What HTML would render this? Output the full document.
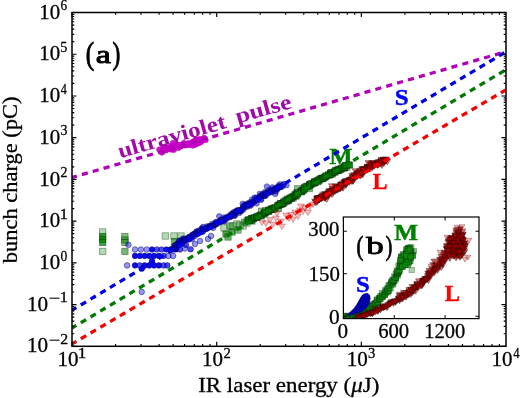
<!DOCTYPE html><html><head><meta charset="utf-8"><style>html,body{margin:0;padding:0;background:#fff;overflow:hidden}svg{display:block}</style></head><body><svg width="520" height="398" viewBox="0 0 520 398">
<defs><clipPath id="cm"><rect x="72.0" y="12.5" width="434.0" height="333.8"/></clipPath></defs>
<rect width="520" height="398" fill="#fff"/>
<text transform="translate(394.85,105.40) scale(1.0965,1)" font-family="'Liberation Serif','DejaVu Serif',serif" font-size="22.8" font-weight="bold" fill="#0000ff" stroke="#0000ff" stroke-width="0.45">S</text>
<text transform="translate(329.41,163.50) scale(1.0673,1)" font-family="'Liberation Serif','DejaVu Serif',serif" font-size="22.8" font-weight="bold" fill="#008000" stroke="#008000" stroke-width="0.45">M</text>
<text transform="translate(372.86,188.60) scale(0.9483,1)" font-family="'Liberation Serif','DejaVu Serif',serif" font-size="23.2" font-weight="bold" fill="#ff0000" stroke="#ff0000" stroke-width="0.45">L</text>
<circle cx="159.4" cy="149.6" r="2.8" fill="#c400c4" fill-opacity="0.9" stroke="#c400c4" stroke-opacity="0.9" stroke-width="0.7"/>
<circle cx="161.9" cy="152.5" r="2.8" fill="#c400c4" fill-opacity="0.9" stroke="#c400c4" stroke-opacity="0.9" stroke-width="0.7"/>
<circle cx="162.3" cy="151.5" r="2.8" fill="#c400c4" fill-opacity="0.9" stroke="#c400c4" stroke-opacity="0.9" stroke-width="0.7"/>
<circle cx="163.3" cy="149.4" r="2.8" fill="#c400c4" fill-opacity="0.9" stroke="#c400c4" stroke-opacity="0.9" stroke-width="0.7"/>
<circle cx="163.3" cy="147.8" r="2.8" fill="#c400c4" fill-opacity="0.9" stroke="#c400c4" stroke-opacity="0.9" stroke-width="0.7"/>
<circle cx="165.5" cy="149.4" r="2.8" fill="#c400c4" fill-opacity="0.9" stroke="#c400c4" stroke-opacity="0.9" stroke-width="0.7"/>
<circle cx="165.6" cy="150.2" r="2.8" fill="#c400c4" fill-opacity="0.9" stroke="#c400c4" stroke-opacity="0.9" stroke-width="0.7"/>
<circle cx="167.5" cy="148.3" r="2.8" fill="#c400c4" fill-opacity="0.9" stroke="#c400c4" stroke-opacity="0.9" stroke-width="0.7"/>
<circle cx="164.5" cy="146.8" r="2.8" fill="#c400c4" fill-opacity="0.9" stroke="#c400c4" stroke-opacity="0.9" stroke-width="0.7"/>
<circle cx="166.5" cy="149.7" r="2.8" fill="#c400c4" fill-opacity="0.9" stroke="#c400c4" stroke-opacity="0.9" stroke-width="0.7"/>
<circle cx="168.0" cy="148.0" r="2.8" fill="#c400c4" fill-opacity="0.9" stroke="#c400c4" stroke-opacity="0.9" stroke-width="0.7"/>
<circle cx="166.7" cy="148.1" r="2.8" fill="#c400c4" fill-opacity="0.9" stroke="#c400c4" stroke-opacity="0.9" stroke-width="0.7"/>
<circle cx="170.4" cy="147.0" r="2.8" fill="#c400c4" fill-opacity="0.9" stroke="#c400c4" stroke-opacity="0.9" stroke-width="0.7"/>
<circle cx="169.9" cy="148.0" r="2.8" fill="#c400c4" fill-opacity="0.9" stroke="#c400c4" stroke-opacity="0.9" stroke-width="0.7"/>
<circle cx="171.1" cy="149.4" r="2.8" fill="#c400c4" fill-opacity="0.9" stroke="#c400c4" stroke-opacity="0.9" stroke-width="0.7"/>
<circle cx="171.9" cy="148.6" r="2.8" fill="#c400c4" fill-opacity="0.9" stroke="#c400c4" stroke-opacity="0.9" stroke-width="0.7"/>
<circle cx="173.8" cy="149.7" r="2.8" fill="#c400c4" fill-opacity="0.9" stroke="#c400c4" stroke-opacity="0.9" stroke-width="0.7"/>
<circle cx="171.1" cy="147.4" r="2.8" fill="#c400c4" fill-opacity="0.9" stroke="#c400c4" stroke-opacity="0.9" stroke-width="0.7"/>
<circle cx="172.6" cy="148.0" r="2.8" fill="#c400c4" fill-opacity="0.9" stroke="#c400c4" stroke-opacity="0.9" stroke-width="0.7"/>
<circle cx="174.0" cy="147.2" r="2.8" fill="#c400c4" fill-opacity="0.9" stroke="#c400c4" stroke-opacity="0.9" stroke-width="0.7"/>
<circle cx="173.1" cy="143.1" r="2.8" fill="#c400c4" fill-opacity="0.9" stroke="#c400c4" stroke-opacity="0.9" stroke-width="0.7"/>
<circle cx="174.3" cy="147.0" r="2.8" fill="#c400c4" fill-opacity="0.9" stroke="#c400c4" stroke-opacity="0.9" stroke-width="0.7"/>
<circle cx="175.1" cy="146.6" r="2.8" fill="#c400c4" fill-opacity="0.9" stroke="#c400c4" stroke-opacity="0.9" stroke-width="0.7"/>
<circle cx="172.8" cy="146.4" r="2.8" fill="#c400c4" fill-opacity="0.9" stroke="#c400c4" stroke-opacity="0.9" stroke-width="0.7"/>
<circle cx="175.9" cy="145.5" r="2.8" fill="#c400c4" fill-opacity="0.9" stroke="#c400c4" stroke-opacity="0.9" stroke-width="0.7"/>
<circle cx="177.2" cy="145.0" r="2.8" fill="#c400c4" fill-opacity="0.9" stroke="#c400c4" stroke-opacity="0.9" stroke-width="0.7"/>
<circle cx="176.8" cy="144.9" r="2.8" fill="#c400c4" fill-opacity="0.9" stroke="#c400c4" stroke-opacity="0.9" stroke-width="0.7"/>
<circle cx="178.5" cy="147.8" r="2.8" fill="#c400c4" fill-opacity="0.9" stroke="#c400c4" stroke-opacity="0.9" stroke-width="0.7"/>
<circle cx="177.9" cy="145.0" r="2.8" fill="#c400c4" fill-opacity="0.9" stroke="#c400c4" stroke-opacity="0.9" stroke-width="0.7"/>
<circle cx="179.4" cy="145.8" r="2.8" fill="#c400c4" fill-opacity="0.9" stroke="#c400c4" stroke-opacity="0.9" stroke-width="0.7"/>
<circle cx="181.0" cy="145.2" r="2.8" fill="#c400c4" fill-opacity="0.9" stroke="#c400c4" stroke-opacity="0.9" stroke-width="0.7"/>
<circle cx="181.0" cy="146.2" r="2.8" fill="#c400c4" fill-opacity="0.9" stroke="#c400c4" stroke-opacity="0.9" stroke-width="0.7"/>
<circle cx="180.5" cy="145.8" r="2.8" fill="#c400c4" fill-opacity="0.9" stroke="#c400c4" stroke-opacity="0.9" stroke-width="0.7"/>
<circle cx="181.4" cy="145.0" r="2.8" fill="#c400c4" fill-opacity="0.9" stroke="#c400c4" stroke-opacity="0.9" stroke-width="0.7"/>
<circle cx="181.7" cy="145.2" r="2.8" fill="#c400c4" fill-opacity="0.9" stroke="#c400c4" stroke-opacity="0.9" stroke-width="0.7"/>
<circle cx="183.8" cy="143.2" r="2.8" fill="#c400c4" fill-opacity="0.9" stroke="#c400c4" stroke-opacity="0.9" stroke-width="0.7"/>
<circle cx="184.6" cy="145.1" r="2.8" fill="#c400c4" fill-opacity="0.9" stroke="#c400c4" stroke-opacity="0.9" stroke-width="0.7"/>
<circle cx="184.8" cy="144.6" r="2.8" fill="#c400c4" fill-opacity="0.9" stroke="#c400c4" stroke-opacity="0.9" stroke-width="0.7"/>
<circle cx="186.2" cy="145.1" r="2.8" fill="#c400c4" fill-opacity="0.9" stroke="#c400c4" stroke-opacity="0.9" stroke-width="0.7"/>
<circle cx="184.7" cy="143.9" r="2.8" fill="#c400c4" fill-opacity="0.9" stroke="#c400c4" stroke-opacity="0.9" stroke-width="0.7"/>
<circle cx="186.4" cy="144.5" r="2.8" fill="#c400c4" fill-opacity="0.9" stroke="#c400c4" stroke-opacity="0.9" stroke-width="0.7"/>
<circle cx="189.2" cy="144.5" r="2.8" fill="#c400c4" fill-opacity="0.9" stroke="#c400c4" stroke-opacity="0.9" stroke-width="0.7"/>
<circle cx="189.1" cy="144.3" r="2.8" fill="#c400c4" fill-opacity="0.9" stroke="#c400c4" stroke-opacity="0.9" stroke-width="0.7"/>
<circle cx="188.3" cy="144.6" r="2.8" fill="#c400c4" fill-opacity="0.9" stroke="#c400c4" stroke-opacity="0.9" stroke-width="0.7"/>
<circle cx="188.3" cy="143.2" r="2.8" fill="#c400c4" fill-opacity="0.9" stroke="#c400c4" stroke-opacity="0.9" stroke-width="0.7"/>
<circle cx="190.2" cy="144.1" r="2.8" fill="#c400c4" fill-opacity="0.9" stroke="#c400c4" stroke-opacity="0.9" stroke-width="0.7"/>
<circle cx="192.7" cy="145.4" r="2.8" fill="#c400c4" fill-opacity="0.9" stroke="#c400c4" stroke-opacity="0.9" stroke-width="0.7"/>
<circle cx="191.5" cy="143.9" r="2.8" fill="#c400c4" fill-opacity="0.9" stroke="#c400c4" stroke-opacity="0.9" stroke-width="0.7"/>
<circle cx="192.7" cy="142.0" r="2.8" fill="#c400c4" fill-opacity="0.9" stroke="#c400c4" stroke-opacity="0.9" stroke-width="0.7"/>
<circle cx="191.9" cy="143.0" r="2.8" fill="#c400c4" fill-opacity="0.9" stroke="#c400c4" stroke-opacity="0.9" stroke-width="0.7"/>
<circle cx="193.4" cy="142.7" r="2.8" fill="#c400c4" fill-opacity="0.9" stroke="#c400c4" stroke-opacity="0.9" stroke-width="0.7"/>
<circle cx="195.4" cy="144.4" r="2.8" fill="#c400c4" fill-opacity="0.9" stroke="#c400c4" stroke-opacity="0.9" stroke-width="0.7"/>
<circle cx="194.9" cy="144.2" r="2.8" fill="#c400c4" fill-opacity="0.9" stroke="#c400c4" stroke-opacity="0.9" stroke-width="0.7"/>
<circle cx="195.5" cy="141.3" r="2.8" fill="#c400c4" fill-opacity="0.9" stroke="#c400c4" stroke-opacity="0.9" stroke-width="0.7"/>
<circle cx="195.9" cy="141.1" r="2.8" fill="#c400c4" fill-opacity="0.9" stroke="#c400c4" stroke-opacity="0.9" stroke-width="0.7"/>
<circle cx="195.3" cy="140.0" r="2.8" fill="#c400c4" fill-opacity="0.9" stroke="#c400c4" stroke-opacity="0.9" stroke-width="0.7"/>
<circle cx="196.6" cy="139.5" r="2.8" fill="#c400c4" fill-opacity="0.9" stroke="#c400c4" stroke-opacity="0.9" stroke-width="0.7"/>
<circle cx="198.6" cy="143.2" r="2.8" fill="#c400c4" fill-opacity="0.9" stroke="#c400c4" stroke-opacity="0.9" stroke-width="0.7"/>
<circle cx="199.3" cy="139.4" r="2.8" fill="#c400c4" fill-opacity="0.9" stroke="#c400c4" stroke-opacity="0.9" stroke-width="0.7"/>
<circle cx="197.3" cy="141.4" r="2.8" fill="#c400c4" fill-opacity="0.9" stroke="#c400c4" stroke-opacity="0.9" stroke-width="0.7"/>
<circle cx="199.4" cy="141.1" r="2.8" fill="#c400c4" fill-opacity="0.9" stroke="#c400c4" stroke-opacity="0.9" stroke-width="0.7"/>
<circle cx="199.6" cy="141.3" r="2.8" fill="#c400c4" fill-opacity="0.9" stroke="#c400c4" stroke-opacity="0.9" stroke-width="0.7"/>
<circle cx="200.7" cy="142.0" r="2.8" fill="#c400c4" fill-opacity="0.9" stroke="#c400c4" stroke-opacity="0.9" stroke-width="0.7"/>
<circle cx="199.8" cy="139.9" r="2.8" fill="#c400c4" fill-opacity="0.9" stroke="#c400c4" stroke-opacity="0.9" stroke-width="0.7"/>
<circle cx="201.3" cy="141.0" r="2.8" fill="#c400c4" fill-opacity="0.9" stroke="#c400c4" stroke-opacity="0.9" stroke-width="0.7"/>
<circle cx="203.2" cy="139.8" r="2.8" fill="#c400c4" fill-opacity="0.9" stroke="#c400c4" stroke-opacity="0.9" stroke-width="0.7"/>
<circle cx="201.8" cy="139.3" r="2.8" fill="#c400c4" fill-opacity="0.9" stroke="#c400c4" stroke-opacity="0.9" stroke-width="0.7"/>
<circle cx="205.5" cy="140.0" r="2.8" fill="#c400c4" fill-opacity="0.9" stroke="#c400c4" stroke-opacity="0.9" stroke-width="0.7"/>
<circle cx="204.0" cy="138.0" r="2.8" fill="#c400c4" fill-opacity="0.9" stroke="#c400c4" stroke-opacity="0.9" stroke-width="0.7"/>
<circle cx="204.7" cy="138.8" r="2.8" fill="#c400c4" fill-opacity="0.9" stroke="#c400c4" stroke-opacity="0.9" stroke-width="0.7"/>
<rect x="99.5" y="228.8" width="6.4" height="6.4" fill="#008000" fill-opacity="0.3" stroke="#003000" stroke-opacity="0.5" stroke-width="0.7"/>
<rect x="99.5" y="233.3" width="6.4" height="6.4" fill="#008000" fill-opacity="0.75" stroke="#003000" stroke-opacity="0.5" stroke-width="0.7"/>
<rect x="99.5" y="236.3" width="6.4" height="6.4" fill="#008000" fill-opacity="0.75" stroke="#003000" stroke-opacity="0.5" stroke-width="0.7"/>
<rect x="99.5" y="239.3" width="6.4" height="6.4" fill="#008000" fill-opacity="0.75" stroke="#003000" stroke-opacity="0.5" stroke-width="0.7"/>
<rect x="99.5" y="248.2" width="6.4" height="6.4" fill="#008000" fill-opacity="0.3" stroke="#003000" stroke-opacity="0.5" stroke-width="0.7"/>
<rect x="121.7" y="233.3" width="6.4" height="6.4" fill="#008000" fill-opacity="0.5" stroke="#003000" stroke-opacity="0.5" stroke-width="0.7"/>
<rect x="121.7" y="236.8" width="6.4" height="6.4" fill="#008000" fill-opacity="0.5" stroke="#003000" stroke-opacity="0.5" stroke-width="0.7"/>
<rect x="121.7" y="239.3" width="6.4" height="6.4" fill="#008000" fill-opacity="0.5" stroke="#003000" stroke-opacity="0.5" stroke-width="0.7"/>
<rect x="121.7" y="248.2" width="6.4" height="6.4" fill="#008000" fill-opacity="0.55" stroke="#003000" stroke-opacity="0.5" stroke-width="0.7"/>
<rect x="162.1" y="232.8" width="6.4" height="6.4" fill="#008000" fill-opacity="0.3" stroke="#003000" stroke-opacity="0.5" stroke-width="0.7"/>
<rect x="170.8" y="232.8" width="6.4" height="6.4" fill="#008000" fill-opacity="0.3" stroke="#003000" stroke-opacity="0.5" stroke-width="0.7"/>
<rect x="177.8" y="232.8" width="6.4" height="6.4" fill="#008000" fill-opacity="0.3" stroke="#003000" stroke-opacity="0.5" stroke-width="0.7"/>
<rect x="171.3" y="238.3" width="6.4" height="6.4" fill="#008000" fill-opacity="0.6" stroke="#003000" stroke-opacity="0.5" stroke-width="0.7"/>
<circle cx="135.0" cy="249.5" r="2.8" fill="#0000f0" fill-opacity="0.42" stroke="#000050" stroke-opacity="0.65" stroke-width="0.7"/>
<circle cx="140.9" cy="249.5" r="2.8" fill="#0000f0" fill-opacity="0.42" stroke="#000050" stroke-opacity="0.65" stroke-width="0.7"/>
<circle cx="146.7" cy="249.5" r="2.8" fill="#0000f0" fill-opacity="0.42" stroke="#000050" stroke-opacity="0.65" stroke-width="0.7"/>
<circle cx="152.0" cy="249.5" r="2.8" fill="#0000f0" fill-opacity="0.95" stroke="#000050" stroke-opacity="0.65" stroke-width="0.7"/>
<circle cx="156.7" cy="249.5" r="2.8" fill="#0000f0" fill-opacity="0.7" stroke="#000050" stroke-opacity="0.65" stroke-width="0.7"/>
<circle cx="161.5" cy="249.5" r="2.8" fill="#0000f0" fill-opacity="0.7" stroke="#000050" stroke-opacity="0.65" stroke-width="0.7"/>
<circle cx="166.3" cy="249.5" r="2.8" fill="#0000f0" fill-opacity="0.95" stroke="#000050" stroke-opacity="0.65" stroke-width="0.7"/>
<circle cx="170.5" cy="249.5" r="2.8" fill="#0000f0" fill-opacity="0.95" stroke="#000050" stroke-opacity="0.65" stroke-width="0.7"/>
<circle cx="175.8" cy="249.5" r="2.8" fill="#0000f0" fill-opacity="0.95" stroke="#000050" stroke-opacity="0.65" stroke-width="0.7"/>
<circle cx="135.0" cy="255.9" r="2.8" fill="#0000f0" fill-opacity="0.95" stroke="#000050" stroke-opacity="0.65" stroke-width="0.7"/>
<circle cx="139.8" cy="255.9" r="2.8" fill="#0000f0" fill-opacity="0.95" stroke="#000050" stroke-opacity="0.65" stroke-width="0.7"/>
<circle cx="144.6" cy="255.9" r="2.8" fill="#0000f0" fill-opacity="0.95" stroke="#000050" stroke-opacity="0.65" stroke-width="0.7"/>
<circle cx="149.3" cy="255.9" r="2.8" fill="#0000f0" fill-opacity="0.95" stroke="#000050" stroke-opacity="0.65" stroke-width="0.7"/>
<circle cx="154.1" cy="255.9" r="2.8" fill="#0000f0" fill-opacity="0.95" stroke="#000050" stroke-opacity="0.65" stroke-width="0.7"/>
<circle cx="158.9" cy="255.9" r="2.8" fill="#0000f0" fill-opacity="0.95" stroke="#000050" stroke-opacity="0.65" stroke-width="0.7"/>
<circle cx="163.6" cy="255.9" r="2.8" fill="#0000f0" fill-opacity="0.7" stroke="#000050" stroke-opacity="0.65" stroke-width="0.7"/>
<circle cx="168.4" cy="255.9" r="2.8" fill="#0000f0" fill-opacity="0.42" stroke="#000050" stroke-opacity="0.65" stroke-width="0.7"/>
<circle cx="173.1" cy="255.9" r="2.8" fill="#0000f0" fill-opacity="0.42" stroke="#000050" stroke-opacity="0.65" stroke-width="0.7"/>
<circle cx="127.1" cy="265.4" r="2.8" fill="#0000f0" fill-opacity="0.42" stroke="#000050" stroke-opacity="0.65" stroke-width="0.7"/>
<circle cx="135.0" cy="265.4" r="2.8" fill="#0000f0" fill-opacity="0.95" stroke="#000050" stroke-opacity="0.65" stroke-width="0.7"/>
<circle cx="139.8" cy="265.4" r="2.8" fill="#0000f0" fill-opacity="0.7" stroke="#000050" stroke-opacity="0.65" stroke-width="0.7"/>
<circle cx="144.6" cy="265.4" r="2.8" fill="#0000f0" fill-opacity="0.95" stroke="#000050" stroke-opacity="0.65" stroke-width="0.7"/>
<circle cx="149.3" cy="265.4" r="2.8" fill="#0000f0" fill-opacity="0.95" stroke="#000050" stroke-opacity="0.65" stroke-width="0.7"/>
<circle cx="154.1" cy="265.4" r="2.8" fill="#0000f0" fill-opacity="0.95" stroke="#000050" stroke-opacity="0.65" stroke-width="0.7"/>
<circle cx="158.9" cy="265.4" r="2.8" fill="#0000f0" fill-opacity="0.95" stroke="#000050" stroke-opacity="0.65" stroke-width="0.7"/>
<circle cx="163.6" cy="265.4" r="2.8" fill="#0000f0" fill-opacity="0.7" stroke="#000050" stroke-opacity="0.65" stroke-width="0.7"/>
<circle cx="167.3" cy="265.4" r="2.8" fill="#0000f0" fill-opacity="0.7" stroke="#000050" stroke-opacity="0.65" stroke-width="0.7"/>
<circle cx="152.0" cy="261.0" r="2.8" fill="#0000f0" fill-opacity="0.95" stroke="#000050" stroke-opacity="0.65" stroke-width="0.7"/>
<circle cx="142.0" cy="268.6" r="2.8" fill="#0000f0" fill-opacity="0.95" stroke="#000050" stroke-opacity="0.65" stroke-width="0.7"/>
<circle cx="128.4" cy="244.8" r="2.8" fill="#0000f0" fill-opacity="0.42" stroke="#000050" stroke-opacity="0.65" stroke-width="0.7"/>
<circle cx="141.7" cy="291.9" r="2.8" fill="#0000f0" fill-opacity="0.42" stroke="#000050" stroke-opacity="0.65" stroke-width="0.7"/>
<circle cx="180.0" cy="249.5" r="2.8" fill="#0000f0" fill-opacity="0.7" stroke="#000050" stroke-opacity="0.65" stroke-width="0.7"/>
<circle cx="185.0" cy="248.5" r="2.8" fill="#0000f0" fill-opacity="0.42" stroke="#000050" stroke-opacity="0.65" stroke-width="0.7"/>
<circle cx="190.6" cy="249.3" r="2.8" fill="#0000f0" fill-opacity="0.7" stroke="#000050" stroke-opacity="0.65" stroke-width="0.7"/>
<circle cx="186.0" cy="245.0" r="2.8" fill="#0000f0" fill-opacity="0.7" stroke="#000050" stroke-opacity="0.65" stroke-width="0.7"/>
<circle cx="195.0" cy="244.0" r="2.8" fill="#0000f0" fill-opacity="0.42" stroke="#000050" stroke-opacity="0.65" stroke-width="0.7"/>
<circle cx="200.0" cy="241.0" r="2.8" fill="#0000f0" fill-opacity="0.42" stroke="#000050" stroke-opacity="0.65" stroke-width="0.7"/>
<circle cx="211.0" cy="236.0" r="2.8" fill="#0000f0" fill-opacity="0.42" stroke="#000050" stroke-opacity="0.65" stroke-width="0.7"/>
<circle cx="208.0" cy="239.0" r="2.8" fill="#0000f0" fill-opacity="0.42" stroke="#000050" stroke-opacity="0.65" stroke-width="0.7"/>
<rect x="220.8" y="224.8" width="6.4" height="6.4" fill="#008000" fill-opacity="0.3" stroke="#003000" stroke-opacity="0.5" stroke-width="0.7"/>
<rect x="222.8" y="230.8" width="6.4" height="6.4" fill="#008000" fill-opacity="0.7" stroke="#003000" stroke-opacity="0.5" stroke-width="0.7"/>
<rect x="226.8" y="222.8" width="6.4" height="6.4" fill="#008000" fill-opacity="0.5" stroke="#003000" stroke-opacity="0.5" stroke-width="0.7"/>
<rect x="228.8" y="228.8" width="6.4" height="6.4" fill="#008000" fill-opacity="0.7" stroke="#003000" stroke-opacity="0.5" stroke-width="0.7"/>
<rect x="233.8" y="220.8" width="6.4" height="6.4" fill="#008000" fill-opacity="0.3" stroke="#003000" stroke-opacity="0.5" stroke-width="0.7"/>
<rect x="234.8" y="226.8" width="6.4" height="6.4" fill="#008000" fill-opacity="0.5" stroke="#003000" stroke-opacity="0.5" stroke-width="0.7"/>
<rect x="239.8" y="222.8" width="6.4" height="6.4" fill="#008000" fill-opacity="0.3" stroke="#003000" stroke-opacity="0.5" stroke-width="0.7"/>
<rect x="229.8" y="222.8" width="6.4" height="6.4" fill="#008000" fill-opacity="0.3" stroke="#003000" stroke-opacity="0.5" stroke-width="0.7"/>
<rect x="236.8" y="221.8" width="6.4" height="6.4" fill="#008000" fill-opacity="0.3" stroke="#003000" stroke-opacity="0.5" stroke-width="0.7"/>
<rect x="243.8" y="219.8" width="6.4" height="6.4" fill="#008000" fill-opacity="0.3" stroke="#003000" stroke-opacity="0.5" stroke-width="0.7"/>
<rect x="248.8" y="217.8" width="6.4" height="6.4" fill="#008000" fill-opacity="0.35" stroke="#003000" stroke-opacity="0.5" stroke-width="0.7"/>
<rect x="224.8" y="233.8" width="6.4" height="6.4" fill="#008000" fill-opacity="0.6" stroke="#003000" stroke-opacity="0.5" stroke-width="0.7"/>
<circle cx="172.5" cy="249.8" r="2.8" fill="#0000f0" fill-opacity="0.5" stroke="#000030" stroke-opacity="0.5" stroke-width="0.7"/>
<circle cx="173.5" cy="248.9" r="2.8" fill="#0000f0" fill-opacity="0.5" stroke="#000030" stroke-opacity="0.5" stroke-width="0.7"/>
<circle cx="172.4" cy="248.6" r="2.8" fill="#0000f0" fill-opacity="0.5" stroke="#000030" stroke-opacity="0.5" stroke-width="0.7"/>
<circle cx="174.1" cy="245.9" r="2.8" fill="#0000f0" fill-opacity="0.5" stroke="#000030" stroke-opacity="0.5" stroke-width="0.7"/>
<circle cx="175.0" cy="246.4" r="2.8" fill="#0000f0" fill-opacity="0.5" stroke="#000030" stroke-opacity="0.5" stroke-width="0.7"/>
<circle cx="174.6" cy="247.6" r="2.8" fill="#0000f0" fill-opacity="0.5" stroke="#000030" stroke-opacity="0.5" stroke-width="0.7"/>
<circle cx="175.5" cy="247.6" r="2.8" fill="#0000f0" fill-opacity="0.5" stroke="#000030" stroke-opacity="0.5" stroke-width="0.7"/>
<circle cx="176.4" cy="247.8" r="2.8" fill="#0000f0" fill-opacity="0.5" stroke="#000030" stroke-opacity="0.5" stroke-width="0.7"/>
<circle cx="176.3" cy="244.4" r="2.8" fill="#0000f0" fill-opacity="0.5" stroke="#000030" stroke-opacity="0.5" stroke-width="0.7"/>
<circle cx="176.6" cy="245.4" r="2.8" fill="#0000f0" fill-opacity="0.5" stroke="#000030" stroke-opacity="0.5" stroke-width="0.7"/>
<circle cx="177.0" cy="244.8" r="2.8" fill="#0000f0" fill-opacity="0.5" stroke="#000030" stroke-opacity="0.5" stroke-width="0.7"/>
<circle cx="177.4" cy="245.7" r="2.8" fill="#0000f0" fill-opacity="0.5" stroke="#000030" stroke-opacity="0.5" stroke-width="0.7"/>
<circle cx="177.0" cy="244.9" r="2.8" fill="#0000f0" fill-opacity="0.5" stroke="#000030" stroke-opacity="0.5" stroke-width="0.7"/>
<circle cx="178.6" cy="243.7" r="2.8" fill="#0000f0" fill-opacity="0.5" stroke="#000030" stroke-opacity="0.5" stroke-width="0.7"/>
<circle cx="177.3" cy="243.9" r="2.8" fill="#0000f0" fill-opacity="0.5" stroke="#000030" stroke-opacity="0.5" stroke-width="0.7"/>
<circle cx="179.4" cy="244.3" r="2.8" fill="#0000f0" fill-opacity="0.5" stroke="#000030" stroke-opacity="0.5" stroke-width="0.7"/>
<circle cx="180.2" cy="241.6" r="2.8" fill="#0000f0" fill-opacity="0.5" stroke="#000030" stroke-opacity="0.5" stroke-width="0.7"/>
<circle cx="178.7" cy="241.7" r="2.8" fill="#0000f0" fill-opacity="0.5" stroke="#000030" stroke-opacity="0.5" stroke-width="0.7"/>
<circle cx="180.1" cy="244.0" r="2.8" fill="#0000f0" fill-opacity="0.5" stroke="#000030" stroke-opacity="0.5" stroke-width="0.7"/>
<circle cx="179.6" cy="241.0" r="2.8" fill="#0000f0" fill-opacity="0.5" stroke="#000030" stroke-opacity="0.5" stroke-width="0.7"/>
<circle cx="180.1" cy="242.9" r="2.8" fill="#0000f0" fill-opacity="0.5" stroke="#000030" stroke-opacity="0.5" stroke-width="0.7"/>
<circle cx="183.1" cy="239.8" r="2.8" fill="#0000f0" fill-opacity="0.5" stroke="#000030" stroke-opacity="0.5" stroke-width="0.7"/>
<circle cx="180.3" cy="240.4" r="2.8" fill="#0000f0" fill-opacity="0.5" stroke="#000030" stroke-opacity="0.5" stroke-width="0.7"/>
<circle cx="182.5" cy="241.2" r="2.8" fill="#0000f0" fill-opacity="0.5" stroke="#000030" stroke-opacity="0.5" stroke-width="0.7"/>
<circle cx="182.6" cy="241.6" r="2.8" fill="#0000f0" fill-opacity="0.5" stroke="#000030" stroke-opacity="0.5" stroke-width="0.7"/>
<circle cx="182.3" cy="243.4" r="2.8" fill="#0000f0" fill-opacity="0.5" stroke="#000030" stroke-opacity="0.5" stroke-width="0.7"/>
<circle cx="182.9" cy="238.8" r="2.8" fill="#0000f0" fill-opacity="0.5" stroke="#000030" stroke-opacity="0.5" stroke-width="0.7"/>
<circle cx="183.8" cy="238.6" r="2.8" fill="#0000f0" fill-opacity="0.5" stroke="#000030" stroke-opacity="0.5" stroke-width="0.7"/>
<circle cx="187.4" cy="238.2" r="2.8" fill="#0000f0" fill-opacity="0.5" stroke="#000030" stroke-opacity="0.5" stroke-width="0.7"/>
<circle cx="184.3" cy="240.4" r="2.8" fill="#0000f0" fill-opacity="0.5" stroke="#000030" stroke-opacity="0.5" stroke-width="0.7"/>
<circle cx="186.9" cy="239.3" r="2.8" fill="#0000f0" fill-opacity="0.5" stroke="#000030" stroke-opacity="0.5" stroke-width="0.7"/>
<circle cx="185.4" cy="240.2" r="2.8" fill="#0000f0" fill-opacity="0.5" stroke="#000030" stroke-opacity="0.5" stroke-width="0.7"/>
<circle cx="185.5" cy="239.5" r="2.8" fill="#0000f0" fill-opacity="0.5" stroke="#000030" stroke-opacity="0.5" stroke-width="0.7"/>
<circle cx="187.8" cy="238.2" r="2.8" fill="#0000f0" fill-opacity="0.5" stroke="#000030" stroke-opacity="0.5" stroke-width="0.7"/>
<circle cx="187.0" cy="238.5" r="2.8" fill="#0000f0" fill-opacity="0.5" stroke="#000030" stroke-opacity="0.5" stroke-width="0.7"/>
<circle cx="189.0" cy="238.6" r="2.8" fill="#0000f0" fill-opacity="0.5" stroke="#000030" stroke-opacity="0.5" stroke-width="0.7"/>
<circle cx="188.1" cy="238.5" r="2.8" fill="#0000f0" fill-opacity="0.5" stroke="#000030" stroke-opacity="0.5" stroke-width="0.7"/>
<circle cx="189.7" cy="236.7" r="2.8" fill="#0000f0" fill-opacity="0.5" stroke="#000030" stroke-opacity="0.5" stroke-width="0.7"/>
<circle cx="189.5" cy="239.2" r="2.8" fill="#0000f0" fill-opacity="0.5" stroke="#000030" stroke-opacity="0.5" stroke-width="0.7"/>
<circle cx="192.3" cy="238.7" r="2.8" fill="#0000f0" fill-opacity="0.5" stroke="#000030" stroke-opacity="0.5" stroke-width="0.7"/>
<circle cx="189.7" cy="236.8" r="2.8" fill="#0000f0" fill-opacity="0.5" stroke="#000030" stroke-opacity="0.5" stroke-width="0.7"/>
<circle cx="190.1" cy="236.9" r="2.8" fill="#0000f0" fill-opacity="0.5" stroke="#000030" stroke-opacity="0.5" stroke-width="0.7"/>
<circle cx="192.1" cy="235.4" r="2.8" fill="#0000f0" fill-opacity="0.5" stroke="#000030" stroke-opacity="0.5" stroke-width="0.7"/>
<circle cx="193.7" cy="234.7" r="2.8" fill="#0000f0" fill-opacity="0.5" stroke="#000030" stroke-opacity="0.5" stroke-width="0.7"/>
<circle cx="193.6" cy="234.1" r="2.8" fill="#0000f0" fill-opacity="0.5" stroke="#000030" stroke-opacity="0.5" stroke-width="0.7"/>
<circle cx="193.6" cy="234.8" r="2.8" fill="#0000f0" fill-opacity="0.5" stroke="#000030" stroke-opacity="0.5" stroke-width="0.7"/>
<circle cx="192.6" cy="234.7" r="2.8" fill="#0000f0" fill-opacity="0.5" stroke="#000030" stroke-opacity="0.5" stroke-width="0.7"/>
<circle cx="195.0" cy="233.5" r="2.8" fill="#0000f0" fill-opacity="0.5" stroke="#000030" stroke-opacity="0.5" stroke-width="0.7"/>
<circle cx="195.0" cy="235.9" r="2.8" fill="#0000f0" fill-opacity="0.5" stroke="#000030" stroke-opacity="0.5" stroke-width="0.7"/>
<circle cx="196.4" cy="233.4" r="2.8" fill="#0000f0" fill-opacity="0.5" stroke="#000030" stroke-opacity="0.5" stroke-width="0.7"/>
<circle cx="196.1" cy="233.9" r="2.8" fill="#0000f0" fill-opacity="0.5" stroke="#000030" stroke-opacity="0.5" stroke-width="0.7"/>
<circle cx="197.3" cy="233.1" r="2.8" fill="#0000f0" fill-opacity="0.5" stroke="#000030" stroke-opacity="0.5" stroke-width="0.7"/>
<circle cx="196.4" cy="231.5" r="2.8" fill="#0000f0" fill-opacity="0.5" stroke="#000030" stroke-opacity="0.5" stroke-width="0.7"/>
<circle cx="197.2" cy="233.7" r="2.8" fill="#0000f0" fill-opacity="0.5" stroke="#000030" stroke-opacity="0.5" stroke-width="0.7"/>
<circle cx="199.2" cy="232.2" r="2.8" fill="#0000f0" fill-opacity="0.5" stroke="#000030" stroke-opacity="0.5" stroke-width="0.7"/>
<circle cx="196.8" cy="231.6" r="2.8" fill="#0000f0" fill-opacity="0.5" stroke="#000030" stroke-opacity="0.5" stroke-width="0.7"/>
<circle cx="199.1" cy="231.4" r="2.8" fill="#0000f0" fill-opacity="0.5" stroke="#000030" stroke-opacity="0.5" stroke-width="0.7"/>
<circle cx="198.9" cy="230.5" r="2.8" fill="#0000f0" fill-opacity="0.5" stroke="#000030" stroke-opacity="0.5" stroke-width="0.7"/>
<circle cx="200.0" cy="231.5" r="2.8" fill="#0000f0" fill-opacity="0.5" stroke="#000030" stroke-opacity="0.5" stroke-width="0.7"/>
<circle cx="201.2" cy="231.7" r="2.8" fill="#0000f0" fill-opacity="0.5" stroke="#000030" stroke-opacity="0.5" stroke-width="0.7"/>
<circle cx="201.7" cy="228.3" r="2.8" fill="#0000f0" fill-opacity="0.5" stroke="#000030" stroke-opacity="0.5" stroke-width="0.7"/>
<circle cx="202.6" cy="230.7" r="2.8" fill="#0000f0" fill-opacity="0.5" stroke="#000030" stroke-opacity="0.5" stroke-width="0.7"/>
<circle cx="202.7" cy="231.8" r="2.8" fill="#0000f0" fill-opacity="0.5" stroke="#000030" stroke-opacity="0.5" stroke-width="0.7"/>
<circle cx="202.0" cy="229.0" r="2.8" fill="#0000f0" fill-opacity="0.5" stroke="#000030" stroke-opacity="0.5" stroke-width="0.7"/>
<circle cx="203.0" cy="231.0" r="2.8" fill="#0000f0" fill-opacity="0.5" stroke="#000030" stroke-opacity="0.5" stroke-width="0.7"/>
<circle cx="203.1" cy="226.9" r="2.8" fill="#0000f0" fill-opacity="0.5" stroke="#000030" stroke-opacity="0.5" stroke-width="0.7"/>
<circle cx="205.3" cy="228.7" r="2.8" fill="#0000f0" fill-opacity="0.5" stroke="#000030" stroke-opacity="0.5" stroke-width="0.7"/>
<circle cx="203.7" cy="229.3" r="2.8" fill="#0000f0" fill-opacity="0.5" stroke="#000030" stroke-opacity="0.5" stroke-width="0.7"/>
<circle cx="202.8" cy="228.8" r="2.8" fill="#0000f0" fill-opacity="0.5" stroke="#000030" stroke-opacity="0.5" stroke-width="0.7"/>
<circle cx="206.7" cy="228.7" r="2.8" fill="#0000f0" fill-opacity="0.5" stroke="#000030" stroke-opacity="0.5" stroke-width="0.7"/>
<circle cx="206.9" cy="227.7" r="2.8" fill="#0000f0" fill-opacity="0.5" stroke="#000030" stroke-opacity="0.5" stroke-width="0.7"/>
<circle cx="207.5" cy="228.2" r="2.8" fill="#0000f0" fill-opacity="0.5" stroke="#000030" stroke-opacity="0.5" stroke-width="0.7"/>
<circle cx="206.9" cy="228.0" r="2.8" fill="#0000f0" fill-opacity="0.5" stroke="#000030" stroke-opacity="0.5" stroke-width="0.7"/>
<circle cx="206.5" cy="228.6" r="2.8" fill="#0000f0" fill-opacity="0.5" stroke="#000030" stroke-opacity="0.5" stroke-width="0.7"/>
<circle cx="206.9" cy="226.4" r="2.8" fill="#0000f0" fill-opacity="0.5" stroke="#000030" stroke-opacity="0.5" stroke-width="0.7"/>
<circle cx="209.3" cy="226.8" r="2.8" fill="#0000f0" fill-opacity="0.5" stroke="#000030" stroke-opacity="0.5" stroke-width="0.7"/>
<circle cx="209.6" cy="226.5" r="2.8" fill="#0000f0" fill-opacity="0.5" stroke="#000030" stroke-opacity="0.5" stroke-width="0.7"/>
<circle cx="209.6" cy="226.0" r="2.8" fill="#0000f0" fill-opacity="0.5" stroke="#000030" stroke-opacity="0.5" stroke-width="0.7"/>
<circle cx="210.3" cy="226.5" r="2.8" fill="#0000f0" fill-opacity="0.5" stroke="#000030" stroke-opacity="0.5" stroke-width="0.7"/>
<circle cx="210.0" cy="226.7" r="2.8" fill="#0000f0" fill-opacity="0.5" stroke="#000030" stroke-opacity="0.5" stroke-width="0.7"/>
<circle cx="211.1" cy="226.6" r="2.8" fill="#0000f0" fill-opacity="0.5" stroke="#000030" stroke-opacity="0.5" stroke-width="0.7"/>
<circle cx="211.4" cy="226.2" r="2.8" fill="#0000f0" fill-opacity="0.5" stroke="#000030" stroke-opacity="0.5" stroke-width="0.7"/>
<circle cx="212.3" cy="225.5" r="2.8" fill="#0000f0" fill-opacity="0.5" stroke="#000030" stroke-opacity="0.5" stroke-width="0.7"/>
<circle cx="213.1" cy="228.0" r="2.8" fill="#0000f0" fill-opacity="0.5" stroke="#000030" stroke-opacity="0.5" stroke-width="0.7"/>
<circle cx="212.3" cy="223.8" r="2.8" fill="#0000f0" fill-opacity="0.5" stroke="#000030" stroke-opacity="0.5" stroke-width="0.7"/>
<circle cx="213.6" cy="225.3" r="2.8" fill="#0000f0" fill-opacity="0.5" stroke="#000030" stroke-opacity="0.5" stroke-width="0.7"/>
<circle cx="215.4" cy="224.6" r="2.8" fill="#0000f0" fill-opacity="0.5" stroke="#000030" stroke-opacity="0.5" stroke-width="0.7"/>
<circle cx="214.2" cy="224.8" r="2.8" fill="#0000f0" fill-opacity="0.5" stroke="#000030" stroke-opacity="0.5" stroke-width="0.7"/>
<circle cx="214.9" cy="224.3" r="2.8" fill="#0000f0" fill-opacity="0.5" stroke="#000030" stroke-opacity="0.5" stroke-width="0.7"/>
<circle cx="215.8" cy="223.9" r="2.8" fill="#0000f0" fill-opacity="0.5" stroke="#000030" stroke-opacity="0.5" stroke-width="0.7"/>
<circle cx="215.9" cy="224.3" r="2.8" fill="#0000f0" fill-opacity="0.5" stroke="#000030" stroke-opacity="0.5" stroke-width="0.7"/>
<circle cx="217.0" cy="223.8" r="2.8" fill="#0000f0" fill-opacity="0.5" stroke="#000030" stroke-opacity="0.5" stroke-width="0.7"/>
<circle cx="219.5" cy="222.4" r="2.8" fill="#0000f0" fill-opacity="0.5" stroke="#000030" stroke-opacity="0.5" stroke-width="0.7"/>
<circle cx="216.0" cy="222.3" r="2.8" fill="#0000f0" fill-opacity="0.5" stroke="#000030" stroke-opacity="0.5" stroke-width="0.7"/>
<circle cx="215.9" cy="222.2" r="2.8" fill="#0000f0" fill-opacity="0.5" stroke="#000030" stroke-opacity="0.5" stroke-width="0.7"/>
<circle cx="216.8" cy="222.4" r="2.8" fill="#0000f0" fill-opacity="0.5" stroke="#000030" stroke-opacity="0.5" stroke-width="0.7"/>
<circle cx="220.5" cy="220.7" r="2.8" fill="#0000f0" fill-opacity="0.5" stroke="#000030" stroke-opacity="0.5" stroke-width="0.7"/>
<circle cx="220.4" cy="221.9" r="2.8" fill="#0000f0" fill-opacity="0.5" stroke="#000030" stroke-opacity="0.5" stroke-width="0.7"/>
<circle cx="220.9" cy="220.8" r="2.8" fill="#0000f0" fill-opacity="0.5" stroke="#000030" stroke-opacity="0.5" stroke-width="0.7"/>
<circle cx="221.3" cy="220.0" r="2.8" fill="#0000f0" fill-opacity="0.5" stroke="#000030" stroke-opacity="0.5" stroke-width="0.7"/>
<circle cx="220.6" cy="220.1" r="2.8" fill="#0000f0" fill-opacity="0.5" stroke="#000030" stroke-opacity="0.5" stroke-width="0.7"/>
<circle cx="219.2" cy="216.3" r="2.8" fill="#0000f0" fill-opacity="0.5" stroke="#000030" stroke-opacity="0.5" stroke-width="0.7"/>
<circle cx="220.4" cy="221.3" r="2.8" fill="#0000f0" fill-opacity="0.5" stroke="#000030" stroke-opacity="0.5" stroke-width="0.7"/>
<circle cx="223.5" cy="220.2" r="2.8" fill="#0000f0" fill-opacity="0.5" stroke="#000030" stroke-opacity="0.5" stroke-width="0.7"/>
<circle cx="222.1" cy="219.4" r="2.8" fill="#0000f0" fill-opacity="0.5" stroke="#000030" stroke-opacity="0.5" stroke-width="0.7"/>
<circle cx="223.5" cy="219.8" r="2.8" fill="#0000f0" fill-opacity="0.5" stroke="#000030" stroke-opacity="0.5" stroke-width="0.7"/>
<circle cx="223.8" cy="220.6" r="2.8" fill="#0000f0" fill-opacity="0.5" stroke="#000030" stroke-opacity="0.5" stroke-width="0.7"/>
<circle cx="224.2" cy="221.5" r="2.8" fill="#0000f0" fill-opacity="0.5" stroke="#000030" stroke-opacity="0.5" stroke-width="0.7"/>
<circle cx="223.0" cy="220.6" r="2.8" fill="#0000f0" fill-opacity="0.5" stroke="#000030" stroke-opacity="0.5" stroke-width="0.7"/>
<circle cx="223.9" cy="217.5" r="2.8" fill="#0000f0" fill-opacity="0.5" stroke="#000030" stroke-opacity="0.5" stroke-width="0.7"/>
<circle cx="225.9" cy="217.5" r="2.8" fill="#0000f0" fill-opacity="0.5" stroke="#000030" stroke-opacity="0.5" stroke-width="0.7"/>
<circle cx="227.0" cy="218.4" r="2.8" fill="#0000f0" fill-opacity="0.5" stroke="#000030" stroke-opacity="0.5" stroke-width="0.7"/>
<circle cx="225.2" cy="219.3" r="2.8" fill="#0000f0" fill-opacity="0.5" stroke="#000030" stroke-opacity="0.5" stroke-width="0.7"/>
<circle cx="225.7" cy="218.6" r="2.8" fill="#0000f0" fill-opacity="0.5" stroke="#000030" stroke-opacity="0.5" stroke-width="0.7"/>
<circle cx="229.9" cy="216.2" r="2.8" fill="#0000f0" fill-opacity="0.5" stroke="#000030" stroke-opacity="0.5" stroke-width="0.7"/>
<circle cx="228.0" cy="216.6" r="2.8" fill="#0000f0" fill-opacity="0.5" stroke="#000030" stroke-opacity="0.5" stroke-width="0.7"/>
<circle cx="229.8" cy="216.4" r="2.8" fill="#0000f0" fill-opacity="0.5" stroke="#000030" stroke-opacity="0.5" stroke-width="0.7"/>
<circle cx="229.8" cy="216.0" r="2.8" fill="#0000f0" fill-opacity="0.5" stroke="#000030" stroke-opacity="0.5" stroke-width="0.7"/>
<circle cx="230.0" cy="217.3" r="2.8" fill="#0000f0" fill-opacity="0.5" stroke="#000030" stroke-opacity="0.5" stroke-width="0.7"/>
<circle cx="231.0" cy="214.4" r="2.8" fill="#0000f0" fill-opacity="0.5" stroke="#000030" stroke-opacity="0.5" stroke-width="0.7"/>
<circle cx="231.2" cy="216.3" r="2.8" fill="#0000f0" fill-opacity="0.5" stroke="#000030" stroke-opacity="0.5" stroke-width="0.7"/>
<circle cx="231.0" cy="215.7" r="2.8" fill="#0000f0" fill-opacity="0.5" stroke="#000030" stroke-opacity="0.5" stroke-width="0.7"/>
<circle cx="234.9" cy="215.4" r="2.8" fill="#0000f0" fill-opacity="0.5" stroke="#000030" stroke-opacity="0.5" stroke-width="0.7"/>
<circle cx="232.1" cy="213.5" r="2.8" fill="#0000f0" fill-opacity="0.5" stroke="#000030" stroke-opacity="0.5" stroke-width="0.7"/>
<circle cx="233.9" cy="214.9" r="2.8" fill="#0000f0" fill-opacity="0.5" stroke="#000030" stroke-opacity="0.5" stroke-width="0.7"/>
<circle cx="234.6" cy="215.8" r="2.8" fill="#0000f0" fill-opacity="0.5" stroke="#000030" stroke-opacity="0.5" stroke-width="0.7"/>
<circle cx="233.4" cy="214.1" r="2.8" fill="#0000f0" fill-opacity="0.5" stroke="#000030" stroke-opacity="0.5" stroke-width="0.7"/>
<circle cx="233.8" cy="212.0" r="2.8" fill="#0000f0" fill-opacity="0.5" stroke="#000030" stroke-opacity="0.5" stroke-width="0.7"/>
<circle cx="233.5" cy="213.6" r="2.8" fill="#0000f0" fill-opacity="0.5" stroke="#000030" stroke-opacity="0.5" stroke-width="0.7"/>
<circle cx="235.8" cy="212.4" r="2.8" fill="#0000f0" fill-opacity="0.5" stroke="#000030" stroke-opacity="0.5" stroke-width="0.7"/>
<circle cx="235.2" cy="212.4" r="2.8" fill="#0000f0" fill-opacity="0.5" stroke="#000030" stroke-opacity="0.5" stroke-width="0.7"/>
<circle cx="237.8" cy="210.2" r="2.8" fill="#0000f0" fill-opacity="0.5" stroke="#000030" stroke-opacity="0.5" stroke-width="0.7"/>
<circle cx="236.3" cy="211.6" r="2.8" fill="#0000f0" fill-opacity="0.5" stroke="#000030" stroke-opacity="0.5" stroke-width="0.7"/>
<circle cx="236.6" cy="210.5" r="2.8" fill="#0000f0" fill-opacity="0.5" stroke="#000030" stroke-opacity="0.5" stroke-width="0.7"/>
<circle cx="236.5" cy="211.7" r="2.8" fill="#0000f0" fill-opacity="0.5" stroke="#000030" stroke-opacity="0.5" stroke-width="0.7"/>
<circle cx="237.6" cy="211.1" r="2.8" fill="#0000f0" fill-opacity="0.5" stroke="#000030" stroke-opacity="0.5" stroke-width="0.7"/>
<circle cx="239.2" cy="213.1" r="2.8" fill="#0000f0" fill-opacity="0.5" stroke="#000030" stroke-opacity="0.5" stroke-width="0.7"/>
<circle cx="239.3" cy="211.1" r="2.8" fill="#0000f0" fill-opacity="0.5" stroke="#000030" stroke-opacity="0.5" stroke-width="0.7"/>
<circle cx="240.8" cy="211.4" r="2.8" fill="#0000f0" fill-opacity="0.5" stroke="#000030" stroke-opacity="0.5" stroke-width="0.7"/>
<circle cx="240.2" cy="209.9" r="2.8" fill="#0000f0" fill-opacity="0.5" stroke="#000030" stroke-opacity="0.5" stroke-width="0.7"/>
<circle cx="240.8" cy="210.8" r="2.8" fill="#0000f0" fill-opacity="0.5" stroke="#000030" stroke-opacity="0.5" stroke-width="0.7"/>
<circle cx="239.3" cy="210.3" r="2.8" fill="#0000f0" fill-opacity="0.5" stroke="#000030" stroke-opacity="0.5" stroke-width="0.7"/>
<circle cx="241.7" cy="210.0" r="2.8" fill="#0000f0" fill-opacity="0.5" stroke="#000030" stroke-opacity="0.5" stroke-width="0.7"/>
<circle cx="243.6" cy="209.4" r="2.8" fill="#0000f0" fill-opacity="0.5" stroke="#000030" stroke-opacity="0.5" stroke-width="0.7"/>
<circle cx="243.9" cy="207.6" r="2.8" fill="#0000f0" fill-opacity="0.5" stroke="#000030" stroke-opacity="0.5" stroke-width="0.7"/>
<circle cx="242.8" cy="207.3" r="2.8" fill="#0000f0" fill-opacity="0.5" stroke="#000030" stroke-opacity="0.5" stroke-width="0.7"/>
<circle cx="242.7" cy="203.8" r="2.8" fill="#0000f0" fill-opacity="0.5" stroke="#000030" stroke-opacity="0.5" stroke-width="0.7"/>
<circle cx="245.1" cy="205.3" r="2.8" fill="#0000f0" fill-opacity="0.5" stroke="#000030" stroke-opacity="0.5" stroke-width="0.7"/>
<circle cx="243.4" cy="206.5" r="2.8" fill="#0000f0" fill-opacity="0.5" stroke="#000030" stroke-opacity="0.5" stroke-width="0.7"/>
<circle cx="246.4" cy="204.4" r="2.8" fill="#0000f0" fill-opacity="0.5" stroke="#000030" stroke-opacity="0.5" stroke-width="0.7"/>
<circle cx="244.2" cy="206.4" r="2.8" fill="#0000f0" fill-opacity="0.5" stroke="#000030" stroke-opacity="0.5" stroke-width="0.7"/>
<circle cx="246.4" cy="206.6" r="2.8" fill="#0000f0" fill-opacity="0.5" stroke="#000030" stroke-opacity="0.5" stroke-width="0.7"/>
<circle cx="244.4" cy="205.1" r="2.8" fill="#0000f0" fill-opacity="0.5" stroke="#000030" stroke-opacity="0.5" stroke-width="0.7"/>
<circle cx="247.0" cy="205.3" r="2.8" fill="#0000f0" fill-opacity="0.5" stroke="#000030" stroke-opacity="0.5" stroke-width="0.7"/>
<circle cx="246.8" cy="204.7" r="2.8" fill="#0000f0" fill-opacity="0.5" stroke="#000030" stroke-opacity="0.5" stroke-width="0.7"/>
<circle cx="247.7" cy="206.5" r="2.8" fill="#0000f0" fill-opacity="0.5" stroke="#000030" stroke-opacity="0.5" stroke-width="0.7"/>
<circle cx="250.5" cy="205.7" r="2.8" fill="#0000f0" fill-opacity="0.5" stroke="#000030" stroke-opacity="0.5" stroke-width="0.7"/>
<circle cx="249.3" cy="204.7" r="2.8" fill="#0000f0" fill-opacity="0.5" stroke="#000030" stroke-opacity="0.5" stroke-width="0.7"/>
<circle cx="248.3" cy="204.3" r="2.8" fill="#0000f0" fill-opacity="0.5" stroke="#000030" stroke-opacity="0.5" stroke-width="0.7"/>
<circle cx="248.9" cy="203.9" r="2.8" fill="#0000f0" fill-opacity="0.5" stroke="#000030" stroke-opacity="0.5" stroke-width="0.7"/>
<circle cx="247.6" cy="205.1" r="2.8" fill="#0000f0" fill-opacity="0.5" stroke="#000030" stroke-opacity="0.5" stroke-width="0.7"/>
<circle cx="250.1" cy="203.7" r="2.8" fill="#0000f0" fill-opacity="0.5" stroke="#000030" stroke-opacity="0.5" stroke-width="0.7"/>
<circle cx="252.5" cy="202.9" r="2.8" fill="#0000f0" fill-opacity="0.5" stroke="#000030" stroke-opacity="0.5" stroke-width="0.7"/>
<circle cx="248.8" cy="202.7" r="2.8" fill="#0000f0" fill-opacity="0.5" stroke="#000030" stroke-opacity="0.5" stroke-width="0.7"/>
<circle cx="251.3" cy="201.9" r="2.8" fill="#0000f0" fill-opacity="0.5" stroke="#000030" stroke-opacity="0.5" stroke-width="0.7"/>
<circle cx="250.7" cy="203.9" r="2.8" fill="#0000f0" fill-opacity="0.5" stroke="#000030" stroke-opacity="0.5" stroke-width="0.7"/>
<circle cx="251.2" cy="204.5" r="2.8" fill="#0000f0" fill-opacity="0.5" stroke="#000030" stroke-opacity="0.5" stroke-width="0.7"/>
<circle cx="253.4" cy="201.7" r="2.8" fill="#0000f0" fill-opacity="0.5" stroke="#000030" stroke-opacity="0.5" stroke-width="0.7"/>
<circle cx="253.0" cy="202.6" r="2.8" fill="#0000f0" fill-opacity="0.5" stroke="#000030" stroke-opacity="0.5" stroke-width="0.7"/>
<circle cx="256.6" cy="203.4" r="2.8" fill="#0000f0" fill-opacity="0.5" stroke="#000030" stroke-opacity="0.5" stroke-width="0.7"/>
<circle cx="252.0" cy="199.6" r="2.8" fill="#0000f0" fill-opacity="0.5" stroke="#000030" stroke-opacity="0.5" stroke-width="0.7"/>
<circle cx="255.1" cy="200.8" r="2.8" fill="#0000f0" fill-opacity="0.5" stroke="#000030" stroke-opacity="0.5" stroke-width="0.7"/>
<circle cx="255.8" cy="200.6" r="2.8" fill="#0000f0" fill-opacity="0.5" stroke="#000030" stroke-opacity="0.5" stroke-width="0.7"/>
<circle cx="257.0" cy="200.0" r="2.8" fill="#0000f0" fill-opacity="0.5" stroke="#000030" stroke-opacity="0.5" stroke-width="0.7"/>
<circle cx="255.7" cy="198.1" r="2.8" fill="#0000f0" fill-opacity="0.5" stroke="#000030" stroke-opacity="0.5" stroke-width="0.7"/>
<circle cx="254.6" cy="197.6" r="2.8" fill="#0000f0" fill-opacity="0.5" stroke="#000030" stroke-opacity="0.5" stroke-width="0.7"/>
<circle cx="257.0" cy="197.7" r="2.8" fill="#0000f0" fill-opacity="0.5" stroke="#000030" stroke-opacity="0.5" stroke-width="0.7"/>
<circle cx="258.8" cy="198.4" r="2.8" fill="#0000f0" fill-opacity="0.5" stroke="#000030" stroke-opacity="0.5" stroke-width="0.7"/>
<circle cx="259.3" cy="198.1" r="2.8" fill="#0000f0" fill-opacity="0.5" stroke="#000030" stroke-opacity="0.5" stroke-width="0.7"/>
<circle cx="259.0" cy="198.3" r="2.8" fill="#0000f0" fill-opacity="0.5" stroke="#000030" stroke-opacity="0.5" stroke-width="0.7"/>
<circle cx="261.1" cy="199.9" r="2.8" fill="#0000f0" fill-opacity="0.5" stroke="#000030" stroke-opacity="0.5" stroke-width="0.7"/>
<circle cx="261.2" cy="198.8" r="2.8" fill="#0000f0" fill-opacity="0.5" stroke="#000030" stroke-opacity="0.5" stroke-width="0.7"/>
<circle cx="261.4" cy="195.7" r="2.8" fill="#0000f0" fill-opacity="0.5" stroke="#000030" stroke-opacity="0.5" stroke-width="0.7"/>
<circle cx="259.8" cy="193.9" r="2.8" fill="#0000f0" fill-opacity="0.5" stroke="#000030" stroke-opacity="0.5" stroke-width="0.7"/>
<circle cx="260.2" cy="196.5" r="2.8" fill="#0000f0" fill-opacity="0.5" stroke="#000030" stroke-opacity="0.5" stroke-width="0.7"/>
<circle cx="260.6" cy="195.8" r="2.8" fill="#0000f0" fill-opacity="0.5" stroke="#000030" stroke-opacity="0.5" stroke-width="0.7"/>
<circle cx="264.6" cy="195.7" r="2.8" fill="#0000f0" fill-opacity="0.5" stroke="#000030" stroke-opacity="0.5" stroke-width="0.7"/>
<circle cx="262.4" cy="195.6" r="2.8" fill="#0000f0" fill-opacity="0.5" stroke="#000030" stroke-opacity="0.5" stroke-width="0.7"/>
<circle cx="262.0" cy="195.0" r="2.8" fill="#0000f0" fill-opacity="0.5" stroke="#000030" stroke-opacity="0.5" stroke-width="0.7"/>
<circle cx="262.9" cy="194.0" r="2.8" fill="#0000f0" fill-opacity="0.5" stroke="#000030" stroke-opacity="0.5" stroke-width="0.7"/>
<circle cx="265.1" cy="195.4" r="2.8" fill="#0000f0" fill-opacity="0.5" stroke="#000030" stroke-opacity="0.5" stroke-width="0.7"/>
<circle cx="265.0" cy="195.2" r="2.8" fill="#0000f0" fill-opacity="0.5" stroke="#000030" stroke-opacity="0.5" stroke-width="0.7"/>
<circle cx="265.6" cy="195.7" r="2.8" fill="#0000f0" fill-opacity="0.5" stroke="#000030" stroke-opacity="0.5" stroke-width="0.7"/>
<circle cx="265.2" cy="193.4" r="2.8" fill="#0000f0" fill-opacity="0.5" stroke="#000030" stroke-opacity="0.5" stroke-width="0.7"/>
<circle cx="264.9" cy="192.0" r="2.8" fill="#0000f0" fill-opacity="0.5" stroke="#000030" stroke-opacity="0.5" stroke-width="0.7"/>
<circle cx="265.8" cy="193.2" r="2.8" fill="#0000f0" fill-opacity="0.5" stroke="#000030" stroke-opacity="0.5" stroke-width="0.7"/>
<circle cx="268.4" cy="191.2" r="2.8" fill="#0000f0" fill-opacity="0.5" stroke="#000030" stroke-opacity="0.5" stroke-width="0.7"/>
<circle cx="267.2" cy="193.2" r="2.8" fill="#0000f0" fill-opacity="0.5" stroke="#000030" stroke-opacity="0.5" stroke-width="0.7"/>
<circle cx="268.4" cy="193.3" r="2.8" fill="#0000f0" fill-opacity="0.5" stroke="#000030" stroke-opacity="0.5" stroke-width="0.7"/>
<circle cx="266.9" cy="186.5" r="2.8" fill="#0000f0" fill-opacity="0.5" stroke="#000030" stroke-opacity="0.5" stroke-width="0.7"/>
<circle cx="271.4" cy="192.1" r="2.8" fill="#0000f0" fill-opacity="0.5" stroke="#000030" stroke-opacity="0.5" stroke-width="0.7"/>
<circle cx="270.6" cy="191.3" r="2.8" fill="#0000f0" fill-opacity="0.5" stroke="#000030" stroke-opacity="0.5" stroke-width="0.7"/>
<circle cx="269.6" cy="189.7" r="2.8" fill="#0000f0" fill-opacity="0.5" stroke="#000030" stroke-opacity="0.5" stroke-width="0.7"/>
<circle cx="272.3" cy="191.4" r="2.8" fill="#0000f0" fill-opacity="0.5" stroke="#000030" stroke-opacity="0.5" stroke-width="0.7"/>
<circle cx="271.2" cy="191.0" r="2.8" fill="#0000f0" fill-opacity="0.5" stroke="#000030" stroke-opacity="0.5" stroke-width="0.7"/>
<circle cx="271.3" cy="191.1" r="2.8" fill="#0000f0" fill-opacity="0.5" stroke="#000030" stroke-opacity="0.5" stroke-width="0.7"/>
<circle cx="273.0" cy="189.2" r="2.8" fill="#0000f0" fill-opacity="0.5" stroke="#000030" stroke-opacity="0.5" stroke-width="0.7"/>
<circle cx="275.2" cy="194.0" r="2.8" fill="#0000f0" fill-opacity="0.5" stroke="#000030" stroke-opacity="0.5" stroke-width="0.7"/>
<circle cx="276.1" cy="188.8" r="2.8" fill="#0000f0" fill-opacity="0.5" stroke="#000030" stroke-opacity="0.5" stroke-width="0.7"/>
<circle cx="272.4" cy="187.4" r="2.8" fill="#0000f0" fill-opacity="0.5" stroke="#000030" stroke-opacity="0.5" stroke-width="0.7"/>
<circle cx="273.7" cy="189.4" r="2.8" fill="#0000f0" fill-opacity="0.5" stroke="#000030" stroke-opacity="0.5" stroke-width="0.7"/>
<circle cx="274.4" cy="190.0" r="2.8" fill="#0000f0" fill-opacity="0.5" stroke="#000030" stroke-opacity="0.5" stroke-width="0.7"/>
<circle cx="276.1" cy="191.4" r="2.8" fill="#0000f0" fill-opacity="0.5" stroke="#000030" stroke-opacity="0.5" stroke-width="0.7"/>
<circle cx="276.0" cy="189.5" r="2.8" fill="#0000f0" fill-opacity="0.5" stroke="#000030" stroke-opacity="0.5" stroke-width="0.7"/>
<circle cx="276.4" cy="187.7" r="2.8" fill="#0000f0" fill-opacity="0.5" stroke="#000030" stroke-opacity="0.5" stroke-width="0.7"/>
<circle cx="277.1" cy="187.5" r="2.8" fill="#0000f0" fill-opacity="0.5" stroke="#000030" stroke-opacity="0.5" stroke-width="0.7"/>
<circle cx="277.0" cy="189.2" r="2.8" fill="#0000f0" fill-opacity="0.5" stroke="#000030" stroke-opacity="0.5" stroke-width="0.7"/>
<circle cx="280.2" cy="186.9" r="2.8" fill="#0000f0" fill-opacity="0.5" stroke="#000030" stroke-opacity="0.5" stroke-width="0.7"/>
<circle cx="278.5" cy="187.6" r="2.8" fill="#0000f0" fill-opacity="0.5" stroke="#000030" stroke-opacity="0.5" stroke-width="0.7"/>
<circle cx="277.7" cy="188.7" r="2.8" fill="#0000f0" fill-opacity="0.5" stroke="#000030" stroke-opacity="0.5" stroke-width="0.7"/>
<circle cx="279.8" cy="187.3" r="2.8" fill="#0000f0" fill-opacity="0.5" stroke="#000030" stroke-opacity="0.5" stroke-width="0.7"/>
<circle cx="279.8" cy="187.0" r="2.8" fill="#0000f0" fill-opacity="0.5" stroke="#000030" stroke-opacity="0.5" stroke-width="0.7"/>
<circle cx="278.6" cy="185.7" r="2.8" fill="#0000f0" fill-opacity="0.5" stroke="#000030" stroke-opacity="0.5" stroke-width="0.7"/>
<circle cx="279.9" cy="184.3" r="2.8" fill="#0000f0" fill-opacity="0.5" stroke="#000030" stroke-opacity="0.5" stroke-width="0.7"/>
<circle cx="280.0" cy="186.6" r="2.8" fill="#0000f0" fill-opacity="0.5" stroke="#000030" stroke-opacity="0.5" stroke-width="0.7"/>
<circle cx="281.2" cy="186.4" r="2.8" fill="#0000f0" fill-opacity="0.5" stroke="#000030" stroke-opacity="0.5" stroke-width="0.7"/>
<circle cx="283.2" cy="185.1" r="2.8" fill="#0000f0" fill-opacity="0.5" stroke="#000030" stroke-opacity="0.5" stroke-width="0.7"/>
<circle cx="282.2" cy="186.6" r="2.8" fill="#0000f0" fill-opacity="0.5" stroke="#000030" stroke-opacity="0.5" stroke-width="0.7"/>
<circle cx="284.0" cy="183.8" r="2.8" fill="#0000f0" fill-opacity="0.5" stroke="#000030" stroke-opacity="0.5" stroke-width="0.7"/>
<circle cx="286.5" cy="185.3" r="2.8" fill="#0000f0" fill-opacity="0.5" stroke="#000030" stroke-opacity="0.5" stroke-width="0.7"/>
<rect x="241.3" y="219.1" width="6.0" height="6.0" fill="#008000" fill-opacity="0.5" stroke="#002000" stroke-opacity="0.45" stroke-width="0.7"/>
<rect x="246.6" y="217.7" width="6.0" height="6.0" fill="#008000" fill-opacity="0.5" stroke="#002000" stroke-opacity="0.45" stroke-width="0.7"/>
<rect x="244.1" y="217.6" width="6.0" height="6.0" fill="#008000" fill-opacity="0.5" stroke="#002000" stroke-opacity="0.45" stroke-width="0.7"/>
<rect x="246.2" y="217.0" width="6.0" height="6.0" fill="#008000" fill-opacity="0.5" stroke="#002000" stroke-opacity="0.45" stroke-width="0.7"/>
<rect x="246.2" y="217.5" width="6.0" height="6.0" fill="#008000" fill-opacity="0.5" stroke="#002000" stroke-opacity="0.45" stroke-width="0.7"/>
<rect x="245.4" y="216.7" width="6.0" height="6.0" fill="#008000" fill-opacity="0.5" stroke="#002000" stroke-opacity="0.45" stroke-width="0.7"/>
<rect x="246.2" y="217.2" width="6.0" height="6.0" fill="#008000" fill-opacity="0.5" stroke="#002000" stroke-opacity="0.45" stroke-width="0.7"/>
<rect x="245.2" y="217.1" width="6.0" height="6.0" fill="#008000" fill-opacity="0.5" stroke="#002000" stroke-opacity="0.45" stroke-width="0.7"/>
<rect x="248.4" y="217.4" width="6.0" height="6.0" fill="#008000" fill-opacity="0.5" stroke="#002000" stroke-opacity="0.45" stroke-width="0.7"/>
<rect x="248.6" y="217.1" width="6.0" height="6.0" fill="#008000" fill-opacity="0.5" stroke="#002000" stroke-opacity="0.45" stroke-width="0.7"/>
<rect x="248.4" y="215.3" width="6.0" height="6.0" fill="#008000" fill-opacity="0.5" stroke="#002000" stroke-opacity="0.45" stroke-width="0.7"/>
<rect x="249.2" y="215.2" width="6.0" height="6.0" fill="#008000" fill-opacity="0.5" stroke="#002000" stroke-opacity="0.45" stroke-width="0.7"/>
<rect x="248.1" y="215.8" width="6.0" height="6.0" fill="#008000" fill-opacity="0.5" stroke="#002000" stroke-opacity="0.45" stroke-width="0.7"/>
<rect x="249.3" y="215.9" width="6.0" height="6.0" fill="#008000" fill-opacity="0.5" stroke="#002000" stroke-opacity="0.45" stroke-width="0.7"/>
<rect x="250.8" y="215.8" width="6.0" height="6.0" fill="#008000" fill-opacity="0.5" stroke="#002000" stroke-opacity="0.45" stroke-width="0.7"/>
<rect x="250.9" y="215.2" width="6.0" height="6.0" fill="#008000" fill-opacity="0.5" stroke="#002000" stroke-opacity="0.45" stroke-width="0.7"/>
<rect x="253.0" y="214.7" width="6.0" height="6.0" fill="#008000" fill-opacity="0.5" stroke="#002000" stroke-opacity="0.45" stroke-width="0.7"/>
<rect x="251.5" y="214.4" width="6.0" height="6.0" fill="#008000" fill-opacity="0.5" stroke="#002000" stroke-opacity="0.45" stroke-width="0.7"/>
<rect x="253.9" y="214.5" width="6.0" height="6.0" fill="#008000" fill-opacity="0.5" stroke="#002000" stroke-opacity="0.45" stroke-width="0.7"/>
<rect x="253.9" y="214.3" width="6.0" height="6.0" fill="#008000" fill-opacity="0.5" stroke="#002000" stroke-opacity="0.45" stroke-width="0.7"/>
<rect x="253.6" y="214.1" width="6.0" height="6.0" fill="#008000" fill-opacity="0.5" stroke="#002000" stroke-opacity="0.45" stroke-width="0.7"/>
<rect x="256.9" y="212.5" width="6.0" height="6.0" fill="#008000" fill-opacity="0.5" stroke="#002000" stroke-opacity="0.45" stroke-width="0.7"/>
<rect x="255.7" y="213.1" width="6.0" height="6.0" fill="#008000" fill-opacity="0.5" stroke="#002000" stroke-opacity="0.45" stroke-width="0.7"/>
<rect x="254.2" y="213.2" width="6.0" height="6.0" fill="#008000" fill-opacity="0.5" stroke="#002000" stroke-opacity="0.45" stroke-width="0.7"/>
<rect x="255.0" y="213.3" width="6.0" height="6.0" fill="#008000" fill-opacity="0.5" stroke="#002000" stroke-opacity="0.45" stroke-width="0.7"/>
<rect x="257.9" y="212.2" width="6.0" height="6.0" fill="#008000" fill-opacity="0.5" stroke="#002000" stroke-opacity="0.45" stroke-width="0.7"/>
<rect x="258.2" y="212.1" width="6.0" height="6.0" fill="#008000" fill-opacity="0.5" stroke="#002000" stroke-opacity="0.45" stroke-width="0.7"/>
<rect x="257.7" y="212.0" width="6.0" height="6.0" fill="#008000" fill-opacity="0.5" stroke="#002000" stroke-opacity="0.45" stroke-width="0.7"/>
<rect x="257.0" y="212.9" width="6.0" height="6.0" fill="#008000" fill-opacity="0.5" stroke="#002000" stroke-opacity="0.45" stroke-width="0.7"/>
<rect x="260.4" y="211.4" width="6.0" height="6.0" fill="#008000" fill-opacity="0.5" stroke="#002000" stroke-opacity="0.45" stroke-width="0.7"/>
<rect x="258.3" y="208.0" width="6.0" height="6.0" fill="#008000" fill-opacity="0.5" stroke="#002000" stroke-opacity="0.45" stroke-width="0.7"/>
<rect x="258.6" y="212.8" width="6.0" height="6.0" fill="#008000" fill-opacity="0.5" stroke="#002000" stroke-opacity="0.45" stroke-width="0.7"/>
<rect x="261.2" y="210.3" width="6.0" height="6.0" fill="#008000" fill-opacity="0.5" stroke="#002000" stroke-opacity="0.45" stroke-width="0.7"/>
<rect x="261.3" y="210.0" width="6.0" height="6.0" fill="#008000" fill-opacity="0.5" stroke="#002000" stroke-opacity="0.45" stroke-width="0.7"/>
<rect x="261.9" y="210.3" width="6.0" height="6.0" fill="#008000" fill-opacity="0.5" stroke="#002000" stroke-opacity="0.45" stroke-width="0.7"/>
<rect x="262.8" y="209.6" width="6.0" height="6.0" fill="#008000" fill-opacity="0.5" stroke="#002000" stroke-opacity="0.45" stroke-width="0.7"/>
<rect x="262.9" y="209.0" width="6.0" height="6.0" fill="#008000" fill-opacity="0.5" stroke="#002000" stroke-opacity="0.45" stroke-width="0.7"/>
<rect x="261.6" y="209.3" width="6.0" height="6.0" fill="#008000" fill-opacity="0.5" stroke="#002000" stroke-opacity="0.45" stroke-width="0.7"/>
<rect x="262.7" y="207.3" width="6.0" height="6.0" fill="#008000" fill-opacity="0.5" stroke="#002000" stroke-opacity="0.45" stroke-width="0.7"/>
<rect x="265.4" y="208.3" width="6.0" height="6.0" fill="#008000" fill-opacity="0.5" stroke="#002000" stroke-opacity="0.45" stroke-width="0.7"/>
<rect x="265.4" y="207.7" width="6.0" height="6.0" fill="#008000" fill-opacity="0.5" stroke="#002000" stroke-opacity="0.45" stroke-width="0.7"/>
<rect x="266.0" y="208.0" width="6.0" height="6.0" fill="#008000" fill-opacity="0.5" stroke="#002000" stroke-opacity="0.45" stroke-width="0.7"/>
<rect x="265.4" y="208.6" width="6.0" height="6.0" fill="#008000" fill-opacity="0.5" stroke="#002000" stroke-opacity="0.45" stroke-width="0.7"/>
<rect x="266.6" y="207.0" width="6.0" height="6.0" fill="#008000" fill-opacity="0.5" stroke="#002000" stroke-opacity="0.45" stroke-width="0.7"/>
<rect x="265.7" y="207.0" width="6.0" height="6.0" fill="#008000" fill-opacity="0.5" stroke="#002000" stroke-opacity="0.45" stroke-width="0.7"/>
<rect x="268.6" y="206.4" width="6.0" height="6.0" fill="#008000" fill-opacity="0.5" stroke="#002000" stroke-opacity="0.45" stroke-width="0.7"/>
<rect x="267.8" y="206.1" width="6.0" height="6.0" fill="#008000" fill-opacity="0.5" stroke="#002000" stroke-opacity="0.45" stroke-width="0.7"/>
<rect x="269.6" y="206.6" width="6.0" height="6.0" fill="#008000" fill-opacity="0.5" stroke="#002000" stroke-opacity="0.45" stroke-width="0.7"/>
<rect x="268.9" y="205.3" width="6.0" height="6.0" fill="#008000" fill-opacity="0.5" stroke="#002000" stroke-opacity="0.45" stroke-width="0.7"/>
<rect x="269.5" y="206.2" width="6.0" height="6.0" fill="#008000" fill-opacity="0.5" stroke="#002000" stroke-opacity="0.45" stroke-width="0.7"/>
<rect x="269.4" y="206.4" width="6.0" height="6.0" fill="#008000" fill-opacity="0.5" stroke="#002000" stroke-opacity="0.45" stroke-width="0.7"/>
<rect x="271.1" y="205.5" width="6.0" height="6.0" fill="#008000" fill-opacity="0.5" stroke="#002000" stroke-opacity="0.45" stroke-width="0.7"/>
<rect x="271.1" y="206.0" width="6.0" height="6.0" fill="#008000" fill-opacity="0.5" stroke="#002000" stroke-opacity="0.45" stroke-width="0.7"/>
<rect x="271.7" y="205.5" width="6.0" height="6.0" fill="#008000" fill-opacity="0.5" stroke="#002000" stroke-opacity="0.45" stroke-width="0.7"/>
<rect x="271.1" y="204.7" width="6.0" height="6.0" fill="#008000" fill-opacity="0.5" stroke="#002000" stroke-opacity="0.45" stroke-width="0.7"/>
<rect x="271.8" y="206.0" width="6.0" height="6.0" fill="#008000" fill-opacity="0.5" stroke="#002000" stroke-opacity="0.45" stroke-width="0.7"/>
<rect x="272.5" y="204.2" width="6.0" height="6.0" fill="#008000" fill-opacity="0.5" stroke="#002000" stroke-opacity="0.45" stroke-width="0.7"/>
<rect x="274.7" y="203.0" width="6.0" height="6.0" fill="#008000" fill-opacity="0.5" stroke="#002000" stroke-opacity="0.45" stroke-width="0.7"/>
<rect x="274.9" y="202.4" width="6.0" height="6.0" fill="#008000" fill-opacity="0.5" stroke="#002000" stroke-opacity="0.45" stroke-width="0.7"/>
<rect x="275.7" y="205.7" width="6.0" height="6.0" fill="#008000" fill-opacity="0.5" stroke="#002000" stroke-opacity="0.45" stroke-width="0.7"/>
<rect x="276.3" y="201.7" width="6.0" height="6.0" fill="#008000" fill-opacity="0.5" stroke="#002000" stroke-opacity="0.45" stroke-width="0.7"/>
<rect x="275.6" y="202.2" width="6.0" height="6.0" fill="#008000" fill-opacity="0.5" stroke="#002000" stroke-opacity="0.45" stroke-width="0.7"/>
<rect x="275.0" y="202.7" width="6.0" height="6.0" fill="#008000" fill-opacity="0.5" stroke="#002000" stroke-opacity="0.45" stroke-width="0.7"/>
<rect x="277.3" y="200.6" width="6.0" height="6.0" fill="#008000" fill-opacity="0.5" stroke="#002000" stroke-opacity="0.45" stroke-width="0.7"/>
<rect x="276.7" y="201.9" width="6.0" height="6.0" fill="#008000" fill-opacity="0.5" stroke="#002000" stroke-opacity="0.45" stroke-width="0.7"/>
<rect x="277.6" y="200.3" width="6.0" height="6.0" fill="#008000" fill-opacity="0.5" stroke="#002000" stroke-opacity="0.45" stroke-width="0.7"/>
<rect x="277.8" y="201.4" width="6.0" height="6.0" fill="#008000" fill-opacity="0.5" stroke="#002000" stroke-opacity="0.45" stroke-width="0.7"/>
<rect x="279.7" y="200.6" width="6.0" height="6.0" fill="#008000" fill-opacity="0.5" stroke="#002000" stroke-opacity="0.45" stroke-width="0.7"/>
<rect x="279.2" y="201.3" width="6.0" height="6.0" fill="#008000" fill-opacity="0.5" stroke="#002000" stroke-opacity="0.45" stroke-width="0.7"/>
<rect x="280.4" y="199.4" width="6.0" height="6.0" fill="#008000" fill-opacity="0.5" stroke="#002000" stroke-opacity="0.45" stroke-width="0.7"/>
<rect x="279.0" y="200.6" width="6.0" height="6.0" fill="#008000" fill-opacity="0.5" stroke="#002000" stroke-opacity="0.45" stroke-width="0.7"/>
<rect x="280.3" y="200.5" width="6.0" height="6.0" fill="#008000" fill-opacity="0.5" stroke="#002000" stroke-opacity="0.45" stroke-width="0.7"/>
<rect x="280.8" y="198.4" width="6.0" height="6.0" fill="#008000" fill-opacity="0.5" stroke="#002000" stroke-opacity="0.45" stroke-width="0.7"/>
<rect x="282.3" y="197.6" width="6.0" height="6.0" fill="#008000" fill-opacity="0.5" stroke="#002000" stroke-opacity="0.45" stroke-width="0.7"/>
<rect x="283.8" y="198.4" width="6.0" height="6.0" fill="#008000" fill-opacity="0.5" stroke="#002000" stroke-opacity="0.45" stroke-width="0.7"/>
<rect x="282.0" y="199.3" width="6.0" height="6.0" fill="#008000" fill-opacity="0.5" stroke="#002000" stroke-opacity="0.45" stroke-width="0.7"/>
<rect x="284.0" y="196.0" width="6.0" height="6.0" fill="#008000" fill-opacity="0.5" stroke="#002000" stroke-opacity="0.45" stroke-width="0.7"/>
<rect x="284.4" y="197.7" width="6.0" height="6.0" fill="#008000" fill-opacity="0.5" stroke="#002000" stroke-opacity="0.45" stroke-width="0.7"/>
<rect x="285.0" y="197.1" width="6.0" height="6.0" fill="#008000" fill-opacity="0.5" stroke="#002000" stroke-opacity="0.45" stroke-width="0.7"/>
<rect x="285.2" y="197.2" width="6.0" height="6.0" fill="#008000" fill-opacity="0.5" stroke="#002000" stroke-opacity="0.45" stroke-width="0.7"/>
<rect x="284.1" y="197.0" width="6.0" height="6.0" fill="#008000" fill-opacity="0.5" stroke="#002000" stroke-opacity="0.45" stroke-width="0.7"/>
<rect x="285.6" y="197.7" width="6.0" height="6.0" fill="#008000" fill-opacity="0.5" stroke="#002000" stroke-opacity="0.45" stroke-width="0.7"/>
<rect x="286.6" y="196.3" width="6.0" height="6.0" fill="#008000" fill-opacity="0.5" stroke="#002000" stroke-opacity="0.45" stroke-width="0.7"/>
<rect x="286.4" y="195.8" width="6.0" height="6.0" fill="#008000" fill-opacity="0.5" stroke="#002000" stroke-opacity="0.45" stroke-width="0.7"/>
<rect x="286.4" y="195.3" width="6.0" height="6.0" fill="#008000" fill-opacity="0.5" stroke="#002000" stroke-opacity="0.45" stroke-width="0.7"/>
<rect x="288.8" y="195.7" width="6.0" height="6.0" fill="#008000" fill-opacity="0.5" stroke="#002000" stroke-opacity="0.45" stroke-width="0.7"/>
<rect x="287.9" y="195.1" width="6.0" height="6.0" fill="#008000" fill-opacity="0.5" stroke="#002000" stroke-opacity="0.45" stroke-width="0.7"/>
<rect x="290.3" y="195.0" width="6.0" height="6.0" fill="#008000" fill-opacity="0.5" stroke="#002000" stroke-opacity="0.45" stroke-width="0.7"/>
<rect x="289.2" y="194.2" width="6.0" height="6.0" fill="#008000" fill-opacity="0.5" stroke="#002000" stroke-opacity="0.45" stroke-width="0.7"/>
<rect x="287.9" y="194.8" width="6.0" height="6.0" fill="#008000" fill-opacity="0.5" stroke="#002000" stroke-opacity="0.45" stroke-width="0.7"/>
<rect x="288.9" y="194.2" width="6.0" height="6.0" fill="#008000" fill-opacity="0.5" stroke="#002000" stroke-opacity="0.45" stroke-width="0.7"/>
<rect x="289.9" y="193.3" width="6.0" height="6.0" fill="#008000" fill-opacity="0.5" stroke="#002000" stroke-opacity="0.45" stroke-width="0.7"/>
<rect x="290.9" y="193.1" width="6.0" height="6.0" fill="#008000" fill-opacity="0.5" stroke="#002000" stroke-opacity="0.45" stroke-width="0.7"/>
<rect x="293.2" y="193.2" width="6.0" height="6.0" fill="#008000" fill-opacity="0.5" stroke="#002000" stroke-opacity="0.45" stroke-width="0.7"/>
<rect x="291.9" y="192.9" width="6.0" height="6.0" fill="#008000" fill-opacity="0.5" stroke="#002000" stroke-opacity="0.45" stroke-width="0.7"/>
<rect x="292.0" y="192.0" width="6.0" height="6.0" fill="#008000" fill-opacity="0.5" stroke="#002000" stroke-opacity="0.45" stroke-width="0.7"/>
<rect x="292.1" y="191.1" width="6.0" height="6.0" fill="#008000" fill-opacity="0.5" stroke="#002000" stroke-opacity="0.45" stroke-width="0.7"/>
<rect x="292.6" y="192.6" width="6.0" height="6.0" fill="#008000" fill-opacity="0.5" stroke="#002000" stroke-opacity="0.45" stroke-width="0.7"/>
<rect x="293.6" y="189.7" width="6.0" height="6.0" fill="#008000" fill-opacity="0.5" stroke="#002000" stroke-opacity="0.45" stroke-width="0.7"/>
<rect x="294.5" y="190.5" width="6.0" height="6.0" fill="#008000" fill-opacity="0.5" stroke="#002000" stroke-opacity="0.45" stroke-width="0.7"/>
<rect x="294.7" y="189.6" width="6.0" height="6.0" fill="#008000" fill-opacity="0.5" stroke="#002000" stroke-opacity="0.45" stroke-width="0.7"/>
<rect x="293.9" y="191.8" width="6.0" height="6.0" fill="#008000" fill-opacity="0.5" stroke="#002000" stroke-opacity="0.45" stroke-width="0.7"/>
<rect x="294.9" y="190.9" width="6.0" height="6.0" fill="#008000" fill-opacity="0.5" stroke="#002000" stroke-opacity="0.45" stroke-width="0.7"/>
<rect x="294.5" y="185.6" width="6.0" height="6.0" fill="#008000" fill-opacity="0.5" stroke="#002000" stroke-opacity="0.45" stroke-width="0.7"/>
<rect x="297.4" y="188.7" width="6.0" height="6.0" fill="#008000" fill-opacity="0.5" stroke="#002000" stroke-opacity="0.45" stroke-width="0.7"/>
<rect x="298.4" y="187.8" width="6.0" height="6.0" fill="#008000" fill-opacity="0.5" stroke="#002000" stroke-opacity="0.45" stroke-width="0.7"/>
<rect x="298.7" y="188.7" width="6.0" height="6.0" fill="#008000" fill-opacity="0.5" stroke="#002000" stroke-opacity="0.45" stroke-width="0.7"/>
<rect x="298.5" y="189.0" width="6.0" height="6.0" fill="#008000" fill-opacity="0.5" stroke="#002000" stroke-opacity="0.45" stroke-width="0.7"/>
<rect x="299.5" y="187.2" width="6.0" height="6.0" fill="#008000" fill-opacity="0.5" stroke="#002000" stroke-opacity="0.45" stroke-width="0.7"/>
<rect x="298.8" y="188.5" width="6.0" height="6.0" fill="#008000" fill-opacity="0.5" stroke="#002000" stroke-opacity="0.45" stroke-width="0.7"/>
<rect x="300.2" y="187.0" width="6.0" height="6.0" fill="#008000" fill-opacity="0.5" stroke="#002000" stroke-opacity="0.45" stroke-width="0.7"/>
<rect x="301.0" y="184.9" width="6.0" height="6.0" fill="#008000" fill-opacity="0.5" stroke="#002000" stroke-opacity="0.45" stroke-width="0.7"/>
<rect x="300.6" y="187.3" width="6.0" height="6.0" fill="#008000" fill-opacity="0.5" stroke="#002000" stroke-opacity="0.45" stroke-width="0.7"/>
<rect x="301.7" y="185.1" width="6.0" height="6.0" fill="#008000" fill-opacity="0.5" stroke="#002000" stroke-opacity="0.45" stroke-width="0.7"/>
<rect x="301.7" y="184.3" width="6.0" height="6.0" fill="#008000" fill-opacity="0.5" stroke="#002000" stroke-opacity="0.45" stroke-width="0.7"/>
<rect x="303.9" y="184.2" width="6.0" height="6.0" fill="#008000" fill-opacity="0.5" stroke="#002000" stroke-opacity="0.45" stroke-width="0.7"/>
<rect x="301.6" y="186.2" width="6.0" height="6.0" fill="#008000" fill-opacity="0.5" stroke="#002000" stroke-opacity="0.45" stroke-width="0.7"/>
<rect x="302.9" y="183.4" width="6.0" height="6.0" fill="#008000" fill-opacity="0.5" stroke="#002000" stroke-opacity="0.45" stroke-width="0.7"/>
<rect x="305.2" y="183.0" width="6.0" height="6.0" fill="#008000" fill-opacity="0.5" stroke="#002000" stroke-opacity="0.45" stroke-width="0.7"/>
<rect x="306.6" y="185.8" width="6.0" height="6.0" fill="#008000" fill-opacity="0.5" stroke="#002000" stroke-opacity="0.45" stroke-width="0.7"/>
<rect x="305.4" y="183.5" width="6.0" height="6.0" fill="#008000" fill-opacity="0.5" stroke="#002000" stroke-opacity="0.45" stroke-width="0.7"/>
<rect x="303.9" y="183.1" width="6.0" height="6.0" fill="#008000" fill-opacity="0.5" stroke="#002000" stroke-opacity="0.45" stroke-width="0.7"/>
<rect x="306.3" y="181.8" width="6.0" height="6.0" fill="#008000" fill-opacity="0.5" stroke="#002000" stroke-opacity="0.45" stroke-width="0.7"/>
<rect x="306.8" y="181.4" width="6.0" height="6.0" fill="#008000" fill-opacity="0.5" stroke="#002000" stroke-opacity="0.45" stroke-width="0.7"/>
<rect x="307.4" y="181.9" width="6.0" height="6.0" fill="#008000" fill-opacity="0.5" stroke="#002000" stroke-opacity="0.45" stroke-width="0.7"/>
<rect x="307.8" y="181.6" width="6.0" height="6.0" fill="#008000" fill-opacity="0.5" stroke="#002000" stroke-opacity="0.45" stroke-width="0.7"/>
<rect x="308.3" y="181.0" width="6.0" height="6.0" fill="#008000" fill-opacity="0.5" stroke="#002000" stroke-opacity="0.45" stroke-width="0.7"/>
<rect x="308.3" y="180.3" width="6.0" height="6.0" fill="#008000" fill-opacity="0.5" stroke="#002000" stroke-opacity="0.45" stroke-width="0.7"/>
<rect x="306.7" y="182.6" width="6.0" height="6.0" fill="#008000" fill-opacity="0.5" stroke="#002000" stroke-opacity="0.45" stroke-width="0.7"/>
<rect x="308.0" y="181.1" width="6.0" height="6.0" fill="#008000" fill-opacity="0.5" stroke="#002000" stroke-opacity="0.45" stroke-width="0.7"/>
<rect x="310.4" y="180.7" width="6.0" height="6.0" fill="#008000" fill-opacity="0.5" stroke="#002000" stroke-opacity="0.45" stroke-width="0.7"/>
<rect x="311.4" y="180.0" width="6.0" height="6.0" fill="#008000" fill-opacity="0.5" stroke="#002000" stroke-opacity="0.45" stroke-width="0.7"/>
<rect x="311.1" y="178.9" width="6.0" height="6.0" fill="#008000" fill-opacity="0.5" stroke="#002000" stroke-opacity="0.45" stroke-width="0.7"/>
<rect x="311.3" y="179.3" width="6.0" height="6.0" fill="#008000" fill-opacity="0.5" stroke="#002000" stroke-opacity="0.45" stroke-width="0.7"/>
<rect x="311.9" y="178.5" width="6.0" height="6.0" fill="#008000" fill-opacity="0.5" stroke="#002000" stroke-opacity="0.45" stroke-width="0.7"/>
<rect x="312.2" y="179.6" width="6.0" height="6.0" fill="#008000" fill-opacity="0.5" stroke="#002000" stroke-opacity="0.45" stroke-width="0.7"/>
<rect x="311.8" y="179.3" width="6.0" height="6.0" fill="#008000" fill-opacity="0.5" stroke="#002000" stroke-opacity="0.45" stroke-width="0.7"/>
<rect x="314.3" y="177.9" width="6.0" height="6.0" fill="#008000" fill-opacity="0.5" stroke="#002000" stroke-opacity="0.45" stroke-width="0.7"/>
<rect x="313.6" y="178.1" width="6.0" height="6.0" fill="#008000" fill-opacity="0.5" stroke="#002000" stroke-opacity="0.45" stroke-width="0.7"/>
<rect x="314.9" y="177.2" width="6.0" height="6.0" fill="#008000" fill-opacity="0.5" stroke="#002000" stroke-opacity="0.45" stroke-width="0.7"/>
<rect x="315.0" y="179.0" width="6.0" height="6.0" fill="#008000" fill-opacity="0.5" stroke="#002000" stroke-opacity="0.45" stroke-width="0.7"/>
<rect x="316.8" y="176.2" width="6.0" height="6.0" fill="#008000" fill-opacity="0.5" stroke="#002000" stroke-opacity="0.45" stroke-width="0.7"/>
<rect x="315.9" y="176.9" width="6.0" height="6.0" fill="#008000" fill-opacity="0.5" stroke="#002000" stroke-opacity="0.45" stroke-width="0.7"/>
<rect x="316.1" y="177.9" width="6.0" height="6.0" fill="#008000" fill-opacity="0.5" stroke="#002000" stroke-opacity="0.45" stroke-width="0.7"/>
<rect x="318.5" y="175.7" width="6.0" height="6.0" fill="#008000" fill-opacity="0.5" stroke="#002000" stroke-opacity="0.45" stroke-width="0.7"/>
<rect x="317.0" y="176.2" width="6.0" height="6.0" fill="#008000" fill-opacity="0.5" stroke="#002000" stroke-opacity="0.45" stroke-width="0.7"/>
<rect x="319.5" y="175.9" width="6.0" height="6.0" fill="#008000" fill-opacity="0.5" stroke="#002000" stroke-opacity="0.45" stroke-width="0.7"/>
<rect x="318.0" y="175.4" width="6.0" height="6.0" fill="#008000" fill-opacity="0.5" stroke="#002000" stroke-opacity="0.45" stroke-width="0.7"/>
<rect x="318.7" y="175.1" width="6.0" height="6.0" fill="#008000" fill-opacity="0.5" stroke="#002000" stroke-opacity="0.45" stroke-width="0.7"/>
<rect x="319.9" y="175.0" width="6.0" height="6.0" fill="#008000" fill-opacity="0.5" stroke="#002000" stroke-opacity="0.45" stroke-width="0.7"/>
<rect x="319.5" y="175.5" width="6.0" height="6.0" fill="#008000" fill-opacity="0.5" stroke="#002000" stroke-opacity="0.45" stroke-width="0.7"/>
<rect x="321.9" y="174.6" width="6.0" height="6.0" fill="#008000" fill-opacity="0.5" stroke="#002000" stroke-opacity="0.45" stroke-width="0.7"/>
<rect x="320.4" y="175.3" width="6.0" height="6.0" fill="#008000" fill-opacity="0.5" stroke="#002000" stroke-opacity="0.45" stroke-width="0.7"/>
<rect x="323.1" y="173.5" width="6.0" height="6.0" fill="#008000" fill-opacity="0.5" stroke="#002000" stroke-opacity="0.45" stroke-width="0.7"/>
<rect x="321.0" y="174.7" width="6.0" height="6.0" fill="#008000" fill-opacity="0.5" stroke="#002000" stroke-opacity="0.45" stroke-width="0.7"/>
<rect x="322.3" y="173.4" width="6.0" height="6.0" fill="#008000" fill-opacity="0.5" stroke="#002000" stroke-opacity="0.45" stroke-width="0.7"/>
<rect x="322.7" y="173.0" width="6.0" height="6.0" fill="#008000" fill-opacity="0.5" stroke="#002000" stroke-opacity="0.45" stroke-width="0.7"/>
<rect x="323.9" y="172.5" width="6.0" height="6.0" fill="#008000" fill-opacity="0.5" stroke="#002000" stroke-opacity="0.45" stroke-width="0.7"/>
<rect x="325.6" y="172.2" width="6.0" height="6.0" fill="#008000" fill-opacity="0.5" stroke="#002000" stroke-opacity="0.45" stroke-width="0.7"/>
<rect x="326.3" y="172.2" width="6.0" height="6.0" fill="#008000" fill-opacity="0.5" stroke="#002000" stroke-opacity="0.45" stroke-width="0.7"/>
<rect x="325.4" y="171.6" width="6.0" height="6.0" fill="#008000" fill-opacity="0.5" stroke="#002000" stroke-opacity="0.45" stroke-width="0.7"/>
<rect x="327.2" y="170.7" width="6.0" height="6.0" fill="#008000" fill-opacity="0.5" stroke="#002000" stroke-opacity="0.45" stroke-width="0.7"/>
<rect x="327.3" y="169.8" width="6.0" height="6.0" fill="#008000" fill-opacity="0.5" stroke="#002000" stroke-opacity="0.45" stroke-width="0.7"/>
<rect x="327.6" y="171.3" width="6.0" height="6.0" fill="#008000" fill-opacity="0.5" stroke="#002000" stroke-opacity="0.45" stroke-width="0.7"/>
<rect x="328.1" y="170.4" width="6.0" height="6.0" fill="#008000" fill-opacity="0.5" stroke="#002000" stroke-opacity="0.45" stroke-width="0.7"/>
<rect x="328.2" y="170.3" width="6.0" height="6.0" fill="#008000" fill-opacity="0.5" stroke="#002000" stroke-opacity="0.45" stroke-width="0.7"/>
<rect x="328.3" y="169.6" width="6.0" height="6.0" fill="#008000" fill-opacity="0.5" stroke="#002000" stroke-opacity="0.45" stroke-width="0.7"/>
<rect x="328.1" y="171.6" width="6.0" height="6.0" fill="#008000" fill-opacity="0.5" stroke="#002000" stroke-opacity="0.45" stroke-width="0.7"/>
<rect x="329.7" y="171.1" width="6.0" height="6.0" fill="#008000" fill-opacity="0.5" stroke="#002000" stroke-opacity="0.45" stroke-width="0.7"/>
<rect x="330.0" y="169.6" width="6.0" height="6.0" fill="#008000" fill-opacity="0.5" stroke="#002000" stroke-opacity="0.45" stroke-width="0.7"/>
<rect x="331.2" y="168.7" width="6.0" height="6.0" fill="#008000" fill-opacity="0.5" stroke="#002000" stroke-opacity="0.45" stroke-width="0.7"/>
<rect x="332.3" y="169.0" width="6.0" height="6.0" fill="#008000" fill-opacity="0.5" stroke="#002000" stroke-opacity="0.45" stroke-width="0.7"/>
<rect x="331.6" y="169.3" width="6.0" height="6.0" fill="#008000" fill-opacity="0.5" stroke="#002000" stroke-opacity="0.45" stroke-width="0.7"/>
<rect x="332.5" y="167.1" width="6.0" height="6.0" fill="#008000" fill-opacity="0.5" stroke="#002000" stroke-opacity="0.45" stroke-width="0.7"/>
<rect x="334.6" y="167.2" width="6.0" height="6.0" fill="#008000" fill-opacity="0.5" stroke="#002000" stroke-opacity="0.45" stroke-width="0.7"/>
<rect x="332.6" y="168.0" width="6.0" height="6.0" fill="#008000" fill-opacity="0.5" stroke="#002000" stroke-opacity="0.45" stroke-width="0.7"/>
<rect x="334.4" y="167.7" width="6.0" height="6.0" fill="#008000" fill-opacity="0.5" stroke="#002000" stroke-opacity="0.45" stroke-width="0.7"/>
<rect x="333.9" y="167.7" width="6.0" height="6.0" fill="#008000" fill-opacity="0.5" stroke="#002000" stroke-opacity="0.45" stroke-width="0.7"/>
<rect x="335.6" y="167.4" width="6.0" height="6.0" fill="#008000" fill-opacity="0.5" stroke="#002000" stroke-opacity="0.45" stroke-width="0.7"/>
<rect x="334.4" y="167.6" width="6.0" height="6.0" fill="#008000" fill-opacity="0.5" stroke="#002000" stroke-opacity="0.45" stroke-width="0.7"/>
<rect x="336.0" y="167.5" width="6.0" height="6.0" fill="#008000" fill-opacity="0.5" stroke="#002000" stroke-opacity="0.45" stroke-width="0.7"/>
<rect x="337.2" y="166.1" width="6.0" height="6.0" fill="#008000" fill-opacity="0.5" stroke="#002000" stroke-opacity="0.45" stroke-width="0.7"/>
<rect x="335.3" y="166.0" width="6.0" height="6.0" fill="#008000" fill-opacity="0.5" stroke="#002000" stroke-opacity="0.45" stroke-width="0.7"/>
<rect x="336.4" y="166.4" width="6.0" height="6.0" fill="#008000" fill-opacity="0.5" stroke="#002000" stroke-opacity="0.45" stroke-width="0.7"/>
<rect x="337.9" y="166.8" width="6.0" height="6.0" fill="#008000" fill-opacity="0.5" stroke="#002000" stroke-opacity="0.45" stroke-width="0.7"/>
<rect x="338.5" y="165.1" width="6.0" height="6.0" fill="#008000" fill-opacity="0.5" stroke="#002000" stroke-opacity="0.45" stroke-width="0.7"/>
<rect x="339.1" y="165.3" width="6.0" height="6.0" fill="#008000" fill-opacity="0.5" stroke="#002000" stroke-opacity="0.45" stroke-width="0.7"/>
<rect x="341.6" y="164.5" width="6.0" height="6.0" fill="#008000" fill-opacity="0.5" stroke="#002000" stroke-opacity="0.45" stroke-width="0.7"/>
<rect x="341.3" y="163.6" width="6.0" height="6.0" fill="#008000" fill-opacity="0.5" stroke="#002000" stroke-opacity="0.45" stroke-width="0.7"/>
<rect x="341.1" y="165.5" width="6.0" height="6.0" fill="#008000" fill-opacity="0.5" stroke="#002000" stroke-opacity="0.45" stroke-width="0.7"/>
<rect x="341.9" y="164.4" width="6.0" height="6.0" fill="#008000" fill-opacity="0.5" stroke="#002000" stroke-opacity="0.45" stroke-width="0.7"/>
<rect x="340.2" y="164.5" width="6.0" height="6.0" fill="#008000" fill-opacity="0.5" stroke="#002000" stroke-opacity="0.45" stroke-width="0.7"/>
<rect x="341.8" y="164.4" width="6.0" height="6.0" fill="#008000" fill-opacity="0.5" stroke="#002000" stroke-opacity="0.45" stroke-width="0.7"/>
<rect x="342.2" y="162.6" width="6.0" height="6.0" fill="#008000" fill-opacity="0.5" stroke="#002000" stroke-opacity="0.45" stroke-width="0.7"/>
<rect x="342.2" y="162.5" width="6.0" height="6.0" fill="#008000" fill-opacity="0.5" stroke="#002000" stroke-opacity="0.45" stroke-width="0.7"/>
<rect x="344.0" y="164.3" width="6.0" height="6.0" fill="#008000" fill-opacity="0.5" stroke="#002000" stroke-opacity="0.45" stroke-width="0.7"/>
<rect x="346.8" y="162.1" width="6.0" height="6.0" fill="#008000" fill-opacity="0.5" stroke="#002000" stroke-opacity="0.45" stroke-width="0.7"/>
<rect x="343.3" y="162.6" width="6.0" height="6.0" fill="#008000" fill-opacity="0.5" stroke="#002000" stroke-opacity="0.45" stroke-width="0.7"/>
<rect x="345.6" y="161.7" width="6.0" height="6.0" fill="#008000" fill-opacity="0.5" stroke="#002000" stroke-opacity="0.45" stroke-width="0.7"/>
<rect x="346.3" y="162.0" width="6.0" height="6.0" fill="#008000" fill-opacity="0.5" stroke="#002000" stroke-opacity="0.45" stroke-width="0.7"/>
<polygon points="258.6,220.0 265.4,220.0 262.0,225.6" fill="#ff3030" fill-opacity="0.35" stroke="#802020" stroke-opacity="0.55" stroke-width="0.6"/>
<polygon points="266.6,217.5 273.4,217.5 270.0,223.1" fill="#ff3030" fill-opacity="0.35" stroke="#802020" stroke-opacity="0.55" stroke-width="0.6"/>
<polygon points="272.6,216.0 279.4,216.0 276.0,221.6" fill="#ff3030" fill-opacity="0.35" stroke="#802020" stroke-opacity="0.55" stroke-width="0.6"/>
<polygon points="277.6,219.0 284.4,219.0 281.0,224.6" fill="#ff3030" fill-opacity="0.35" stroke="#802020" stroke-opacity="0.55" stroke-width="0.6"/>
<polygon points="282.6,213.0 289.4,213.0 286.0,218.6" fill="#ff3030" fill-opacity="0.35" stroke="#802020" stroke-opacity="0.55" stroke-width="0.6"/>
<polygon points="287.6,212.5 294.4,212.5 291.0,218.1" fill="#ff3030" fill-opacity="0.35" stroke="#802020" stroke-opacity="0.55" stroke-width="0.6"/>
<polygon points="291.6,210.0 298.4,210.0 295.0,215.6" fill="#ff3030" fill-opacity="0.35" stroke="#802020" stroke-opacity="0.55" stroke-width="0.6"/>
<polygon points="296.6,208.0 303.4,208.0 300.0,213.6" fill="#ff3030" fill-opacity="0.35" stroke="#802020" stroke-opacity="0.55" stroke-width="0.6"/>
<polygon points="301.6,205.5 308.4,205.5 305.0,211.1" fill="#ff3030" fill-opacity="0.35" stroke="#802020" stroke-opacity="0.55" stroke-width="0.6"/>
<polygon points="306.6,204.0 313.4,204.0 310.0,209.6" fill="#ff3030" fill-opacity="0.35" stroke="#802020" stroke-opacity="0.55" stroke-width="0.6"/>
<polygon points="294.6,214.0 301.4,214.0 298.0,219.6" fill="#ff3030" fill-opacity="0.35" stroke="#802020" stroke-opacity="0.55" stroke-width="0.6"/>
<polygon points="278.6,224.0 285.4,224.0 282.0,229.6" fill="#ff3030" fill-opacity="0.35" stroke="#802020" stroke-opacity="0.55" stroke-width="0.6"/>
<polygon points="262.6,221.0 269.4,221.0 266.0,226.6" fill="#ff3030" fill-opacity="0.35" stroke="#802020" stroke-opacity="0.55" stroke-width="0.6"/>
<polygon points="269.6,222.0 276.4,222.0 273.0,227.6" fill="#ff3030" fill-opacity="0.35" stroke="#802020" stroke-opacity="0.55" stroke-width="0.6"/>
<polygon points="285.6,216.0 292.4,216.0 289.0,221.6" fill="#ff3030" fill-opacity="0.35" stroke="#802020" stroke-opacity="0.55" stroke-width="0.6"/>
<polygon points="289.6,217.0 296.4,217.0 293.0,222.6" fill="#ff3030" fill-opacity="0.35" stroke="#802020" stroke-opacity="0.55" stroke-width="0.6"/>
<polygon points="299.6,209.0 306.4,209.0 303.0,214.6" fill="#ff3030" fill-opacity="0.35" stroke="#802020" stroke-opacity="0.55" stroke-width="0.6"/>
<polygon points="304.6,210.0 311.4,210.0 308.0,215.6" fill="#ff3030" fill-opacity="0.35" stroke="#802020" stroke-opacity="0.55" stroke-width="0.6"/>
<polygon points="309.6,202.0 316.4,202.0 313.0,207.6" fill="#ff3030" fill-opacity="0.35" stroke="#802020" stroke-opacity="0.55" stroke-width="0.6"/>
<polygon points="273.6,211.0 280.4,211.0 277.0,216.6" fill="#ff3030" fill-opacity="0.35" stroke="#802020" stroke-opacity="0.55" stroke-width="0.6"/>
<polygon points="297.6,204.0 304.4,204.0 301.0,209.6" fill="#ff3030" fill-opacity="0.35" stroke="#802020" stroke-opacity="0.55" stroke-width="0.6"/>
<polygon points="314.0,197.1 320.8,197.1 317.4,202.8" fill="#ff0000" fill-opacity="0.5" stroke="#100000" stroke-opacity="0.55" stroke-width="0.7"/>
<polygon points="314.2,199.1 321.0,199.1 317.6,204.7" fill="#ff0000" fill-opacity="0.5" stroke="#100000" stroke-opacity="0.55" stroke-width="0.7"/>
<polygon points="312.3,200.2 319.1,200.2 315.7,205.9" fill="#ff0000" fill-opacity="0.5" stroke="#100000" stroke-opacity="0.55" stroke-width="0.7"/>
<polygon points="311.7,198.9 318.5,198.9 315.1,204.5" fill="#ff0000" fill-opacity="0.5" stroke="#100000" stroke-opacity="0.55" stroke-width="0.7"/>
<polygon points="313.2,199.3 320.0,199.3 316.6,204.9" fill="#ff0000" fill-opacity="0.5" stroke="#100000" stroke-opacity="0.55" stroke-width="0.7"/>
<polygon points="314.9,195.8 321.7,195.8 318.3,201.4" fill="#ff0000" fill-opacity="0.5" stroke="#100000" stroke-opacity="0.55" stroke-width="0.7"/>
<polygon points="314.2,195.5 321.0,195.5 317.6,201.1" fill="#ff0000" fill-opacity="0.5" stroke="#100000" stroke-opacity="0.55" stroke-width="0.7"/>
<polygon points="314.7,197.3 321.5,197.3 318.1,202.9" fill="#ff0000" fill-opacity="0.5" stroke="#100000" stroke-opacity="0.55" stroke-width="0.7"/>
<polygon points="313.5,196.5 320.3,196.5 316.9,202.1" fill="#ff0000" fill-opacity="0.5" stroke="#100000" stroke-opacity="0.55" stroke-width="0.7"/>
<polygon points="315.7,197.4 322.5,197.4 319.1,203.0" fill="#ff0000" fill-opacity="0.5" stroke="#100000" stroke-opacity="0.55" stroke-width="0.7"/>
<polygon points="315.5,197.3 322.3,197.3 318.9,202.9" fill="#ff0000" fill-opacity="0.5" stroke="#100000" stroke-opacity="0.55" stroke-width="0.7"/>
<polygon points="313.9,196.7 320.7,196.7 317.3,202.3" fill="#ff0000" fill-opacity="0.5" stroke="#100000" stroke-opacity="0.55" stroke-width="0.7"/>
<polygon points="314.8,196.0 321.6,196.0 318.2,201.6" fill="#ff0000" fill-opacity="0.5" stroke="#100000" stroke-opacity="0.55" stroke-width="0.7"/>
<polygon points="317.3,196.4 324.1,196.4 320.7,202.0" fill="#ff0000" fill-opacity="0.5" stroke="#100000" stroke-opacity="0.55" stroke-width="0.7"/>
<polygon points="318.4,195.3 325.2,195.3 321.8,200.9" fill="#ff0000" fill-opacity="0.5" stroke="#100000" stroke-opacity="0.55" stroke-width="0.7"/>
<polygon points="316.8,195.5 323.6,195.5 320.2,201.1" fill="#ff0000" fill-opacity="0.5" stroke="#100000" stroke-opacity="0.55" stroke-width="0.7"/>
<polygon points="315.8,197.4 322.6,197.4 319.2,203.0" fill="#ff0000" fill-opacity="0.5" stroke="#100000" stroke-opacity="0.55" stroke-width="0.7"/>
<polygon points="317.5,196.3 324.3,196.3 320.9,201.9" fill="#ff0000" fill-opacity="0.5" stroke="#100000" stroke-opacity="0.55" stroke-width="0.7"/>
<polygon points="318.4,195.1 325.2,195.1 321.8,200.7" fill="#ff0000" fill-opacity="0.5" stroke="#100000" stroke-opacity="0.55" stroke-width="0.7"/>
<polygon points="316.6,195.9 323.4,195.9 320.0,201.6" fill="#ff0000" fill-opacity="0.5" stroke="#100000" stroke-opacity="0.55" stroke-width="0.7"/>
<polygon points="318.2,195.6 325.0,195.6 321.6,201.3" fill="#ff0000" fill-opacity="0.5" stroke="#100000" stroke-opacity="0.55" stroke-width="0.7"/>
<polygon points="318.9,194.0 325.7,194.0 322.3,199.6" fill="#ff0000" fill-opacity="0.5" stroke="#100000" stroke-opacity="0.55" stroke-width="0.7"/>
<polygon points="319.3,194.9 326.1,194.9 322.7,200.5" fill="#ff0000" fill-opacity="0.5" stroke="#100000" stroke-opacity="0.55" stroke-width="0.7"/>
<polygon points="319.6,195.3 326.4,195.3 323.0,200.9" fill="#ff0000" fill-opacity="0.5" stroke="#100000" stroke-opacity="0.55" stroke-width="0.7"/>
<polygon points="318.3,194.0 325.1,194.0 321.7,199.6" fill="#ff0000" fill-opacity="0.5" stroke="#100000" stroke-opacity="0.55" stroke-width="0.7"/>
<polygon points="321.6,195.7 328.4,195.7 325.0,201.3" fill="#ff0000" fill-opacity="0.5" stroke="#100000" stroke-opacity="0.55" stroke-width="0.7"/>
<polygon points="319.0,194.2 325.8,194.2 322.4,199.8" fill="#ff0000" fill-opacity="0.5" stroke="#100000" stroke-opacity="0.55" stroke-width="0.7"/>
<polygon points="319.7,192.2 326.5,192.2 323.1,197.8" fill="#ff0000" fill-opacity="0.5" stroke="#100000" stroke-opacity="0.55" stroke-width="0.7"/>
<polygon points="321.2,194.0 328.0,194.0 324.6,199.6" fill="#ff0000" fill-opacity="0.5" stroke="#100000" stroke-opacity="0.55" stroke-width="0.7"/>
<polygon points="321.6,195.6 328.4,195.6 325.0,201.2" fill="#ff0000" fill-opacity="0.5" stroke="#100000" stroke-opacity="0.55" stroke-width="0.7"/>
<polygon points="321.7,193.0 328.5,193.0 325.1,198.6" fill="#ff0000" fill-opacity="0.5" stroke="#100000" stroke-opacity="0.55" stroke-width="0.7"/>
<polygon points="324.2,194.4 331.0,194.4 327.6,200.0" fill="#ff0000" fill-opacity="0.5" stroke="#100000" stroke-opacity="0.55" stroke-width="0.7"/>
<polygon points="321.7,194.7 328.5,194.7 325.1,200.3" fill="#ff0000" fill-opacity="0.5" stroke="#100000" stroke-opacity="0.55" stroke-width="0.7"/>
<polygon points="323.5,196.7 330.3,196.7 326.9,202.3" fill="#ff0000" fill-opacity="0.5" stroke="#100000" stroke-opacity="0.55" stroke-width="0.7"/>
<polygon points="321.8,191.5 328.6,191.5 325.2,197.1" fill="#ff0000" fill-opacity="0.5" stroke="#100000" stroke-opacity="0.55" stroke-width="0.7"/>
<polygon points="322.1,192.2 328.9,192.2 325.5,197.8" fill="#ff0000" fill-opacity="0.5" stroke="#100000" stroke-opacity="0.55" stroke-width="0.7"/>
<polygon points="322.9,193.8 329.7,193.8 326.3,199.4" fill="#ff0000" fill-opacity="0.5" stroke="#100000" stroke-opacity="0.55" stroke-width="0.7"/>
<polygon points="324.9,191.8 331.7,191.8 328.3,197.5" fill="#ff0000" fill-opacity="0.5" stroke="#100000" stroke-opacity="0.55" stroke-width="0.7"/>
<polygon points="325.4,192.0 332.2,192.0 328.8,197.6" fill="#ff0000" fill-opacity="0.5" stroke="#100000" stroke-opacity="0.55" stroke-width="0.7"/>
<polygon points="323.0,192.9 329.8,192.9 326.4,198.5" fill="#ff0000" fill-opacity="0.5" stroke="#100000" stroke-opacity="0.55" stroke-width="0.7"/>
<polygon points="325.0,190.0 331.8,190.0 328.4,195.6" fill="#ff0000" fill-opacity="0.5" stroke="#100000" stroke-opacity="0.55" stroke-width="0.7"/>
<polygon points="324.2,192.6 331.0,192.6 327.6,198.2" fill="#ff0000" fill-opacity="0.5" stroke="#100000" stroke-opacity="0.55" stroke-width="0.7"/>
<polygon points="323.8,191.9 330.6,191.9 327.2,197.5" fill="#ff0000" fill-opacity="0.5" stroke="#100000" stroke-opacity="0.55" stroke-width="0.7"/>
<polygon points="326.0,188.6 332.8,188.6 329.4,194.2" fill="#ff0000" fill-opacity="0.5" stroke="#100000" stroke-opacity="0.55" stroke-width="0.7"/>
<polygon points="326.6,191.0 333.4,191.0 330.0,196.6" fill="#ff0000" fill-opacity="0.5" stroke="#100000" stroke-opacity="0.55" stroke-width="0.7"/>
<polygon points="328.1,189.8 334.9,189.8 331.5,195.4" fill="#ff0000" fill-opacity="0.5" stroke="#100000" stroke-opacity="0.55" stroke-width="0.7"/>
<polygon points="326.5,190.0 333.3,190.0 329.9,195.6" fill="#ff0000" fill-opacity="0.5" stroke="#100000" stroke-opacity="0.55" stroke-width="0.7"/>
<polygon points="327.6,191.1 334.4,191.1 331.0,196.7" fill="#ff0000" fill-opacity="0.5" stroke="#100000" stroke-opacity="0.55" stroke-width="0.7"/>
<polygon points="325.9,189.8 332.7,189.8 329.3,195.4" fill="#ff0000" fill-opacity="0.5" stroke="#100000" stroke-opacity="0.55" stroke-width="0.7"/>
<polygon points="329.9,190.1 336.7,190.1 333.3,195.7" fill="#ff0000" fill-opacity="0.5" stroke="#100000" stroke-opacity="0.55" stroke-width="0.7"/>
<polygon points="329.0,188.2 335.8,188.2 332.4,193.8" fill="#ff0000" fill-opacity="0.5" stroke="#100000" stroke-opacity="0.55" stroke-width="0.7"/>
<polygon points="327.8,189.2 334.6,189.2 331.2,194.8" fill="#ff0000" fill-opacity="0.5" stroke="#100000" stroke-opacity="0.55" stroke-width="0.7"/>
<polygon points="328.7,192.0 335.5,192.0 332.1,197.6" fill="#ff0000" fill-opacity="0.5" stroke="#100000" stroke-opacity="0.55" stroke-width="0.7"/>
<polygon points="328.6,188.7 335.4,188.7 332.0,194.3" fill="#ff0000" fill-opacity="0.5" stroke="#100000" stroke-opacity="0.55" stroke-width="0.7"/>
<polygon points="327.3,189.3 334.1,189.3 330.7,194.9" fill="#ff0000" fill-opacity="0.5" stroke="#100000" stroke-opacity="0.55" stroke-width="0.7"/>
<polygon points="329.2,189.4 336.0,189.4 332.6,195.0" fill="#ff0000" fill-opacity="0.5" stroke="#100000" stroke-opacity="0.55" stroke-width="0.7"/>
<polygon points="329.6,187.3 336.4,187.3 333.0,192.9" fill="#ff0000" fill-opacity="0.5" stroke="#100000" stroke-opacity="0.55" stroke-width="0.7"/>
<polygon points="329.6,188.1 336.4,188.1 333.0,193.7" fill="#ff0000" fill-opacity="0.5" stroke="#100000" stroke-opacity="0.55" stroke-width="0.7"/>
<polygon points="329.1,186.5 335.9,186.5 332.5,192.1" fill="#ff0000" fill-opacity="0.5" stroke="#100000" stroke-opacity="0.55" stroke-width="0.7"/>
<polygon points="331.5,188.2 338.3,188.2 334.9,193.8" fill="#ff0000" fill-opacity="0.5" stroke="#100000" stroke-opacity="0.55" stroke-width="0.7"/>
<polygon points="328.5,183.8 335.3,183.8 331.9,189.4" fill="#ff0000" fill-opacity="0.5" stroke="#100000" stroke-opacity="0.55" stroke-width="0.7"/>
<polygon points="332.2,187.4 339.0,187.4 335.6,193.0" fill="#ff0000" fill-opacity="0.5" stroke="#100000" stroke-opacity="0.55" stroke-width="0.7"/>
<polygon points="332.0,188.7 338.8,188.7 335.4,194.3" fill="#ff0000" fill-opacity="0.5" stroke="#100000" stroke-opacity="0.55" stroke-width="0.7"/>
<polygon points="333.5,187.4 340.3,187.4 336.9,193.0" fill="#ff0000" fill-opacity="0.5" stroke="#100000" stroke-opacity="0.55" stroke-width="0.7"/>
<polygon points="333.0,186.6 339.8,186.6 336.4,192.2" fill="#ff0000" fill-opacity="0.5" stroke="#100000" stroke-opacity="0.55" stroke-width="0.7"/>
<polygon points="332.7,185.9 339.5,185.9 336.1,191.5" fill="#ff0000" fill-opacity="0.5" stroke="#100000" stroke-opacity="0.55" stroke-width="0.7"/>
<polygon points="334.5,187.0 341.3,187.0 337.9,192.7" fill="#ff0000" fill-opacity="0.5" stroke="#100000" stroke-opacity="0.55" stroke-width="0.7"/>
<polygon points="333.9,187.7 340.7,187.7 337.3,193.3" fill="#ff0000" fill-opacity="0.5" stroke="#100000" stroke-opacity="0.55" stroke-width="0.7"/>
<polygon points="332.2,184.0 339.0,184.0 335.6,189.6" fill="#ff0000" fill-opacity="0.5" stroke="#100000" stroke-opacity="0.55" stroke-width="0.7"/>
<polygon points="333.9,186.4 340.7,186.4 337.3,192.0" fill="#ff0000" fill-opacity="0.5" stroke="#100000" stroke-opacity="0.55" stroke-width="0.7"/>
<polygon points="334.1,185.6 340.9,185.6 337.5,191.2" fill="#ff0000" fill-opacity="0.5" stroke="#100000" stroke-opacity="0.55" stroke-width="0.7"/>
<polygon points="335.2,184.4 342.0,184.4 338.6,190.0" fill="#ff0000" fill-opacity="0.5" stroke="#100000" stroke-opacity="0.55" stroke-width="0.7"/>
<polygon points="335.6,185.3 342.4,185.3 339.0,190.9" fill="#ff0000" fill-opacity="0.5" stroke="#100000" stroke-opacity="0.55" stroke-width="0.7"/>
<polygon points="333.3,184.7 340.1,184.7 336.7,190.3" fill="#ff0000" fill-opacity="0.5" stroke="#100000" stroke-opacity="0.55" stroke-width="0.7"/>
<polygon points="336.7,186.2 343.5,186.2 340.1,191.8" fill="#ff0000" fill-opacity="0.5" stroke="#100000" stroke-opacity="0.55" stroke-width="0.7"/>
<polygon points="336.4,186.4 343.2,186.4 339.8,192.0" fill="#ff0000" fill-opacity="0.5" stroke="#100000" stroke-opacity="0.55" stroke-width="0.7"/>
<polygon points="336.3,183.9 343.1,183.9 339.7,189.5" fill="#ff0000" fill-opacity="0.5" stroke="#100000" stroke-opacity="0.55" stroke-width="0.7"/>
<polygon points="337.4,185.3 344.2,185.3 340.8,190.9" fill="#ff0000" fill-opacity="0.5" stroke="#100000" stroke-opacity="0.55" stroke-width="0.7"/>
<polygon points="339.7,185.6 346.5,185.6 343.1,191.2" fill="#ff0000" fill-opacity="0.5" stroke="#100000" stroke-opacity="0.55" stroke-width="0.7"/>
<polygon points="337.3,184.4 344.1,184.4 340.7,190.1" fill="#ff0000" fill-opacity="0.5" stroke="#100000" stroke-opacity="0.55" stroke-width="0.7"/>
<polygon points="338.7,185.1 345.5,185.1 342.1,190.7" fill="#ff0000" fill-opacity="0.5" stroke="#100000" stroke-opacity="0.55" stroke-width="0.7"/>
<polygon points="339.4,183.6 346.2,183.6 342.8,189.2" fill="#ff0000" fill-opacity="0.5" stroke="#100000" stroke-opacity="0.55" stroke-width="0.7"/>
<polygon points="337.5,182.3 344.3,182.3 340.9,187.9" fill="#ff0000" fill-opacity="0.5" stroke="#100000" stroke-opacity="0.55" stroke-width="0.7"/>
<polygon points="338.4,182.6 345.2,182.6 341.8,188.3" fill="#ff0000" fill-opacity="0.5" stroke="#100000" stroke-opacity="0.55" stroke-width="0.7"/>
<polygon points="338.5,182.9 345.3,182.9 341.9,188.6" fill="#ff0000" fill-opacity="0.5" stroke="#100000" stroke-opacity="0.55" stroke-width="0.7"/>
<polygon points="338.6,182.4 345.4,182.4 342.0,188.0" fill="#ff0000" fill-opacity="0.5" stroke="#100000" stroke-opacity="0.55" stroke-width="0.7"/>
<polygon points="339.0,181.2 345.8,181.2 342.4,186.8" fill="#ff0000" fill-opacity="0.5" stroke="#100000" stroke-opacity="0.55" stroke-width="0.7"/>
<polygon points="337.3,182.9 344.1,182.9 340.7,188.5" fill="#ff0000" fill-opacity="0.5" stroke="#100000" stroke-opacity="0.55" stroke-width="0.7"/>
<polygon points="341.2,181.2 348.0,181.2 344.6,186.8" fill="#ff0000" fill-opacity="0.5" stroke="#100000" stroke-opacity="0.55" stroke-width="0.7"/>
<polygon points="342.5,182.9 349.3,182.9 345.9,188.5" fill="#ff0000" fill-opacity="0.5" stroke="#100000" stroke-opacity="0.55" stroke-width="0.7"/>
<polygon points="340.7,180.0 347.5,180.0 344.1,185.6" fill="#ff0000" fill-opacity="0.5" stroke="#100000" stroke-opacity="0.55" stroke-width="0.7"/>
<polygon points="342.4,181.5 349.2,181.5 345.8,187.2" fill="#ff0000" fill-opacity="0.5" stroke="#100000" stroke-opacity="0.55" stroke-width="0.7"/>
<polygon points="341.6,180.2 348.4,180.2 345.0,185.8" fill="#ff0000" fill-opacity="0.5" stroke="#100000" stroke-opacity="0.55" stroke-width="0.7"/>
<polygon points="342.8,179.8 349.6,179.8 346.2,185.4" fill="#ff0000" fill-opacity="0.5" stroke="#100000" stroke-opacity="0.55" stroke-width="0.7"/>
<polygon points="343.0,180.7 349.8,180.7 346.4,186.3" fill="#ff0000" fill-opacity="0.5" stroke="#100000" stroke-opacity="0.55" stroke-width="0.7"/>
<polygon points="342.2,180.8 349.0,180.8 345.6,186.4" fill="#ff0000" fill-opacity="0.5" stroke="#100000" stroke-opacity="0.55" stroke-width="0.7"/>
<polygon points="343.3,180.0 350.1,180.0 346.7,185.6" fill="#ff0000" fill-opacity="0.5" stroke="#100000" stroke-opacity="0.55" stroke-width="0.7"/>
<polygon points="341.9,178.9 348.7,178.9 345.3,184.5" fill="#ff0000" fill-opacity="0.5" stroke="#100000" stroke-opacity="0.55" stroke-width="0.7"/>
<polygon points="342.6,180.2 349.4,180.2 346.0,185.8" fill="#ff0000" fill-opacity="0.5" stroke="#100000" stroke-opacity="0.55" stroke-width="0.7"/>
<polygon points="344.3,179.8 351.1,179.8 347.7,185.4" fill="#ff0000" fill-opacity="0.5" stroke="#100000" stroke-opacity="0.55" stroke-width="0.7"/>
<polygon points="342.8,179.2 349.6,179.2 346.2,184.9" fill="#ff0000" fill-opacity="0.5" stroke="#100000" stroke-opacity="0.55" stroke-width="0.7"/>
<polygon points="342.8,179.5 349.6,179.5 346.2,185.1" fill="#ff0000" fill-opacity="0.5" stroke="#100000" stroke-opacity="0.55" stroke-width="0.7"/>
<polygon points="343.3,179.4 350.1,179.4 346.7,185.0" fill="#ff0000" fill-opacity="0.5" stroke="#100000" stroke-opacity="0.55" stroke-width="0.7"/>
<polygon points="343.7,178.5 350.5,178.5 347.1,184.1" fill="#ff0000" fill-opacity="0.5" stroke="#100000" stroke-opacity="0.55" stroke-width="0.7"/>
<polygon points="346.1,178.4 352.9,178.4 349.5,184.0" fill="#ff0000" fill-opacity="0.5" stroke="#100000" stroke-opacity="0.55" stroke-width="0.7"/>
<polygon points="345.4,178.8 352.2,178.8 348.8,184.4" fill="#ff0000" fill-opacity="0.5" stroke="#100000" stroke-opacity="0.55" stroke-width="0.7"/>
<polygon points="346.0,180.0 352.8,180.0 349.4,185.6" fill="#ff0000" fill-opacity="0.5" stroke="#100000" stroke-opacity="0.55" stroke-width="0.7"/>
<polygon points="347.3,177.6 354.1,177.6 350.7,183.2" fill="#ff0000" fill-opacity="0.5" stroke="#100000" stroke-opacity="0.55" stroke-width="0.7"/>
<polygon points="346.4,177.3 353.2,177.3 349.8,182.9" fill="#ff0000" fill-opacity="0.5" stroke="#100000" stroke-opacity="0.55" stroke-width="0.7"/>
<polygon points="346.8,177.6 353.6,177.6 350.2,183.2" fill="#ff0000" fill-opacity="0.5" stroke="#100000" stroke-opacity="0.55" stroke-width="0.7"/>
<polygon points="348.4,179.0 355.2,179.0 351.8,184.6" fill="#ff0000" fill-opacity="0.5" stroke="#100000" stroke-opacity="0.55" stroke-width="0.7"/>
<polygon points="347.6,178.1 354.4,178.1 351.0,183.7" fill="#ff0000" fill-opacity="0.5" stroke="#100000" stroke-opacity="0.55" stroke-width="0.7"/>
<polygon points="349.5,178.6 356.3,178.6 352.9,184.2" fill="#ff0000" fill-opacity="0.5" stroke="#100000" stroke-opacity="0.55" stroke-width="0.7"/>
<polygon points="349.4,177.2 356.2,177.2 352.8,182.8" fill="#ff0000" fill-opacity="0.5" stroke="#100000" stroke-opacity="0.55" stroke-width="0.7"/>
<polygon points="348.9,177.4 355.7,177.4 352.3,183.0" fill="#ff0000" fill-opacity="0.5" stroke="#100000" stroke-opacity="0.55" stroke-width="0.7"/>
<polygon points="348.6,176.5 355.4,176.5 352.0,182.1" fill="#ff0000" fill-opacity="0.5" stroke="#100000" stroke-opacity="0.55" stroke-width="0.7"/>
<polygon points="348.9,173.3 355.7,173.3 352.3,179.0" fill="#ff0000" fill-opacity="0.5" stroke="#100000" stroke-opacity="0.55" stroke-width="0.7"/>
<polygon points="349.9,178.6 356.7,178.6 353.3,184.2" fill="#ff0000" fill-opacity="0.5" stroke="#100000" stroke-opacity="0.55" stroke-width="0.7"/>
<polygon points="350.0,175.6 356.8,175.6 353.4,181.2" fill="#ff0000" fill-opacity="0.5" stroke="#100000" stroke-opacity="0.55" stroke-width="0.7"/>
<polygon points="350.4,174.2 357.2,174.2 353.8,179.8" fill="#ff0000" fill-opacity="0.5" stroke="#100000" stroke-opacity="0.55" stroke-width="0.7"/>
<polygon points="349.8,175.4 356.6,175.4 353.2,181.0" fill="#ff0000" fill-opacity="0.5" stroke="#100000" stroke-opacity="0.55" stroke-width="0.7"/>
<polygon points="350.6,175.9 357.4,175.9 354.0,181.5" fill="#ff0000" fill-opacity="0.5" stroke="#100000" stroke-opacity="0.55" stroke-width="0.7"/>
<polygon points="350.9,172.6 357.7,172.6 354.3,178.2" fill="#ff0000" fill-opacity="0.5" stroke="#100000" stroke-opacity="0.55" stroke-width="0.7"/>
<polygon points="349.4,174.9 356.2,174.9 352.8,180.5" fill="#ff0000" fill-opacity="0.5" stroke="#100000" stroke-opacity="0.55" stroke-width="0.7"/>
<polygon points="352.1,174.7 358.9,174.7 355.5,180.3" fill="#ff0000" fill-opacity="0.5" stroke="#100000" stroke-opacity="0.55" stroke-width="0.7"/>
<polygon points="353.0,173.2 359.8,173.2 356.4,178.8" fill="#ff0000" fill-opacity="0.5" stroke="#100000" stroke-opacity="0.55" stroke-width="0.7"/>
<polygon points="352.1,168.8 358.9,168.8 355.5,174.4" fill="#ff0000" fill-opacity="0.5" stroke="#100000" stroke-opacity="0.55" stroke-width="0.7"/>
<polygon points="354.1,174.0 360.9,174.0 357.5,179.6" fill="#ff0000" fill-opacity="0.5" stroke="#100000" stroke-opacity="0.55" stroke-width="0.7"/>
<polygon points="354.6,172.0 361.4,172.0 358.0,177.6" fill="#ff0000" fill-opacity="0.5" stroke="#100000" stroke-opacity="0.55" stroke-width="0.7"/>
<polygon points="354.9,172.1 361.7,172.1 358.3,177.7" fill="#ff0000" fill-opacity="0.5" stroke="#100000" stroke-opacity="0.55" stroke-width="0.7"/>
<polygon points="352.9,172.8 359.7,172.8 356.3,178.5" fill="#ff0000" fill-opacity="0.5" stroke="#100000" stroke-opacity="0.55" stroke-width="0.7"/>
<polygon points="354.0,172.8 360.8,172.8 357.4,178.4" fill="#ff0000" fill-opacity="0.5" stroke="#100000" stroke-opacity="0.55" stroke-width="0.7"/>
<polygon points="353.1,174.0 359.9,174.0 356.5,179.6" fill="#ff0000" fill-opacity="0.5" stroke="#100000" stroke-opacity="0.55" stroke-width="0.7"/>
<polygon points="354.1,171.5 360.9,171.5 357.5,177.1" fill="#ff0000" fill-opacity="0.5" stroke="#100000" stroke-opacity="0.55" stroke-width="0.7"/>
<polygon points="354.1,170.6 360.9,170.6 357.5,176.2" fill="#ff0000" fill-opacity="0.5" stroke="#100000" stroke-opacity="0.55" stroke-width="0.7"/>
<polygon points="356.6,173.3 363.4,173.3 360.0,179.0" fill="#ff0000" fill-opacity="0.5" stroke="#100000" stroke-opacity="0.55" stroke-width="0.7"/>
<polygon points="355.5,170.9 362.3,170.9 358.9,176.5" fill="#ff0000" fill-opacity="0.5" stroke="#100000" stroke-opacity="0.55" stroke-width="0.7"/>
<polygon points="356.1,171.9 362.9,171.9 359.5,177.5" fill="#ff0000" fill-opacity="0.5" stroke="#100000" stroke-opacity="0.55" stroke-width="0.7"/>
<polygon points="357.4,173.0 364.2,173.0 360.8,178.6" fill="#ff0000" fill-opacity="0.5" stroke="#100000" stroke-opacity="0.55" stroke-width="0.7"/>
<polygon points="359.3,172.3 366.1,172.3 362.7,177.9" fill="#ff0000" fill-opacity="0.5" stroke="#100000" stroke-opacity="0.55" stroke-width="0.7"/>
<polygon points="356.1,169.0 362.9,169.0 359.5,174.6" fill="#ff0000" fill-opacity="0.5" stroke="#100000" stroke-opacity="0.55" stroke-width="0.7"/>
<polygon points="355.3,171.2 362.1,171.2 358.7,176.9" fill="#ff0000" fill-opacity="0.5" stroke="#100000" stroke-opacity="0.55" stroke-width="0.7"/>
<polygon points="357.9,171.1 364.7,171.1 361.3,176.7" fill="#ff0000" fill-opacity="0.5" stroke="#100000" stroke-opacity="0.55" stroke-width="0.7"/>
<polygon points="359.1,171.1 365.9,171.1 362.5,176.7" fill="#ff0000" fill-opacity="0.5" stroke="#100000" stroke-opacity="0.55" stroke-width="0.7"/>
<polygon points="357.2,168.4 364.0,168.4 360.6,174.0" fill="#ff0000" fill-opacity="0.5" stroke="#100000" stroke-opacity="0.55" stroke-width="0.7"/>
<polygon points="357.4,170.4 364.2,170.4 360.8,176.0" fill="#ff0000" fill-opacity="0.5" stroke="#100000" stroke-opacity="0.55" stroke-width="0.7"/>
<polygon points="358.9,170.3 365.7,170.3 362.3,175.9" fill="#ff0000" fill-opacity="0.5" stroke="#100000" stroke-opacity="0.55" stroke-width="0.7"/>
<polygon points="360.2,167.9 367.0,167.9 363.6,173.5" fill="#ff0000" fill-opacity="0.5" stroke="#100000" stroke-opacity="0.55" stroke-width="0.7"/>
<polygon points="359.7,166.8 366.5,166.8 363.1,172.4" fill="#ff0000" fill-opacity="0.5" stroke="#100000" stroke-opacity="0.55" stroke-width="0.7"/>
<polygon points="361.0,168.9 367.8,168.9 364.4,174.5" fill="#ff0000" fill-opacity="0.5" stroke="#100000" stroke-opacity="0.55" stroke-width="0.7"/>
<polygon points="360.0,169.7 366.8,169.7 363.4,175.3" fill="#ff0000" fill-opacity="0.5" stroke="#100000" stroke-opacity="0.55" stroke-width="0.7"/>
<polygon points="358.7,166.8 365.5,166.8 362.1,172.4" fill="#ff0000" fill-opacity="0.5" stroke="#100000" stroke-opacity="0.55" stroke-width="0.7"/>
<polygon points="359.6,167.3 366.4,167.3 363.0,172.9" fill="#ff0000" fill-opacity="0.5" stroke="#100000" stroke-opacity="0.55" stroke-width="0.7"/>
<polygon points="360.3,169.5 367.1,169.5 363.7,175.2" fill="#ff0000" fill-opacity="0.5" stroke="#100000" stroke-opacity="0.55" stroke-width="0.7"/>
<polygon points="361.0,167.1 367.8,167.1 364.4,172.7" fill="#ff0000" fill-opacity="0.5" stroke="#100000" stroke-opacity="0.55" stroke-width="0.7"/>
<polygon points="360.5,166.7 367.3,166.7 363.9,172.3" fill="#ff0000" fill-opacity="0.5" stroke="#100000" stroke-opacity="0.55" stroke-width="0.7"/>
<polygon points="363.0,167.6 369.8,167.6 366.4,173.2" fill="#ff0000" fill-opacity="0.5" stroke="#100000" stroke-opacity="0.55" stroke-width="0.7"/>
<polygon points="360.9,167.8 367.7,167.8 364.3,173.4" fill="#ff0000" fill-opacity="0.5" stroke="#100000" stroke-opacity="0.55" stroke-width="0.7"/>
<polygon points="362.7,166.9 369.5,166.9 366.1,172.5" fill="#ff0000" fill-opacity="0.5" stroke="#100000" stroke-opacity="0.55" stroke-width="0.7"/>
<polygon points="363.7,167.3 370.5,167.3 367.1,172.9" fill="#ff0000" fill-opacity="0.5" stroke="#100000" stroke-opacity="0.55" stroke-width="0.7"/>
<polygon points="363.5,166.6 370.3,166.6 366.9,172.2" fill="#ff0000" fill-opacity="0.5" stroke="#100000" stroke-opacity="0.55" stroke-width="0.7"/>
<polygon points="364.4,165.3 371.2,165.3 367.8,170.9" fill="#ff0000" fill-opacity="0.5" stroke="#100000" stroke-opacity="0.55" stroke-width="0.7"/>
<polygon points="363.8,165.6 370.6,165.6 367.2,171.3" fill="#ff0000" fill-opacity="0.5" stroke="#100000" stroke-opacity="0.55" stroke-width="0.7"/>
<polygon points="364.7,167.0 371.5,167.0 368.1,172.6" fill="#ff0000" fill-opacity="0.5" stroke="#100000" stroke-opacity="0.55" stroke-width="0.7"/>
<polygon points="364.3,164.8 371.1,164.8 367.7,170.4" fill="#ff0000" fill-opacity="0.5" stroke="#100000" stroke-opacity="0.55" stroke-width="0.7"/>
<polygon points="364.2,164.6 371.0,164.6 367.6,170.2" fill="#ff0000" fill-opacity="0.5" stroke="#100000" stroke-opacity="0.55" stroke-width="0.7"/>
<polygon points="364.1,164.9 370.9,164.9 367.5,170.5" fill="#ff0000" fill-opacity="0.5" stroke="#100000" stroke-opacity="0.55" stroke-width="0.7"/>
<polygon points="366.0,166.1 372.8,166.1 369.4,171.7" fill="#ff0000" fill-opacity="0.5" stroke="#100000" stroke-opacity="0.55" stroke-width="0.7"/>
<polygon points="365.7,165.9 372.5,165.9 369.1,171.5" fill="#ff0000" fill-opacity="0.5" stroke="#100000" stroke-opacity="0.55" stroke-width="0.7"/>
<polygon points="365.3,164.1 372.1,164.1 368.7,169.7" fill="#ff0000" fill-opacity="0.5" stroke="#100000" stroke-opacity="0.55" stroke-width="0.7"/>
<polygon points="367.2,166.6 374.0,166.6 370.6,172.2" fill="#ff0000" fill-opacity="0.5" stroke="#100000" stroke-opacity="0.55" stroke-width="0.7"/>
<polygon points="366.2,164.7 373.0,164.7 369.6,170.3" fill="#ff0000" fill-opacity="0.5" stroke="#100000" stroke-opacity="0.55" stroke-width="0.7"/>
<polygon points="366.6,164.5 373.4,164.5 370.0,170.1" fill="#ff0000" fill-opacity="0.5" stroke="#100000" stroke-opacity="0.55" stroke-width="0.7"/>
<polygon points="369.1,164.8 375.9,164.8 372.5,170.5" fill="#ff0000" fill-opacity="0.5" stroke="#100000" stroke-opacity="0.55" stroke-width="0.7"/>
<polygon points="367.0,162.2 373.8,162.2 370.4,167.8" fill="#ff0000" fill-opacity="0.5" stroke="#100000" stroke-opacity="0.55" stroke-width="0.7"/>
<polygon points="367.3,161.9 374.1,161.9 370.7,167.5" fill="#ff0000" fill-opacity="0.5" stroke="#100000" stroke-opacity="0.55" stroke-width="0.7"/>
<polygon points="365.0,160.6 371.8,160.6 368.4,166.2" fill="#ff0000" fill-opacity="0.5" stroke="#100000" stroke-opacity="0.55" stroke-width="0.7"/>
<polygon points="368.3,164.6 375.1,164.6 371.7,170.2" fill="#ff0000" fill-opacity="0.5" stroke="#100000" stroke-opacity="0.55" stroke-width="0.7"/>
<polygon points="367.9,162.3 374.7,162.3 371.3,167.9" fill="#ff0000" fill-opacity="0.5" stroke="#100000" stroke-opacity="0.55" stroke-width="0.7"/>
<polygon points="370.1,163.4 376.9,163.4 373.5,169.1" fill="#ff0000" fill-opacity="0.5" stroke="#100000" stroke-opacity="0.55" stroke-width="0.7"/>
<polygon points="369.7,161.5 376.5,161.5 373.1,167.1" fill="#ff0000" fill-opacity="0.5" stroke="#100000" stroke-opacity="0.55" stroke-width="0.7"/>
<polygon points="370.4,162.2 377.2,162.2 373.8,167.8" fill="#ff0000" fill-opacity="0.5" stroke="#100000" stroke-opacity="0.55" stroke-width="0.7"/>
<polygon points="368.7,160.8 375.5,160.8 372.1,166.4" fill="#ff0000" fill-opacity="0.5" stroke="#100000" stroke-opacity="0.55" stroke-width="0.7"/>
<polygon points="370.3,161.0 377.1,161.0 373.7,166.6" fill="#ff0000" fill-opacity="0.5" stroke="#100000" stroke-opacity="0.55" stroke-width="0.7"/>
<polygon points="370.7,163.8 377.5,163.8 374.1,169.4" fill="#ff0000" fill-opacity="0.5" stroke="#100000" stroke-opacity="0.55" stroke-width="0.7"/>
<polygon points="374.3,162.9 381.1,162.9 377.7,168.5" fill="#ff0000" fill-opacity="0.5" stroke="#100000" stroke-opacity="0.55" stroke-width="0.7"/>
<polygon points="370.6,160.9 377.4,160.9 374.0,166.5" fill="#ff0000" fill-opacity="0.5" stroke="#100000" stroke-opacity="0.55" stroke-width="0.7"/>
<polygon points="371.1,162.3 377.9,162.3 374.5,167.9" fill="#ff0000" fill-opacity="0.5" stroke="#100000" stroke-opacity="0.55" stroke-width="0.7"/>
<polygon points="371.4,161.8 378.2,161.8 374.8,167.4" fill="#ff0000" fill-opacity="0.5" stroke="#100000" stroke-opacity="0.55" stroke-width="0.7"/>
<polygon points="374.9,161.0 381.7,161.0 378.3,166.6" fill="#ff0000" fill-opacity="0.5" stroke="#100000" stroke-opacity="0.55" stroke-width="0.7"/>
<polygon points="374.4,160.3 381.2,160.3 377.8,165.9" fill="#ff0000" fill-opacity="0.5" stroke="#100000" stroke-opacity="0.55" stroke-width="0.7"/>
<polygon points="372.2,162.5 379.0,162.5 375.6,168.1" fill="#ff0000" fill-opacity="0.5" stroke="#100000" stroke-opacity="0.55" stroke-width="0.7"/>
<polygon points="374.1,161.0 380.9,161.0 377.5,166.6" fill="#ff0000" fill-opacity="0.5" stroke="#100000" stroke-opacity="0.55" stroke-width="0.7"/>
<polygon points="374.5,161.7 381.3,161.7 377.9,167.3" fill="#ff0000" fill-opacity="0.5" stroke="#100000" stroke-opacity="0.55" stroke-width="0.7"/>
<polygon points="373.8,162.3 380.6,162.3 377.2,168.0" fill="#ff0000" fill-opacity="0.5" stroke="#100000" stroke-opacity="0.55" stroke-width="0.7"/>
<polygon points="374.9,161.9 381.7,161.9 378.3,167.6" fill="#ff0000" fill-opacity="0.5" stroke="#100000" stroke-opacity="0.55" stroke-width="0.7"/>
<polygon points="378.0,160.9 384.8,160.9 381.4,166.5" fill="#ff0000" fill-opacity="0.5" stroke="#100000" stroke-opacity="0.55" stroke-width="0.7"/>
<polygon points="376.7,161.8 383.5,161.8 380.1,167.4" fill="#ff0000" fill-opacity="0.5" stroke="#100000" stroke-opacity="0.55" stroke-width="0.7"/>
<polygon points="375.2,159.7 382.0,159.7 378.6,165.3" fill="#ff0000" fill-opacity="0.5" stroke="#100000" stroke-opacity="0.55" stroke-width="0.7"/>
<polygon points="376.6,159.8 383.4,159.8 380.0,165.4" fill="#ff0000" fill-opacity="0.5" stroke="#100000" stroke-opacity="0.55" stroke-width="0.7"/>
<polygon points="377.8,159.6 384.6,159.6 381.2,165.2" fill="#ff0000" fill-opacity="0.5" stroke="#100000" stroke-opacity="0.55" stroke-width="0.7"/>
<polygon points="378.1,160.0 384.9,160.0 381.5,165.6" fill="#ff0000" fill-opacity="0.5" stroke="#100000" stroke-opacity="0.55" stroke-width="0.7"/>
<polygon points="376.9,159.9 383.7,159.9 380.3,165.5" fill="#ff0000" fill-opacity="0.5" stroke="#100000" stroke-opacity="0.55" stroke-width="0.7"/>
<polygon points="378.5,159.8 385.3,159.8 381.9,165.4" fill="#ff0000" fill-opacity="0.5" stroke="#100000" stroke-opacity="0.55" stroke-width="0.7"/>
<polygon points="378.0,157.5 384.8,157.5 381.4,163.1" fill="#ff0000" fill-opacity="0.5" stroke="#100000" stroke-opacity="0.55" stroke-width="0.7"/>
<polygon points="378.6,162.8 385.4,162.8 382.0,168.5" fill="#ff0000" fill-opacity="0.5" stroke="#100000" stroke-opacity="0.55" stroke-width="0.7"/>
<polygon points="379.0,160.5 385.8,160.5 382.4,166.1" fill="#ff0000" fill-opacity="0.5" stroke="#100000" stroke-opacity="0.55" stroke-width="0.7"/>
<polygon points="380.5,161.0 387.3,161.0 383.9,166.6" fill="#ff0000" fill-opacity="0.5" stroke="#100000" stroke-opacity="0.55" stroke-width="0.7"/>
<polygon points="378.0,158.7 384.8,158.7 381.4,164.3" fill="#ff0000" fill-opacity="0.5" stroke="#100000" stroke-opacity="0.55" stroke-width="0.7"/>
<polygon points="378.6,158.1 385.4,158.1 382.0,163.7" fill="#ff0000" fill-opacity="0.5" stroke="#100000" stroke-opacity="0.55" stroke-width="0.7"/>
<polygon points="380.2,157.2 387.0,157.2 383.6,162.8" fill="#ff0000" fill-opacity="0.5" stroke="#100000" stroke-opacity="0.55" stroke-width="0.7"/>
<polygon points="380.5,157.8 387.3,157.8 383.9,163.4" fill="#ff0000" fill-opacity="0.5" stroke="#100000" stroke-opacity="0.55" stroke-width="0.7"/>
<polygon points="380.8,159.2 387.6,159.2 384.2,164.8" fill="#ff0000" fill-opacity="0.5" stroke="#100000" stroke-opacity="0.55" stroke-width="0.7"/>
<polygon points="381.6,157.2 388.4,157.2 385.0,162.9" fill="#ff0000" fill-opacity="0.5" stroke="#100000" stroke-opacity="0.55" stroke-width="0.7"/>
<polygon points="381.1,158.7 387.9,158.7 384.5,164.3" fill="#ff0000" fill-opacity="0.5" stroke="#100000" stroke-opacity="0.55" stroke-width="0.7"/>
<polygon points="382.1,158.1 388.9,158.1 385.5,163.7" fill="#ff0000" fill-opacity="0.5" stroke="#100000" stroke-opacity="0.55" stroke-width="0.7"/>
<polygon points="381.8,158.6 388.6,158.6 385.2,164.2" fill="#ff0000" fill-opacity="0.5" stroke="#100000" stroke-opacity="0.55" stroke-width="0.7"/>
<polygon points="384.0,159.2 390.8,159.2 387.4,164.8" fill="#ff0000" fill-opacity="0.5" stroke="#100000" stroke-opacity="0.55" stroke-width="0.7"/>
<polygon points="382.8,157.3 389.6,157.3 386.2,162.9" fill="#ff0000" fill-opacity="0.5" stroke="#100000" stroke-opacity="0.55" stroke-width="0.7"/>
<polygon points="382.9,158.3 389.7,158.3 386.3,163.9" fill="#ff0000" fill-opacity="0.5" stroke="#100000" stroke-opacity="0.55" stroke-width="0.7"/>
<line x1="72.0" y1="177.5" x2="506.0" y2="51.6" stroke="#b000b8" stroke-width="3.3" stroke-dasharray="6.2 5.12" stroke-dashoffset="1.1" clip-path="url(#cm)"/>
<line x1="72.0" y1="310.2" x2="506.0" y2="51.8" stroke="#0000e8" stroke-width="3.3" stroke-dasharray="6.2 5.12" stroke-dashoffset="1.1" clip-path="url(#cm)"/>
<line x1="72.0" y1="328.0" x2="506.0" y2="69.7" stroke="#007a00" stroke-width="3.3" stroke-dasharray="6.2 5.12" stroke-dashoffset="1.1" clip-path="url(#cm)"/>
<line x1="72.0" y1="343.9" x2="506.0" y2="89.8" stroke="#f40000" stroke-width="3.3" stroke-dasharray="6.2 5.12" stroke-dashoffset="1.1" clip-path="url(#cm)"/>
<rect x="343.4" y="217.0" width="135.60000000000002" height="101.60000000000002" fill="#fff"/>
<defs><clipPath id="ci"><rect x="343.4" y="217.0" width="135.60000000000002" height="101.60000000000002"/></clipPath></defs>
<text transform="translate(356.06,292.10) scale(1.0546,1)" font-family="'Liberation Serif','DejaVu Serif',serif" font-size="23.5" font-weight="bold" fill="#0000ff" stroke="#0000ff" stroke-width="0.45">S</text>
<text transform="translate(394.20,239.80) scale(1.0733,1)" font-family="'Liberation Serif','DejaVu Serif',serif" font-size="23.5" font-weight="bold" fill="#008000" stroke="#008000" stroke-width="0.45">M</text>
<text transform="translate(444.85,300.60) scale(0.9728,1)" font-family="'Liberation Serif','DejaVu Serif',serif" font-size="23.3" font-weight="bold" fill="#ff0000" stroke="#ff0000" stroke-width="0.45">L</text>
<g clip-path="url(#ci)">
<path d="M343,316.4 L360,316.4" stroke="#0d5f0d" stroke-width="4" fill="none"/>
<rect x="343.6" y="313.0" width="5.0" height="5.0" fill="#008000" fill-opacity="0.5" stroke="#002000" stroke-opacity="0.4" stroke-width="0.7"/>
<rect x="342.0" y="313.7" width="5.0" height="5.0" fill="#008000" fill-opacity="0.5" stroke="#002000" stroke-opacity="0.4" stroke-width="0.7"/>
<rect x="343.4" y="313.8" width="5.0" height="5.0" fill="#008000" fill-opacity="0.5" stroke="#002000" stroke-opacity="0.4" stroke-width="0.7"/>
<rect x="345.5" y="313.6" width="5.0" height="5.0" fill="#008000" fill-opacity="0.5" stroke="#002000" stroke-opacity="0.4" stroke-width="0.7"/>
<rect x="346.2" y="314.1" width="5.0" height="5.0" fill="#008000" fill-opacity="0.5" stroke="#002000" stroke-opacity="0.4" stroke-width="0.7"/>
<rect x="348.8" y="313.6" width="5.0" height="5.0" fill="#008000" fill-opacity="0.5" stroke="#002000" stroke-opacity="0.4" stroke-width="0.7"/>
<rect x="349.6" y="313.6" width="5.0" height="5.0" fill="#008000" fill-opacity="0.5" stroke="#002000" stroke-opacity="0.4" stroke-width="0.7"/>
<rect x="349.7" y="313.4" width="5.0" height="5.0" fill="#008000" fill-opacity="0.5" stroke="#002000" stroke-opacity="0.4" stroke-width="0.7"/>
<rect x="350.3" y="313.8" width="5.0" height="5.0" fill="#008000" fill-opacity="0.5" stroke="#002000" stroke-opacity="0.4" stroke-width="0.7"/>
<rect x="353.2" y="312.7" width="5.0" height="5.0" fill="#008000" fill-opacity="0.5" stroke="#002000" stroke-opacity="0.4" stroke-width="0.7"/>
<rect x="352.8" y="314.0" width="5.0" height="5.0" fill="#008000" fill-opacity="0.5" stroke="#002000" stroke-opacity="0.4" stroke-width="0.7"/>
<rect x="354.3" y="312.9" width="5.0" height="5.0" fill="#008000" fill-opacity="0.5" stroke="#002000" stroke-opacity="0.4" stroke-width="0.7"/>
<rect x="355.0" y="314.1" width="5.0" height="5.0" fill="#008000" fill-opacity="0.5" stroke="#002000" stroke-opacity="0.4" stroke-width="0.7"/>
<rect x="357.3" y="313.6" width="5.0" height="5.0" fill="#008000" fill-opacity="0.5" stroke="#002000" stroke-opacity="0.4" stroke-width="0.7"/>
<rect x="352.4" y="311.5" width="5.4" height="5.4" fill="#109010" fill-opacity="0.55" stroke="#003000" stroke-opacity="0.45" stroke-width="0.7"/>
<rect x="356.8" y="310.8" width="5.4" height="5.4" fill="#109010" fill-opacity="0.55" stroke="#003000" stroke-opacity="0.45" stroke-width="0.7"/>
<rect x="353.9" y="310.7" width="5.4" height="5.4" fill="#109010" fill-opacity="0.55" stroke="#003000" stroke-opacity="0.45" stroke-width="0.7"/>
<rect x="355.6" y="310.8" width="5.4" height="5.4" fill="#109010" fill-opacity="0.55" stroke="#003000" stroke-opacity="0.45" stroke-width="0.7"/>
<rect x="353.6" y="310.2" width="5.4" height="5.4" fill="#109010" fill-opacity="0.55" stroke="#003000" stroke-opacity="0.45" stroke-width="0.7"/>
<rect x="355.8" y="311.7" width="5.4" height="5.4" fill="#109010" fill-opacity="0.55" stroke="#003000" stroke-opacity="0.45" stroke-width="0.7"/>
<rect x="357.7" y="310.9" width="5.4" height="5.4" fill="#109010" fill-opacity="0.55" stroke="#003000" stroke-opacity="0.45" stroke-width="0.7"/>
<rect x="356.0" y="309.2" width="5.4" height="5.4" fill="#109010" fill-opacity="0.55" stroke="#003000" stroke-opacity="0.45" stroke-width="0.7"/>
<rect x="357.3" y="309.8" width="5.4" height="5.4" fill="#109010" fill-opacity="0.55" stroke="#003000" stroke-opacity="0.45" stroke-width="0.7"/>
<rect x="359.4" y="311.3" width="5.4" height="5.4" fill="#109010" fill-opacity="0.55" stroke="#003000" stroke-opacity="0.45" stroke-width="0.7"/>
<rect x="360.4" y="310.5" width="5.4" height="5.4" fill="#109010" fill-opacity="0.55" stroke="#003000" stroke-opacity="0.45" stroke-width="0.7"/>
<rect x="358.7" y="308.5" width="5.4" height="5.4" fill="#109010" fill-opacity="0.55" stroke="#003000" stroke-opacity="0.45" stroke-width="0.7"/>
<rect x="359.7" y="308.6" width="5.4" height="5.4" fill="#109010" fill-opacity="0.55" stroke="#003000" stroke-opacity="0.45" stroke-width="0.7"/>
<rect x="359.0" y="308.9" width="5.4" height="5.4" fill="#109010" fill-opacity="0.55" stroke="#003000" stroke-opacity="0.45" stroke-width="0.7"/>
<rect x="360.6" y="309.5" width="5.4" height="5.4" fill="#109010" fill-opacity="0.55" stroke="#003000" stroke-opacity="0.45" stroke-width="0.7"/>
<rect x="362.4" y="309.7" width="5.4" height="5.4" fill="#109010" fill-opacity="0.55" stroke="#003000" stroke-opacity="0.45" stroke-width="0.7"/>
<rect x="361.7" y="307.7" width="5.4" height="5.4" fill="#109010" fill-opacity="0.55" stroke="#003000" stroke-opacity="0.45" stroke-width="0.7"/>
<rect x="362.9" y="308.0" width="5.4" height="5.4" fill="#109010" fill-opacity="0.55" stroke="#003000" stroke-opacity="0.45" stroke-width="0.7"/>
<rect x="363.1" y="308.3" width="5.4" height="5.4" fill="#109010" fill-opacity="0.55" stroke="#003000" stroke-opacity="0.45" stroke-width="0.7"/>
<rect x="363.1" y="307.9" width="5.4" height="5.4" fill="#109010" fill-opacity="0.55" stroke="#003000" stroke-opacity="0.45" stroke-width="0.7"/>
<rect x="364.4" y="307.2" width="5.4" height="5.4" fill="#109010" fill-opacity="0.55" stroke="#003000" stroke-opacity="0.45" stroke-width="0.7"/>
<rect x="365.0" y="306.7" width="5.4" height="5.4" fill="#109010" fill-opacity="0.55" stroke="#003000" stroke-opacity="0.45" stroke-width="0.7"/>
<rect x="366.1" y="305.9" width="5.4" height="5.4" fill="#109010" fill-opacity="0.55" stroke="#003000" stroke-opacity="0.45" stroke-width="0.7"/>
<rect x="366.6" y="303.4" width="5.4" height="5.4" fill="#109010" fill-opacity="0.55" stroke="#003000" stroke-opacity="0.45" stroke-width="0.7"/>
<rect x="366.2" y="306.6" width="5.4" height="5.4" fill="#109010" fill-opacity="0.55" stroke="#003000" stroke-opacity="0.45" stroke-width="0.7"/>
<rect x="366.1" y="304.7" width="5.4" height="5.4" fill="#109010" fill-opacity="0.55" stroke="#003000" stroke-opacity="0.45" stroke-width="0.7"/>
<rect x="365.7" y="304.5" width="5.4" height="5.4" fill="#109010" fill-opacity="0.55" stroke="#003000" stroke-opacity="0.45" stroke-width="0.7"/>
<rect x="369.6" y="305.0" width="5.4" height="5.4" fill="#109010" fill-opacity="0.55" stroke="#003000" stroke-opacity="0.45" stroke-width="0.7"/>
<rect x="366.5" y="303.7" width="5.4" height="5.4" fill="#109010" fill-opacity="0.55" stroke="#003000" stroke-opacity="0.45" stroke-width="0.7"/>
<rect x="367.3" y="305.8" width="5.4" height="5.4" fill="#109010" fill-opacity="0.55" stroke="#003000" stroke-opacity="0.45" stroke-width="0.7"/>
<rect x="369.4" y="303.9" width="5.4" height="5.4" fill="#109010" fill-opacity="0.55" stroke="#003000" stroke-opacity="0.45" stroke-width="0.7"/>
<rect x="368.9" y="303.5" width="5.4" height="5.4" fill="#109010" fill-opacity="0.55" stroke="#003000" stroke-opacity="0.45" stroke-width="0.7"/>
<rect x="372.2" y="303.5" width="5.4" height="5.4" fill="#109010" fill-opacity="0.55" stroke="#003000" stroke-opacity="0.45" stroke-width="0.7"/>
<rect x="369.5" y="302.7" width="5.4" height="5.4" fill="#109010" fill-opacity="0.55" stroke="#003000" stroke-opacity="0.45" stroke-width="0.7"/>
<rect x="369.2" y="303.5" width="5.4" height="5.4" fill="#109010" fill-opacity="0.55" stroke="#003000" stroke-opacity="0.45" stroke-width="0.7"/>
<rect x="370.3" y="302.1" width="5.4" height="5.4" fill="#109010" fill-opacity="0.55" stroke="#003000" stroke-opacity="0.45" stroke-width="0.7"/>
<rect x="371.0" y="301.5" width="5.4" height="5.4" fill="#109010" fill-opacity="0.55" stroke="#003000" stroke-opacity="0.45" stroke-width="0.7"/>
<rect x="372.8" y="300.6" width="5.4" height="5.4" fill="#109010" fill-opacity="0.55" stroke="#003000" stroke-opacity="0.45" stroke-width="0.7"/>
<rect x="372.1" y="301.3" width="5.4" height="5.4" fill="#109010" fill-opacity="0.55" stroke="#003000" stroke-opacity="0.45" stroke-width="0.7"/>
<rect x="372.2" y="301.2" width="5.4" height="5.4" fill="#109010" fill-opacity="0.55" stroke="#003000" stroke-opacity="0.45" stroke-width="0.7"/>
<rect x="373.1" y="300.0" width="5.4" height="5.4" fill="#109010" fill-opacity="0.55" stroke="#003000" stroke-opacity="0.45" stroke-width="0.7"/>
<rect x="374.4" y="299.7" width="5.4" height="5.4" fill="#109010" fill-opacity="0.55" stroke="#003000" stroke-opacity="0.45" stroke-width="0.7"/>
<rect x="375.2" y="298.6" width="5.4" height="5.4" fill="#109010" fill-opacity="0.55" stroke="#003000" stroke-opacity="0.45" stroke-width="0.7"/>
<rect x="375.2" y="300.1" width="5.4" height="5.4" fill="#109010" fill-opacity="0.55" stroke="#003000" stroke-opacity="0.45" stroke-width="0.7"/>
<rect x="375.7" y="299.2" width="5.4" height="5.4" fill="#109010" fill-opacity="0.55" stroke="#003000" stroke-opacity="0.45" stroke-width="0.7"/>
<rect x="374.0" y="297.3" width="5.4" height="5.4" fill="#109010" fill-opacity="0.55" stroke="#003000" stroke-opacity="0.45" stroke-width="0.7"/>
<rect x="374.4" y="296.9" width="5.4" height="5.4" fill="#109010" fill-opacity="0.55" stroke="#003000" stroke-opacity="0.45" stroke-width="0.7"/>
<rect x="376.8" y="296.8" width="5.4" height="5.4" fill="#109010" fill-opacity="0.55" stroke="#003000" stroke-opacity="0.45" stroke-width="0.7"/>
<rect x="376.2" y="295.4" width="5.4" height="5.4" fill="#109010" fill-opacity="0.55" stroke="#003000" stroke-opacity="0.45" stroke-width="0.7"/>
<rect x="376.8" y="296.2" width="5.4" height="5.4" fill="#109010" fill-opacity="0.55" stroke="#003000" stroke-opacity="0.45" stroke-width="0.7"/>
<rect x="377.3" y="294.9" width="5.4" height="5.4" fill="#109010" fill-opacity="0.55" stroke="#003000" stroke-opacity="0.45" stroke-width="0.7"/>
<rect x="377.2" y="295.6" width="5.4" height="5.4" fill="#109010" fill-opacity="0.55" stroke="#003000" stroke-opacity="0.45" stroke-width="0.7"/>
<rect x="377.9" y="296.1" width="5.4" height="5.4" fill="#109010" fill-opacity="0.55" stroke="#003000" stroke-opacity="0.45" stroke-width="0.7"/>
<rect x="377.8" y="293.1" width="5.4" height="5.4" fill="#109010" fill-opacity="0.55" stroke="#003000" stroke-opacity="0.45" stroke-width="0.7"/>
<rect x="379.3" y="294.3" width="5.4" height="5.4" fill="#109010" fill-opacity="0.55" stroke="#003000" stroke-opacity="0.45" stroke-width="0.7"/>
<rect x="380.3" y="294.2" width="5.4" height="5.4" fill="#109010" fill-opacity="0.55" stroke="#003000" stroke-opacity="0.45" stroke-width="0.7"/>
<rect x="379.3" y="293.4" width="5.4" height="5.4" fill="#109010" fill-opacity="0.55" stroke="#003000" stroke-opacity="0.45" stroke-width="0.7"/>
<rect x="380.9" y="291.9" width="5.4" height="5.4" fill="#109010" fill-opacity="0.55" stroke="#003000" stroke-opacity="0.45" stroke-width="0.7"/>
<rect x="379.4" y="294.3" width="5.4" height="5.4" fill="#109010" fill-opacity="0.55" stroke="#003000" stroke-opacity="0.45" stroke-width="0.7"/>
<rect x="382.1" y="292.3" width="5.4" height="5.4" fill="#109010" fill-opacity="0.55" stroke="#003000" stroke-opacity="0.45" stroke-width="0.7"/>
<rect x="379.5" y="290.5" width="5.4" height="5.4" fill="#109010" fill-opacity="0.55" stroke="#003000" stroke-opacity="0.45" stroke-width="0.7"/>
<rect x="381.8" y="292.1" width="5.4" height="5.4" fill="#109010" fill-opacity="0.55" stroke="#003000" stroke-opacity="0.45" stroke-width="0.7"/>
<rect x="383.0" y="290.2" width="5.4" height="5.4" fill="#109010" fill-opacity="0.55" stroke="#003000" stroke-opacity="0.45" stroke-width="0.7"/>
<rect x="382.5" y="290.9" width="5.4" height="5.4" fill="#109010" fill-opacity="0.55" stroke="#003000" stroke-opacity="0.45" stroke-width="0.7"/>
<rect x="382.8" y="288.8" width="5.4" height="5.4" fill="#109010" fill-opacity="0.55" stroke="#003000" stroke-opacity="0.45" stroke-width="0.7"/>
<rect x="383.3" y="289.1" width="5.4" height="5.4" fill="#109010" fill-opacity="0.55" stroke="#003000" stroke-opacity="0.45" stroke-width="0.7"/>
<rect x="384.1" y="288.4" width="5.4" height="5.4" fill="#109010" fill-opacity="0.55" stroke="#003000" stroke-opacity="0.45" stroke-width="0.7"/>
<rect x="385.4" y="287.7" width="5.4" height="5.4" fill="#109010" fill-opacity="0.55" stroke="#003000" stroke-opacity="0.45" stroke-width="0.7"/>
<rect x="382.7" y="287.3" width="5.4" height="5.4" fill="#109010" fill-opacity="0.55" stroke="#003000" stroke-opacity="0.45" stroke-width="0.7"/>
<rect x="385.3" y="289.5" width="5.4" height="5.4" fill="#109010" fill-opacity="0.55" stroke="#003000" stroke-opacity="0.45" stroke-width="0.7"/>
<rect x="384.8" y="286.4" width="5.4" height="5.4" fill="#109010" fill-opacity="0.55" stroke="#003000" stroke-opacity="0.45" stroke-width="0.7"/>
<rect x="385.0" y="287.3" width="5.4" height="5.4" fill="#109010" fill-opacity="0.55" stroke="#003000" stroke-opacity="0.45" stroke-width="0.7"/>
<rect x="386.2" y="285.6" width="5.4" height="5.4" fill="#109010" fill-opacity="0.55" stroke="#003000" stroke-opacity="0.45" stroke-width="0.7"/>
<rect x="386.4" y="288.0" width="5.4" height="5.4" fill="#109010" fill-opacity="0.55" stroke="#003000" stroke-opacity="0.45" stroke-width="0.7"/>
<rect x="386.7" y="285.3" width="5.4" height="5.4" fill="#109010" fill-opacity="0.55" stroke="#003000" stroke-opacity="0.45" stroke-width="0.7"/>
<rect x="386.1" y="282.7" width="5.4" height="5.4" fill="#109010" fill-opacity="0.55" stroke="#003000" stroke-opacity="0.45" stroke-width="0.7"/>
<rect x="384.9" y="285.3" width="5.4" height="5.4" fill="#109010" fill-opacity="0.55" stroke="#003000" stroke-opacity="0.45" stroke-width="0.7"/>
<rect x="387.8" y="285.5" width="5.4" height="5.4" fill="#109010" fill-opacity="0.55" stroke="#003000" stroke-opacity="0.45" stroke-width="0.7"/>
<rect x="386.1" y="282.8" width="5.4" height="5.4" fill="#109010" fill-opacity="0.55" stroke="#003000" stroke-opacity="0.45" stroke-width="0.7"/>
<rect x="387.9" y="281.8" width="5.4" height="5.4" fill="#109010" fill-opacity="0.55" stroke="#003000" stroke-opacity="0.45" stroke-width="0.7"/>
<rect x="388.9" y="280.7" width="5.4" height="5.4" fill="#109010" fill-opacity="0.55" stroke="#003000" stroke-opacity="0.45" stroke-width="0.7"/>
<rect x="390.1" y="280.8" width="5.4" height="5.4" fill="#109010" fill-opacity="0.55" stroke="#003000" stroke-opacity="0.45" stroke-width="0.7"/>
<rect x="390.4" y="281.8" width="5.4" height="5.4" fill="#109010" fill-opacity="0.55" stroke="#003000" stroke-opacity="0.45" stroke-width="0.7"/>
<rect x="388.6" y="279.3" width="5.4" height="5.4" fill="#109010" fill-opacity="0.55" stroke="#003000" stroke-opacity="0.45" stroke-width="0.7"/>
<rect x="388.7" y="280.2" width="5.4" height="5.4" fill="#109010" fill-opacity="0.55" stroke="#003000" stroke-opacity="0.45" stroke-width="0.7"/>
<rect x="390.8" y="279.2" width="5.4" height="5.4" fill="#109010" fill-opacity="0.55" stroke="#003000" stroke-opacity="0.45" stroke-width="0.7"/>
<rect x="390.7" y="278.3" width="5.4" height="5.4" fill="#109010" fill-opacity="0.55" stroke="#003000" stroke-opacity="0.45" stroke-width="0.7"/>
<rect x="390.1" y="278.6" width="5.4" height="5.4" fill="#109010" fill-opacity="0.55" stroke="#003000" stroke-opacity="0.45" stroke-width="0.7"/>
<rect x="392.8" y="277.0" width="5.4" height="5.4" fill="#109010" fill-opacity="0.55" stroke="#003000" stroke-opacity="0.45" stroke-width="0.7"/>
<rect x="389.6" y="277.7" width="5.4" height="5.4" fill="#109010" fill-opacity="0.55" stroke="#003000" stroke-opacity="0.45" stroke-width="0.7"/>
<rect x="391.2" y="278.2" width="5.4" height="5.4" fill="#109010" fill-opacity="0.55" stroke="#003000" stroke-opacity="0.45" stroke-width="0.7"/>
<rect x="391.7" y="277.9" width="5.4" height="5.4" fill="#109010" fill-opacity="0.55" stroke="#003000" stroke-opacity="0.45" stroke-width="0.7"/>
<rect x="393.1" y="275.2" width="5.4" height="5.4" fill="#109010" fill-opacity="0.55" stroke="#003000" stroke-opacity="0.45" stroke-width="0.7"/>
<rect x="390.7" y="276.9" width="5.4" height="5.4" fill="#109010" fill-opacity="0.55" stroke="#003000" stroke-opacity="0.45" stroke-width="0.7"/>
<rect x="391.6" y="274.0" width="5.4" height="5.4" fill="#109010" fill-opacity="0.55" stroke="#003000" stroke-opacity="0.45" stroke-width="0.7"/>
<rect x="393.0" y="275.3" width="5.4" height="5.4" fill="#109010" fill-opacity="0.55" stroke="#003000" stroke-opacity="0.45" stroke-width="0.7"/>
<rect x="393.0" y="274.9" width="5.4" height="5.4" fill="#109010" fill-opacity="0.55" stroke="#003000" stroke-opacity="0.45" stroke-width="0.7"/>
<rect x="395.1" y="272.8" width="5.4" height="5.4" fill="#109010" fill-opacity="0.55" stroke="#003000" stroke-opacity="0.45" stroke-width="0.7"/>
<rect x="394.0" y="271.6" width="5.4" height="5.4" fill="#109010" fill-opacity="0.55" stroke="#003000" stroke-opacity="0.45" stroke-width="0.7"/>
<rect x="393.1" y="271.0" width="5.4" height="5.4" fill="#109010" fill-opacity="0.55" stroke="#003000" stroke-opacity="0.45" stroke-width="0.7"/>
<rect x="394.7" y="270.9" width="5.4" height="5.4" fill="#109010" fill-opacity="0.55" stroke="#003000" stroke-opacity="0.45" stroke-width="0.7"/>
<rect x="394.8" y="271.2" width="5.4" height="5.4" fill="#109010" fill-opacity="0.55" stroke="#003000" stroke-opacity="0.45" stroke-width="0.7"/>
<rect x="394.9" y="269.2" width="5.4" height="5.4" fill="#109010" fill-opacity="0.55" stroke="#003000" stroke-opacity="0.45" stroke-width="0.7"/>
<rect x="395.0" y="269.7" width="5.4" height="5.4" fill="#109010" fill-opacity="0.55" stroke="#003000" stroke-opacity="0.45" stroke-width="0.7"/>
<rect x="395.5" y="269.9" width="5.4" height="5.4" fill="#109010" fill-opacity="0.55" stroke="#003000" stroke-opacity="0.45" stroke-width="0.7"/>
<rect x="394.5" y="269.6" width="5.4" height="5.4" fill="#109010" fill-opacity="0.55" stroke="#003000" stroke-opacity="0.45" stroke-width="0.7"/>
<rect x="396.2" y="268.8" width="5.4" height="5.4" fill="#109010" fill-opacity="0.55" stroke="#003000" stroke-opacity="0.45" stroke-width="0.7"/>
<rect x="396.3" y="269.0" width="5.4" height="5.4" fill="#109010" fill-opacity="0.55" stroke="#003000" stroke-opacity="0.45" stroke-width="0.7"/>
<rect x="396.0" y="267.5" width="5.4" height="5.4" fill="#109010" fill-opacity="0.55" stroke="#003000" stroke-opacity="0.45" stroke-width="0.7"/>
<rect x="396.8" y="268.0" width="5.4" height="5.4" fill="#109010" fill-opacity="0.55" stroke="#003000" stroke-opacity="0.45" stroke-width="0.7"/>
<rect x="394.1" y="268.0" width="5.4" height="5.4" fill="#109010" fill-opacity="0.55" stroke="#003000" stroke-opacity="0.45" stroke-width="0.7"/>
<rect x="397.0" y="266.9" width="5.4" height="5.4" fill="#109010" fill-opacity="0.55" stroke="#003000" stroke-opacity="0.45" stroke-width="0.7"/>
<rect x="397.6" y="263.9" width="5.4" height="5.4" fill="#109010" fill-opacity="0.55" stroke="#003000" stroke-opacity="0.45" stroke-width="0.7"/>
<rect x="395.9" y="262.8" width="5.4" height="5.4" fill="#109010" fill-opacity="0.55" stroke="#003000" stroke-opacity="0.45" stroke-width="0.7"/>
<rect x="399.1" y="262.8" width="5.4" height="5.4" fill="#109010" fill-opacity="0.55" stroke="#003000" stroke-opacity="0.45" stroke-width="0.7"/>
<rect x="398.5" y="262.9" width="5.4" height="5.4" fill="#109010" fill-opacity="0.55" stroke="#003000" stroke-opacity="0.45" stroke-width="0.7"/>
<rect x="398.8" y="263.9" width="5.4" height="5.4" fill="#109010" fill-opacity="0.55" stroke="#003000" stroke-opacity="0.45" stroke-width="0.7"/>
<rect x="398.8" y="262.3" width="5.4" height="5.4" fill="#109010" fill-opacity="0.55" stroke="#003000" stroke-opacity="0.45" stroke-width="0.7"/>
<rect x="397.0" y="263.8" width="5.4" height="5.4" fill="#109010" fill-opacity="0.55" stroke="#003000" stroke-opacity="0.45" stroke-width="0.7"/>
<rect x="399.8" y="263.5" width="5.4" height="5.4" fill="#109010" fill-opacity="0.55" stroke="#003000" stroke-opacity="0.45" stroke-width="0.7"/>
<rect x="407.1" y="256.1" width="5.4" height="5.4" fill="#109010" fill-opacity="0.55" stroke="#003000" stroke-opacity="0.45" stroke-width="0.7"/>
<rect x="404.4" y="259.0" width="5.4" height="5.4" fill="#109010" fill-opacity="0.55" stroke="#003000" stroke-opacity="0.45" stroke-width="0.7"/>
<rect x="405.6" y="250.7" width="5.4" height="5.4" fill="#109010" fill-opacity="0.55" stroke="#003000" stroke-opacity="0.45" stroke-width="0.7"/>
<rect x="403.3" y="250.6" width="5.4" height="5.4" fill="#109010" fill-opacity="0.55" stroke="#003000" stroke-opacity="0.45" stroke-width="0.7"/>
<rect x="402.4" y="256.3" width="5.4" height="5.4" fill="#109010" fill-opacity="0.55" stroke="#003000" stroke-opacity="0.45" stroke-width="0.7"/>
<rect x="405.0" y="250.5" width="5.4" height="5.4" fill="#109010" fill-opacity="0.55" stroke="#003000" stroke-opacity="0.45" stroke-width="0.7"/>
<rect x="400.0" y="256.4" width="5.4" height="5.4" fill="#109010" fill-opacity="0.55" stroke="#003000" stroke-opacity="0.45" stroke-width="0.7"/>
<rect x="405.6" y="258.6" width="5.4" height="5.4" fill="#109010" fill-opacity="0.55" stroke="#003000" stroke-opacity="0.45" stroke-width="0.7"/>
<rect x="405.2" y="245.5" width="5.4" height="5.4" fill="#109010" fill-opacity="0.55" stroke="#003000" stroke-opacity="0.45" stroke-width="0.7"/>
<rect x="411.1" y="248.5" width="5.4" height="5.4" fill="#109010" fill-opacity="0.55" stroke="#003000" stroke-opacity="0.45" stroke-width="0.7"/>
<rect x="408.6" y="253.2" width="5.4" height="5.4" fill="#109010" fill-opacity="0.55" stroke="#003000" stroke-opacity="0.45" stroke-width="0.7"/>
<rect x="404.7" y="253.9" width="5.4" height="5.4" fill="#109010" fill-opacity="0.55" stroke="#003000" stroke-opacity="0.45" stroke-width="0.7"/>
<rect x="397.4" y="259.9" width="5.4" height="5.4" fill="#109010" fill-opacity="0.55" stroke="#003000" stroke-opacity="0.45" stroke-width="0.7"/>
<rect x="408.5" y="250.5" width="5.4" height="5.4" fill="#109010" fill-opacity="0.55" stroke="#003000" stroke-opacity="0.45" stroke-width="0.7"/>
<rect x="404.9" y="248.3" width="5.4" height="5.4" fill="#109010" fill-opacity="0.55" stroke="#003000" stroke-opacity="0.45" stroke-width="0.7"/>
<rect x="398.5" y="254.4" width="5.4" height="5.4" fill="#109010" fill-opacity="0.55" stroke="#003000" stroke-opacity="0.45" stroke-width="0.7"/>
<rect x="400.5" y="256.6" width="5.4" height="5.4" fill="#109010" fill-opacity="0.55" stroke="#003000" stroke-opacity="0.45" stroke-width="0.7"/>
<rect x="409.4" y="252.1" width="5.4" height="5.4" fill="#109010" fill-opacity="0.55" stroke="#003000" stroke-opacity="0.45" stroke-width="0.7"/>
<rect x="403.5" y="250.5" width="5.4" height="5.4" fill="#109010" fill-opacity="0.55" stroke="#003000" stroke-opacity="0.45" stroke-width="0.7"/>
<rect x="408.5" y="244.7" width="5.4" height="5.4" fill="#109010" fill-opacity="0.55" stroke="#003000" stroke-opacity="0.45" stroke-width="0.7"/>
<rect x="405.0" y="249.9" width="5.4" height="5.4" fill="#109010" fill-opacity="0.55" stroke="#003000" stroke-opacity="0.45" stroke-width="0.7"/>
<rect x="406.4" y="255.0" width="5.4" height="5.4" fill="#109010" fill-opacity="0.55" stroke="#003000" stroke-opacity="0.45" stroke-width="0.7"/>
<rect x="397.8" y="257.1" width="5.4" height="5.4" fill="#109010" fill-opacity="0.55" stroke="#003000" stroke-opacity="0.45" stroke-width="0.7"/>
<rect x="399.4" y="261.7" width="5.4" height="5.4" fill="#109010" fill-opacity="0.55" stroke="#003000" stroke-opacity="0.45" stroke-width="0.7"/>
<rect x="408.3" y="249.6" width="5.4" height="5.4" fill="#109010" fill-opacity="0.55" stroke="#003000" stroke-opacity="0.45" stroke-width="0.7"/>
<rect x="405.9" y="257.4" width="5.4" height="5.4" fill="#109010" fill-opacity="0.55" stroke="#003000" stroke-opacity="0.45" stroke-width="0.7"/>
<rect x="400.0" y="259.8" width="5.4" height="5.4" fill="#109010" fill-opacity="0.55" stroke="#003000" stroke-opacity="0.45" stroke-width="0.7"/>
<rect x="406.1" y="246.1" width="5.4" height="5.4" fill="#109010" fill-opacity="0.55" stroke="#003000" stroke-opacity="0.45" stroke-width="0.7"/>
<rect x="398.6" y="254.5" width="5.4" height="5.4" fill="#109010" fill-opacity="0.55" stroke="#003000" stroke-opacity="0.45" stroke-width="0.7"/>
<rect x="405.4" y="246.1" width="5.4" height="5.4" fill="#109010" fill-opacity="0.55" stroke="#003000" stroke-opacity="0.45" stroke-width="0.7"/>
<rect x="398.6" y="260.8" width="5.4" height="5.4" fill="#109010" fill-opacity="0.55" stroke="#003000" stroke-opacity="0.45" stroke-width="0.7"/>
<rect x="402.2" y="262.1" width="5.4" height="5.4" fill="#109010" fill-opacity="0.55" stroke="#003000" stroke-opacity="0.45" stroke-width="0.7"/>
<rect x="410.1" y="252.4" width="5.4" height="5.4" fill="#109010" fill-opacity="0.55" stroke="#003000" stroke-opacity="0.45" stroke-width="0.7"/>
<rect x="399.2" y="262.0" width="5.4" height="5.4" fill="#109010" fill-opacity="0.55" stroke="#003000" stroke-opacity="0.45" stroke-width="0.7"/>
<rect x="406.1" y="245.0" width="5.4" height="5.4" fill="#109010" fill-opacity="0.55" stroke="#003000" stroke-opacity="0.45" stroke-width="0.7"/>
<rect x="399.1" y="253.3" width="5.4" height="5.4" fill="#109010" fill-opacity="0.55" stroke="#003000" stroke-opacity="0.45" stroke-width="0.7"/>
<rect x="398.0" y="262.7" width="5.4" height="5.4" fill="#109010" fill-opacity="0.55" stroke="#003000" stroke-opacity="0.45" stroke-width="0.7"/>
<rect x="405.4" y="257.5" width="5.4" height="5.4" fill="#109010" fill-opacity="0.55" stroke="#003000" stroke-opacity="0.45" stroke-width="0.7"/>
<rect x="406.2" y="259.0" width="5.4" height="5.4" fill="#109010" fill-opacity="0.55" stroke="#003000" stroke-opacity="0.45" stroke-width="0.7"/>
<rect x="406.9" y="258.1" width="5.4" height="5.4" fill="#109010" fill-opacity="0.55" stroke="#003000" stroke-opacity="0.45" stroke-width="0.7"/>
<rect x="403.0" y="254.5" width="5.4" height="5.4" fill="#109010" fill-opacity="0.55" stroke="#003000" stroke-opacity="0.45" stroke-width="0.7"/>
<rect x="403.9" y="247.9" width="5.4" height="5.4" fill="#109010" fill-opacity="0.55" stroke="#003000" stroke-opacity="0.45" stroke-width="0.7"/>
<rect x="405.1" y="253.1" width="5.4" height="5.4" fill="#109010" fill-opacity="0.55" stroke="#003000" stroke-opacity="0.45" stroke-width="0.7"/>
<rect x="407.2" y="245.1" width="5.4" height="5.4" fill="#109010" fill-opacity="0.55" stroke="#003000" stroke-opacity="0.45" stroke-width="0.7"/>
<rect x="405.6" y="251.1" width="5.4" height="5.4" fill="#109010" fill-opacity="0.55" stroke="#003000" stroke-opacity="0.45" stroke-width="0.7"/>
<rect x="402.1" y="260.4" width="5.4" height="5.4" fill="#109010" fill-opacity="0.55" stroke="#003000" stroke-opacity="0.45" stroke-width="0.7"/>
<rect x="407.7" y="258.5" width="5.4" height="5.4" fill="#109010" fill-opacity="0.55" stroke="#003000" stroke-opacity="0.45" stroke-width="0.7"/>
<rect x="410.0" y="253.6" width="5.4" height="5.4" fill="#109010" fill-opacity="0.55" stroke="#003000" stroke-opacity="0.45" stroke-width="0.7"/>
<rect x="405.6" y="250.8" width="5.4" height="5.4" fill="#109010" fill-opacity="0.55" stroke="#003000" stroke-opacity="0.45" stroke-width="0.7"/>
<rect x="399.0" y="258.6" width="5.4" height="5.4" fill="#109010" fill-opacity="0.55" stroke="#003000" stroke-opacity="0.45" stroke-width="0.7"/>
<rect x="403.3" y="252.9" width="5.4" height="5.4" fill="#109010" fill-opacity="0.55" stroke="#003000" stroke-opacity="0.45" stroke-width="0.7"/>
<rect x="406.4" y="248.5" width="5.4" height="5.4" fill="#109010" fill-opacity="0.55" stroke="#003000" stroke-opacity="0.45" stroke-width="0.7"/>
<rect x="404.8" y="249.2" width="5.4" height="5.4" fill="#109010" fill-opacity="0.55" stroke="#003000" stroke-opacity="0.45" stroke-width="0.7"/>
<rect x="401.0" y="252.9" width="5.4" height="5.4" fill="#109010" fill-opacity="0.55" stroke="#003000" stroke-opacity="0.45" stroke-width="0.7"/>
<rect x="404.6" y="246.6" width="5.4" height="5.4" fill="#109010" fill-opacity="0.55" stroke="#003000" stroke-opacity="0.45" stroke-width="0.7"/>
<rect x="402.8" y="254.4" width="5.4" height="5.4" fill="#109010" fill-opacity="0.55" stroke="#003000" stroke-opacity="0.45" stroke-width="0.7"/>
<rect x="400.1" y="263.6" width="5.4" height="5.4" fill="#109010" fill-opacity="0.55" stroke="#003000" stroke-opacity="0.45" stroke-width="0.7"/>
<rect x="400.5" y="251.4" width="5.4" height="5.4" fill="#109010" fill-opacity="0.55" stroke="#003000" stroke-opacity="0.45" stroke-width="0.7"/>
<rect x="407.5" y="249.7" width="5.4" height="5.4" fill="#109010" fill-opacity="0.55" stroke="#003000" stroke-opacity="0.45" stroke-width="0.7"/>
<rect x="403.7" y="262.2" width="5.4" height="5.4" fill="#109010" fill-opacity="0.55" stroke="#003000" stroke-opacity="0.45" stroke-width="0.7"/>
<rect x="405.4" y="261.9" width="5.4" height="5.4" fill="#109010" fill-opacity="0.55" stroke="#003000" stroke-opacity="0.45" stroke-width="0.7"/>
<rect x="398.7" y="255.7" width="5.4" height="5.4" fill="#109010" fill-opacity="0.55" stroke="#003000" stroke-opacity="0.45" stroke-width="0.7"/>
<rect x="406.8" y="250.4" width="5.4" height="5.4" fill="#109010" fill-opacity="0.55" stroke="#003000" stroke-opacity="0.45" stroke-width="0.7"/>
<rect x="401.6" y="252.3" width="5.4" height="5.4" fill="#109010" fill-opacity="0.55" stroke="#003000" stroke-opacity="0.45" stroke-width="0.7"/>
<rect x="404.4" y="252.0" width="5.4" height="5.4" fill="#109010" fill-opacity="0.55" stroke="#003000" stroke-opacity="0.45" stroke-width="0.7"/>
<rect x="406.7" y="254.0" width="5.4" height="5.4" fill="#109010" fill-opacity="0.55" stroke="#003000" stroke-opacity="0.45" stroke-width="0.7"/>
<rect x="403.5" y="253.3" width="5.4" height="5.4" fill="#109010" fill-opacity="0.55" stroke="#003000" stroke-opacity="0.45" stroke-width="0.7"/>
<rect x="403.4" y="246.8" width="5.4" height="5.4" fill="#109010" fill-opacity="0.55" stroke="#003000" stroke-opacity="0.45" stroke-width="0.7"/>
<rect x="406.4" y="247.5" width="5.4" height="5.4" fill="#109010" fill-opacity="0.55" stroke="#003000" stroke-opacity="0.45" stroke-width="0.7"/>
<rect x="405.9" y="259.9" width="5.4" height="5.4" fill="#109010" fill-opacity="0.55" stroke="#003000" stroke-opacity="0.45" stroke-width="0.7"/>
<rect x="403.7" y="259.0" width="5.4" height="5.4" fill="#109010" fill-opacity="0.55" stroke="#003000" stroke-opacity="0.45" stroke-width="0.7"/>
<rect x="399.6" y="264.1" width="5.4" height="5.4" fill="#109010" fill-opacity="0.55" stroke="#003000" stroke-opacity="0.45" stroke-width="0.7"/>
<rect x="403.7" y="251.1" width="5.4" height="5.4" fill="#109010" fill-opacity="0.55" stroke="#003000" stroke-opacity="0.45" stroke-width="0.7"/>
<rect x="402.4" y="262.2" width="5.4" height="5.4" fill="#109010" fill-opacity="0.55" stroke="#003000" stroke-opacity="0.45" stroke-width="0.7"/>
<rect x="403.7" y="253.6" width="5.4" height="5.4" fill="#109010" fill-opacity="0.55" stroke="#003000" stroke-opacity="0.45" stroke-width="0.7"/>
<rect x="405.4" y="248.2" width="5.4" height="5.4" fill="#109010" fill-opacity="0.55" stroke="#003000" stroke-opacity="0.45" stroke-width="0.7"/>
<rect x="407.2" y="246.5" width="5.4" height="5.4" fill="#109010" fill-opacity="0.55" stroke="#003000" stroke-opacity="0.45" stroke-width="0.7"/>
<rect x="408.3" y="255.3" width="5.4" height="5.4" fill="#109010" fill-opacity="0.55" stroke="#003000" stroke-opacity="0.45" stroke-width="0.7"/>
<rect x="407.6" y="253.7" width="5.4" height="5.4" fill="#109010" fill-opacity="0.55" stroke="#003000" stroke-opacity="0.45" stroke-width="0.7"/>
<rect x="397.7" y="257.5" width="5.4" height="5.4" fill="#109010" fill-opacity="0.55" stroke="#003000" stroke-opacity="0.45" stroke-width="0.7"/>
<rect x="409.0" y="267.3" width="5.4" height="5.4" fill="#008000" fill-opacity="0.35" stroke="#003000" stroke-opacity="0.4" stroke-width="0.7"/>
<path d="M347.5,315.4 C351,314.9 357,313.6 361,311.8 C365,310 368.3,306 369.4,302.7 C370.5,299 370.6,295.5 368.3,293.9 C366,292.7 363,293.9 361.6,296.1 C359.5,299.5 357,305 354.4,307.9 C351.5,311 349.5,313.2 347.5,314.4 Z" fill="#0000b4" stroke="#000060" stroke-width="0.6"/>
<circle cx="366.5" cy="296.5" r="2.8" fill="#0000d0" fill-opacity="0.5" stroke="#000040" stroke-opacity="0.5" stroke-width="0.7"/>
<circle cx="365.5" cy="301.0" r="3.0" fill="#0000d0" fill-opacity="0.5" stroke="#000040" stroke-opacity="0.5" stroke-width="0.7"/>
<circle cx="363.0" cy="305.5" r="2.8" fill="#0000d0" fill-opacity="0.5" stroke="#000040" stroke-opacity="0.5" stroke-width="0.7"/>
<circle cx="359.0" cy="309.5" r="2.6" fill="#0000d0" fill-opacity="0.5" stroke="#000040" stroke-opacity="0.5" stroke-width="0.7"/>
<circle cx="354.0" cy="312.0" r="2.3" fill="#0000d0" fill-opacity="0.5" stroke="#000040" stroke-opacity="0.5" stroke-width="0.7"/>
<circle cx="350.5" cy="313.8" r="1.7" fill="#0000d0" fill-opacity="0.5" stroke="#000040" stroke-opacity="0.5" stroke-width="0.7"/>
<polygon points="354.4,315.7 360.4,315.7 357.4,320.7" fill="#c00000" fill-opacity="0.55" stroke="#200000" stroke-opacity="0.6" stroke-width="0.6"/>
<polygon points="355.8,314.8 361.8,314.8 358.8,319.7" fill="#c00000" fill-opacity="0.55" stroke="#200000" stroke-opacity="0.6" stroke-width="0.6"/>
<polygon points="356.3,315.7 362.3,315.7 359.3,320.6" fill="#c00000" fill-opacity="0.55" stroke="#200000" stroke-opacity="0.6" stroke-width="0.6"/>
<polygon points="357.7,314.0 363.7,314.0 360.7,319.0" fill="#c00000" fill-opacity="0.55" stroke="#200000" stroke-opacity="0.6" stroke-width="0.6"/>
<polygon points="356.1,314.4 362.1,314.4 359.1,319.4" fill="#c00000" fill-opacity="0.55" stroke="#200000" stroke-opacity="0.6" stroke-width="0.6"/>
<polygon points="358.4,314.2 364.4,314.2 361.4,319.2" fill="#c00000" fill-opacity="0.55" stroke="#200000" stroke-opacity="0.6" stroke-width="0.6"/>
<polygon points="359.7,313.2 365.7,313.2 362.7,318.1" fill="#c00000" fill-opacity="0.55" stroke="#200000" stroke-opacity="0.6" stroke-width="0.6"/>
<polygon points="358.8,314.6 364.8,314.6 361.8,319.6" fill="#c00000" fill-opacity="0.55" stroke="#200000" stroke-opacity="0.6" stroke-width="0.6"/>
<polygon points="361.7,314.6 367.7,314.6 364.7,319.6" fill="#c00000" fill-opacity="0.55" stroke="#200000" stroke-opacity="0.6" stroke-width="0.6"/>
<polygon points="360.3,313.8 366.3,313.8 363.3,318.7" fill="#c00000" fill-opacity="0.55" stroke="#200000" stroke-opacity="0.6" stroke-width="0.6"/>
<polygon points="360.6,314.3 366.6,314.3 363.6,319.2" fill="#c00000" fill-opacity="0.55" stroke="#200000" stroke-opacity="0.6" stroke-width="0.6"/>
<polygon points="360.4,313.3 366.4,313.3 363.4,318.2" fill="#c00000" fill-opacity="0.55" stroke="#200000" stroke-opacity="0.6" stroke-width="0.6"/>
<polygon points="361.8,313.3 367.8,313.3 364.8,318.2" fill="#c00000" fill-opacity="0.55" stroke="#200000" stroke-opacity="0.6" stroke-width="0.6"/>
<polygon points="361.1,313.9 367.1,313.9 364.1,318.9" fill="#c00000" fill-opacity="0.55" stroke="#200000" stroke-opacity="0.6" stroke-width="0.6"/>
<polygon points="363.5,312.8 369.5,312.8 366.5,317.8" fill="#c00000" fill-opacity="0.55" stroke="#200000" stroke-opacity="0.6" stroke-width="0.6"/>
<polygon points="364.8,311.5 370.8,311.5 367.8,316.4" fill="#c00000" fill-opacity="0.55" stroke="#200000" stroke-opacity="0.6" stroke-width="0.6"/>
<polygon points="362.6,312.0 368.6,312.0 365.6,316.9" fill="#c00000" fill-opacity="0.55" stroke="#200000" stroke-opacity="0.6" stroke-width="0.6"/>
<polygon points="364.8,312.2 370.8,312.2 367.8,317.1" fill="#c00000" fill-opacity="0.55" stroke="#200000" stroke-opacity="0.6" stroke-width="0.6"/>
<polygon points="366.5,311.2 372.5,311.2 369.5,316.2" fill="#c00000" fill-opacity="0.55" stroke="#200000" stroke-opacity="0.6" stroke-width="0.6"/>
<polygon points="364.6,312.4 370.6,312.4 367.6,317.4" fill="#c00000" fill-opacity="0.55" stroke="#200000" stroke-opacity="0.6" stroke-width="0.6"/>
<polygon points="367.3,311.8 373.3,311.8 370.3,316.7" fill="#c00000" fill-opacity="0.55" stroke="#200000" stroke-opacity="0.6" stroke-width="0.6"/>
<polygon points="367.3,310.2 373.3,310.2 370.3,315.1" fill="#c00000" fill-opacity="0.55" stroke="#200000" stroke-opacity="0.6" stroke-width="0.6"/>
<polygon points="367.1,311.2 373.1,311.2 370.1,316.2" fill="#c00000" fill-opacity="0.55" stroke="#200000" stroke-opacity="0.6" stroke-width="0.6"/>
<polygon points="369.0,311.8 375.0,311.8 372.0,316.7" fill="#c00000" fill-opacity="0.55" stroke="#200000" stroke-opacity="0.6" stroke-width="0.6"/>
<polygon points="368.7,311.1 374.7,311.1 371.7,316.1" fill="#c00000" fill-opacity="0.55" stroke="#200000" stroke-opacity="0.6" stroke-width="0.6"/>
<polygon points="369.3,311.7 375.3,311.7 372.3,316.6" fill="#c00000" fill-opacity="0.55" stroke="#200000" stroke-opacity="0.6" stroke-width="0.6"/>
<polygon points="369.5,310.7 375.5,310.7 372.5,315.7" fill="#c00000" fill-opacity="0.55" stroke="#200000" stroke-opacity="0.6" stroke-width="0.6"/>
<polygon points="369.5,310.9 375.5,310.9 372.5,315.8" fill="#c00000" fill-opacity="0.55" stroke="#200000" stroke-opacity="0.6" stroke-width="0.6"/>
<polygon points="369.9,311.3 375.9,311.3 372.9,316.2" fill="#c00000" fill-opacity="0.55" stroke="#200000" stroke-opacity="0.6" stroke-width="0.6"/>
<polygon points="369.6,310.3 375.6,310.3 372.6,315.2" fill="#c00000" fill-opacity="0.55" stroke="#200000" stroke-opacity="0.6" stroke-width="0.6"/>
<polygon points="372.2,309.8 378.2,309.8 375.2,314.7" fill="#c00000" fill-opacity="0.55" stroke="#200000" stroke-opacity="0.6" stroke-width="0.6"/>
<polygon points="372.0,310.1 378.0,310.1 375.0,315.1" fill="#c00000" fill-opacity="0.55" stroke="#200000" stroke-opacity="0.6" stroke-width="0.6"/>
<polygon points="372.1,307.2 378.1,307.2 375.1,312.1" fill="#c00000" fill-opacity="0.55" stroke="#200000" stroke-opacity="0.6" stroke-width="0.6"/>
<polygon points="374.0,309.1 380.0,309.1 377.0,314.1" fill="#c00000" fill-opacity="0.55" stroke="#200000" stroke-opacity="0.6" stroke-width="0.6"/>
<polygon points="374.8,308.2 380.8,308.2 377.8,313.2" fill="#c00000" fill-opacity="0.55" stroke="#200000" stroke-opacity="0.6" stroke-width="0.6"/>
<polygon points="375.5,307.7 381.5,307.7 378.5,312.7" fill="#c00000" fill-opacity="0.55" stroke="#200000" stroke-opacity="0.6" stroke-width="0.6"/>
<polygon points="374.9,309.6 380.9,309.6 377.9,314.5" fill="#c00000" fill-opacity="0.55" stroke="#200000" stroke-opacity="0.6" stroke-width="0.6"/>
<polygon points="377.0,307.2 383.0,307.2 380.0,312.1" fill="#c00000" fill-opacity="0.55" stroke="#200000" stroke-opacity="0.6" stroke-width="0.6"/>
<polygon points="376.3,306.9 382.3,306.9 379.3,311.9" fill="#c00000" fill-opacity="0.55" stroke="#200000" stroke-opacity="0.6" stroke-width="0.6"/>
<polygon points="375.5,307.9 381.5,307.9 378.5,312.9" fill="#c00000" fill-opacity="0.55" stroke="#200000" stroke-opacity="0.6" stroke-width="0.6"/>
<polygon points="377.6,307.9 383.6,307.9 380.6,312.9" fill="#c00000" fill-opacity="0.55" stroke="#200000" stroke-opacity="0.6" stroke-width="0.6"/>
<polygon points="378.2,305.6 384.2,305.6 381.2,310.6" fill="#c00000" fill-opacity="0.55" stroke="#200000" stroke-opacity="0.6" stroke-width="0.6"/>
<polygon points="378.7,305.7 384.7,305.7 381.7,310.6" fill="#c00000" fill-opacity="0.55" stroke="#200000" stroke-opacity="0.6" stroke-width="0.6"/>
<polygon points="380.6,306.0 386.6,306.0 383.6,311.0" fill="#c00000" fill-opacity="0.55" stroke="#200000" stroke-opacity="0.6" stroke-width="0.6"/>
<polygon points="380.0,305.3 386.0,305.3 383.0,310.3" fill="#c00000" fill-opacity="0.55" stroke="#200000" stroke-opacity="0.6" stroke-width="0.6"/>
<polygon points="379.3,304.8 385.3,304.8 382.3,309.7" fill="#c00000" fill-opacity="0.55" stroke="#200000" stroke-opacity="0.6" stroke-width="0.6"/>
<polygon points="379.9,305.5 385.9,305.5 382.9,310.4" fill="#c00000" fill-opacity="0.55" stroke="#200000" stroke-opacity="0.6" stroke-width="0.6"/>
<polygon points="381.6,304.9 387.6,304.9 384.6,309.9" fill="#c00000" fill-opacity="0.55" stroke="#200000" stroke-opacity="0.6" stroke-width="0.6"/>
<polygon points="380.1,303.8 386.1,303.8 383.1,308.8" fill="#c00000" fill-opacity="0.55" stroke="#200000" stroke-opacity="0.6" stroke-width="0.6"/>
<polygon points="381.4,305.1 387.4,305.1 384.4,310.0" fill="#c00000" fill-opacity="0.55" stroke="#200000" stroke-opacity="0.6" stroke-width="0.6"/>
<polygon points="383.0,304.7 389.0,304.7 386.0,309.7" fill="#c00000" fill-opacity="0.55" stroke="#200000" stroke-opacity="0.6" stroke-width="0.6"/>
<polygon points="381.7,304.7 387.7,304.7 384.7,309.6" fill="#c00000" fill-opacity="0.55" stroke="#200000" stroke-opacity="0.6" stroke-width="0.6"/>
<polygon points="384.7,302.8 390.7,302.8 387.7,307.8" fill="#c00000" fill-opacity="0.55" stroke="#200000" stroke-opacity="0.6" stroke-width="0.6"/>
<polygon points="382.8,303.9 388.8,303.9 385.8,308.9" fill="#c00000" fill-opacity="0.55" stroke="#200000" stroke-opacity="0.6" stroke-width="0.6"/>
<polygon points="384.0,305.7 390.0,305.7 387.0,310.6" fill="#c00000" fill-opacity="0.55" stroke="#200000" stroke-opacity="0.6" stroke-width="0.6"/>
<polygon points="386.6,302.3 392.6,302.3 389.6,307.2" fill="#c00000" fill-opacity="0.55" stroke="#200000" stroke-opacity="0.6" stroke-width="0.6"/>
<polygon points="384.2,304.5 390.2,304.5 387.2,309.4" fill="#c00000" fill-opacity="0.55" stroke="#200000" stroke-opacity="0.6" stroke-width="0.6"/>
<polygon points="385.7,302.8 391.7,302.8 388.7,307.8" fill="#c00000" fill-opacity="0.55" stroke="#200000" stroke-opacity="0.6" stroke-width="0.6"/>
<polygon points="388.0,299.8 394.0,299.8 391.0,304.8" fill="#c00000" fill-opacity="0.55" stroke="#200000" stroke-opacity="0.6" stroke-width="0.6"/>
<polygon points="386.8,301.0 392.8,301.0 389.8,305.9" fill="#c00000" fill-opacity="0.55" stroke="#200000" stroke-opacity="0.6" stroke-width="0.6"/>
<polygon points="387.9,301.6 393.9,301.6 390.9,306.5" fill="#c00000" fill-opacity="0.55" stroke="#200000" stroke-opacity="0.6" stroke-width="0.6"/>
<polygon points="387.3,301.9 393.3,301.9 390.3,306.8" fill="#c00000" fill-opacity="0.55" stroke="#200000" stroke-opacity="0.6" stroke-width="0.6"/>
<polygon points="388.0,300.3 394.0,300.3 391.0,305.3" fill="#c00000" fill-opacity="0.55" stroke="#200000" stroke-opacity="0.6" stroke-width="0.6"/>
<polygon points="387.0,302.2 393.0,302.2 390.0,307.1" fill="#c00000" fill-opacity="0.55" stroke="#200000" stroke-opacity="0.6" stroke-width="0.6"/>
<polygon points="390.6,299.6 396.6,299.6 393.6,304.6" fill="#c00000" fill-opacity="0.55" stroke="#200000" stroke-opacity="0.6" stroke-width="0.6"/>
<polygon points="390.1,300.0 396.1,300.0 393.1,305.0" fill="#c00000" fill-opacity="0.55" stroke="#200000" stroke-opacity="0.6" stroke-width="0.6"/>
<polygon points="390.4,301.5 396.4,301.5 393.4,306.5" fill="#c00000" fill-opacity="0.55" stroke="#200000" stroke-opacity="0.6" stroke-width="0.6"/>
<polygon points="390.4,300.8 396.4,300.8 393.4,305.8" fill="#c00000" fill-opacity="0.55" stroke="#200000" stroke-opacity="0.6" stroke-width="0.6"/>
<polygon points="392.5,300.5 398.5,300.5 395.5,305.4" fill="#c00000" fill-opacity="0.55" stroke="#200000" stroke-opacity="0.6" stroke-width="0.6"/>
<polygon points="392.3,299.5 398.3,299.5 395.3,304.4" fill="#c00000" fill-opacity="0.55" stroke="#200000" stroke-opacity="0.6" stroke-width="0.6"/>
<polygon points="391.1,298.9 397.1,298.9 394.1,303.9" fill="#c00000" fill-opacity="0.55" stroke="#200000" stroke-opacity="0.6" stroke-width="0.6"/>
<polygon points="392.8,299.5 398.8,299.5 395.8,304.5" fill="#c00000" fill-opacity="0.55" stroke="#200000" stroke-opacity="0.6" stroke-width="0.6"/>
<polygon points="392.6,298.8 398.6,298.8 395.6,303.8" fill="#c00000" fill-opacity="0.55" stroke="#200000" stroke-opacity="0.6" stroke-width="0.6"/>
<polygon points="395.0,297.9 401.0,297.9 398.0,302.9" fill="#c00000" fill-opacity="0.55" stroke="#200000" stroke-opacity="0.6" stroke-width="0.6"/>
<polygon points="394.4,298.4 400.4,298.4 397.4,303.4" fill="#c00000" fill-opacity="0.55" stroke="#200000" stroke-opacity="0.6" stroke-width="0.6"/>
<polygon points="396.6,298.7 402.6,298.7 399.6,303.7" fill="#c00000" fill-opacity="0.55" stroke="#200000" stroke-opacity="0.6" stroke-width="0.6"/>
<polygon points="396.0,297.1 402.0,297.1 399.0,302.0" fill="#c00000" fill-opacity="0.55" stroke="#200000" stroke-opacity="0.6" stroke-width="0.6"/>
<polygon points="395.9,297.1 401.9,297.1 398.9,302.0" fill="#c00000" fill-opacity="0.55" stroke="#200000" stroke-opacity="0.6" stroke-width="0.6"/>
<polygon points="395.7,296.0 401.7,296.0 398.7,301.0" fill="#c00000" fill-opacity="0.55" stroke="#200000" stroke-opacity="0.6" stroke-width="0.6"/>
<polygon points="396.7,297.4 402.7,297.4 399.7,302.3" fill="#c00000" fill-opacity="0.55" stroke="#200000" stroke-opacity="0.6" stroke-width="0.6"/>
<polygon points="398.1,295.9 404.1,295.9 401.1,300.9" fill="#c00000" fill-opacity="0.55" stroke="#200000" stroke-opacity="0.6" stroke-width="0.6"/>
<polygon points="399.2,294.2 405.2,294.2 402.2,299.2" fill="#c00000" fill-opacity="0.55" stroke="#200000" stroke-opacity="0.6" stroke-width="0.6"/>
<polygon points="399.1,294.6 405.1,294.6 402.1,299.6" fill="#c00000" fill-opacity="0.55" stroke="#200000" stroke-opacity="0.6" stroke-width="0.6"/>
<polygon points="399.3,295.9 405.3,295.9 402.3,300.9" fill="#c00000" fill-opacity="0.55" stroke="#200000" stroke-opacity="0.6" stroke-width="0.6"/>
<polygon points="399.3,294.8 405.3,294.8 402.3,299.8" fill="#c00000" fill-opacity="0.55" stroke="#200000" stroke-opacity="0.6" stroke-width="0.6"/>
<polygon points="399.5,293.4 405.5,293.4 402.5,298.4" fill="#c00000" fill-opacity="0.55" stroke="#200000" stroke-opacity="0.6" stroke-width="0.6"/>
<polygon points="399.6,293.5 405.6,293.5 402.6,298.5" fill="#c00000" fill-opacity="0.55" stroke="#200000" stroke-opacity="0.6" stroke-width="0.6"/>
<polygon points="401.7,294.8 407.7,294.8 404.7,299.8" fill="#c00000" fill-opacity="0.55" stroke="#200000" stroke-opacity="0.6" stroke-width="0.6"/>
<polygon points="403.0,294.2 409.0,294.2 406.0,299.1" fill="#c00000" fill-opacity="0.55" stroke="#200000" stroke-opacity="0.6" stroke-width="0.6"/>
<polygon points="401.3,293.4 407.3,293.4 404.3,298.4" fill="#c00000" fill-opacity="0.55" stroke="#200000" stroke-opacity="0.6" stroke-width="0.6"/>
<polygon points="396.0,293.5 402.0,293.5 399.0,298.4" fill="#c00000" fill-opacity="0.55" stroke="#200000" stroke-opacity="0.6" stroke-width="0.6"/>
<polygon points="395.4,296.0 401.4,296.0 398.4,300.9" fill="#c00000" fill-opacity="0.55" stroke="#200000" stroke-opacity="0.6" stroke-width="0.6"/>
<polygon points="398.1,297.1 404.1,297.1 401.1,302.1" fill="#c00000" fill-opacity="0.55" stroke="#200000" stroke-opacity="0.6" stroke-width="0.6"/>
<polygon points="399.6,297.0 405.6,297.0 402.6,301.9" fill="#c00000" fill-opacity="0.55" stroke="#200000" stroke-opacity="0.6" stroke-width="0.6"/>
<polygon points="396.7,292.3 402.7,292.3 399.7,297.3" fill="#c00000" fill-opacity="0.55" stroke="#200000" stroke-opacity="0.6" stroke-width="0.6"/>
<polygon points="397.1,295.0 403.1,295.0 400.1,300.0" fill="#c00000" fill-opacity="0.55" stroke="#200000" stroke-opacity="0.6" stroke-width="0.6"/>
<polygon points="399.3,295.3 405.3,295.3 402.3,300.2" fill="#c00000" fill-opacity="0.55" stroke="#200000" stroke-opacity="0.6" stroke-width="0.6"/>
<polygon points="400.5,293.6 406.5,293.6 403.5,298.5" fill="#c00000" fill-opacity="0.55" stroke="#200000" stroke-opacity="0.6" stroke-width="0.6"/>
<polygon points="399.3,294.0 405.3,294.0 402.3,299.0" fill="#c00000" fill-opacity="0.55" stroke="#200000" stroke-opacity="0.6" stroke-width="0.6"/>
<polygon points="399.9,295.4 405.9,295.4 402.9,300.3" fill="#c00000" fill-opacity="0.55" stroke="#200000" stroke-opacity="0.6" stroke-width="0.6"/>
<polygon points="400.9,292.5 406.9,292.5 403.9,297.4" fill="#c00000" fill-opacity="0.55" stroke="#200000" stroke-opacity="0.6" stroke-width="0.6"/>
<polygon points="403.7,293.0 409.7,293.0 406.7,298.0" fill="#c00000" fill-opacity="0.55" stroke="#200000" stroke-opacity="0.6" stroke-width="0.6"/>
<polygon points="402.2,294.0 408.2,294.0 405.2,298.9" fill="#c00000" fill-opacity="0.55" stroke="#200000" stroke-opacity="0.6" stroke-width="0.6"/>
<polygon points="402.8,292.2 408.8,292.2 405.8,297.1" fill="#c00000" fill-opacity="0.55" stroke="#200000" stroke-opacity="0.6" stroke-width="0.6"/>
<polygon points="400.3,290.4 406.3,290.4 403.3,295.3" fill="#c00000" fill-opacity="0.55" stroke="#200000" stroke-opacity="0.6" stroke-width="0.6"/>
<polygon points="403.1,295.4 409.1,295.4 406.1,300.3" fill="#c00000" fill-opacity="0.55" stroke="#200000" stroke-opacity="0.6" stroke-width="0.6"/>
<polygon points="401.5,292.2 407.5,292.2 404.5,297.2" fill="#c00000" fill-opacity="0.55" stroke="#200000" stroke-opacity="0.6" stroke-width="0.6"/>
<polygon points="402.4,290.6 408.4,290.6 405.4,295.5" fill="#c00000" fill-opacity="0.55" stroke="#200000" stroke-opacity="0.6" stroke-width="0.6"/>
<polygon points="404.9,292.8 410.9,292.8 407.9,297.8" fill="#c00000" fill-opacity="0.55" stroke="#200000" stroke-opacity="0.6" stroke-width="0.6"/>
<polygon points="405.6,290.0 411.6,290.0 408.6,294.9" fill="#c00000" fill-opacity="0.55" stroke="#200000" stroke-opacity="0.6" stroke-width="0.6"/>
<polygon points="403.2,292.9 409.2,292.9 406.2,297.9" fill="#c00000" fill-opacity="0.55" stroke="#200000" stroke-opacity="0.6" stroke-width="0.6"/>
<polygon points="405.4,292.6 411.4,292.6 408.4,297.5" fill="#c00000" fill-opacity="0.55" stroke="#200000" stroke-opacity="0.6" stroke-width="0.6"/>
<polygon points="405.9,290.4 411.9,290.4 408.9,295.3" fill="#c00000" fill-opacity="0.55" stroke="#200000" stroke-opacity="0.6" stroke-width="0.6"/>
<polygon points="405.4,292.0 411.4,292.0 408.4,296.9" fill="#c00000" fill-opacity="0.55" stroke="#200000" stroke-opacity="0.6" stroke-width="0.6"/>
<polygon points="406.1,292.5 412.1,292.5 409.1,297.4" fill="#c00000" fill-opacity="0.55" stroke="#200000" stroke-opacity="0.6" stroke-width="0.6"/>
<polygon points="406.3,289.3 412.3,289.3 409.3,294.3" fill="#c00000" fill-opacity="0.55" stroke="#200000" stroke-opacity="0.6" stroke-width="0.6"/>
<polygon points="407.9,292.4 413.9,292.4 410.9,297.4" fill="#c00000" fill-opacity="0.55" stroke="#200000" stroke-opacity="0.6" stroke-width="0.6"/>
<polygon points="406.4,291.2 412.4,291.2 409.4,296.2" fill="#c00000" fill-opacity="0.55" stroke="#200000" stroke-opacity="0.6" stroke-width="0.6"/>
<polygon points="408.9,291.2 414.9,291.2 411.9,296.1" fill="#c00000" fill-opacity="0.55" stroke="#200000" stroke-opacity="0.6" stroke-width="0.6"/>
<polygon points="405.7,287.7 411.7,287.7 408.7,292.7" fill="#c00000" fill-opacity="0.55" stroke="#200000" stroke-opacity="0.6" stroke-width="0.6"/>
<polygon points="408.2,287.6 414.2,287.6 411.2,292.6" fill="#c00000" fill-opacity="0.55" stroke="#200000" stroke-opacity="0.6" stroke-width="0.6"/>
<polygon points="409.8,289.8 415.8,289.8 412.8,294.8" fill="#c00000" fill-opacity="0.55" stroke="#200000" stroke-opacity="0.6" stroke-width="0.6"/>
<polygon points="408.8,289.0 414.8,289.0 411.8,293.9" fill="#c00000" fill-opacity="0.55" stroke="#200000" stroke-opacity="0.6" stroke-width="0.6"/>
<polygon points="408.5,287.9 414.5,287.9 411.5,292.9" fill="#c00000" fill-opacity="0.55" stroke="#200000" stroke-opacity="0.6" stroke-width="0.6"/>
<polygon points="408.7,288.8 414.7,288.8 411.7,293.7" fill="#c00000" fill-opacity="0.55" stroke="#200000" stroke-opacity="0.6" stroke-width="0.6"/>
<polygon points="407.3,287.1 413.3,287.1 410.3,292.0" fill="#c00000" fill-opacity="0.55" stroke="#200000" stroke-opacity="0.6" stroke-width="0.6"/>
<polygon points="411.1,289.1 417.1,289.1 414.1,294.1" fill="#c00000" fill-opacity="0.55" stroke="#200000" stroke-opacity="0.6" stroke-width="0.6"/>
<polygon points="411.4,287.8 417.4,287.8 414.4,292.7" fill="#c00000" fill-opacity="0.55" stroke="#200000" stroke-opacity="0.6" stroke-width="0.6"/>
<polygon points="409.0,284.5 415.0,284.5 412.0,289.5" fill="#c00000" fill-opacity="0.55" stroke="#200000" stroke-opacity="0.6" stroke-width="0.6"/>
<polygon points="412.7,289.3 418.7,289.3 415.7,294.2" fill="#c00000" fill-opacity="0.55" stroke="#200000" stroke-opacity="0.6" stroke-width="0.6"/>
<polygon points="410.8,285.0 416.8,285.0 413.8,289.9" fill="#c00000" fill-opacity="0.55" stroke="#200000" stroke-opacity="0.6" stroke-width="0.6"/>
<polygon points="412.7,285.2 418.7,285.2 415.7,290.1" fill="#c00000" fill-opacity="0.55" stroke="#200000" stroke-opacity="0.6" stroke-width="0.6"/>
<polygon points="411.6,285.8 417.6,285.8 414.6,290.8" fill="#c00000" fill-opacity="0.55" stroke="#200000" stroke-opacity="0.6" stroke-width="0.6"/>
<polygon points="412.2,285.6 418.2,285.6 415.2,290.5" fill="#c00000" fill-opacity="0.55" stroke="#200000" stroke-opacity="0.6" stroke-width="0.6"/>
<polygon points="414.7,285.2 420.7,285.2 417.7,290.1" fill="#c00000" fill-opacity="0.55" stroke="#200000" stroke-opacity="0.6" stroke-width="0.6"/>
<polygon points="413.8,285.0 419.8,285.0 416.8,290.0" fill="#c00000" fill-opacity="0.55" stroke="#200000" stroke-opacity="0.6" stroke-width="0.6"/>
<polygon points="414.0,284.8 420.0,284.8 417.0,289.7" fill="#c00000" fill-opacity="0.55" stroke="#200000" stroke-opacity="0.6" stroke-width="0.6"/>
<polygon points="412.8,285.1 418.8,285.1 415.8,290.0" fill="#c00000" fill-opacity="0.55" stroke="#200000" stroke-opacity="0.6" stroke-width="0.6"/>
<polygon points="414.0,281.8 420.0,281.8 417.0,286.7" fill="#c00000" fill-opacity="0.55" stroke="#200000" stroke-opacity="0.6" stroke-width="0.6"/>
<polygon points="414.9,283.3 420.9,283.3 417.9,288.3" fill="#c00000" fill-opacity="0.55" stroke="#200000" stroke-opacity="0.6" stroke-width="0.6"/>
<polygon points="413.6,283.3 419.6,283.3 416.6,288.2" fill="#c00000" fill-opacity="0.55" stroke="#200000" stroke-opacity="0.6" stroke-width="0.6"/>
<polygon points="413.8,282.3 419.8,282.3 416.8,287.2" fill="#c00000" fill-opacity="0.55" stroke="#200000" stroke-opacity="0.6" stroke-width="0.6"/>
<polygon points="415.5,285.4 421.5,285.4 418.5,290.4" fill="#c00000" fill-opacity="0.55" stroke="#200000" stroke-opacity="0.6" stroke-width="0.6"/>
<polygon points="414.2,281.4 420.2,281.4 417.2,286.4" fill="#c00000" fill-opacity="0.55" stroke="#200000" stroke-opacity="0.6" stroke-width="0.6"/>
<polygon points="415.4,283.7 421.4,283.7 418.4,288.6" fill="#c00000" fill-opacity="0.55" stroke="#200000" stroke-opacity="0.6" stroke-width="0.6"/>
<polygon points="418.8,283.8 424.8,283.8 421.8,288.7" fill="#c00000" fill-opacity="0.55" stroke="#200000" stroke-opacity="0.6" stroke-width="0.6"/>
<polygon points="417.7,284.0 423.7,284.0 420.7,289.0" fill="#c00000" fill-opacity="0.55" stroke="#200000" stroke-opacity="0.6" stroke-width="0.6"/>
<polygon points="419.1,283.5 425.1,283.5 422.1,288.4" fill="#c00000" fill-opacity="0.55" stroke="#200000" stroke-opacity="0.6" stroke-width="0.6"/>
<polygon points="420.3,280.7 426.3,280.7 423.3,285.6" fill="#c00000" fill-opacity="0.55" stroke="#200000" stroke-opacity="0.6" stroke-width="0.6"/>
<polygon points="420.3,281.7 426.3,281.7 423.3,286.6" fill="#c00000" fill-opacity="0.55" stroke="#200000" stroke-opacity="0.6" stroke-width="0.6"/>
<polygon points="415.5,278.8 421.5,278.8 418.5,283.7" fill="#c00000" fill-opacity="0.55" stroke="#200000" stroke-opacity="0.6" stroke-width="0.6"/>
<polygon points="419.1,280.6 425.1,280.6 422.1,285.6" fill="#c00000" fill-opacity="0.55" stroke="#200000" stroke-opacity="0.6" stroke-width="0.6"/>
<polygon points="419.8,278.6 425.8,278.6 422.8,283.6" fill="#c00000" fill-opacity="0.55" stroke="#200000" stroke-opacity="0.6" stroke-width="0.6"/>
<polygon points="419.5,280.4 425.5,280.4 422.5,285.4" fill="#c00000" fill-opacity="0.55" stroke="#200000" stroke-opacity="0.6" stroke-width="0.6"/>
<polygon points="420.1,279.4 426.1,279.4 423.1,284.3" fill="#c00000" fill-opacity="0.55" stroke="#200000" stroke-opacity="0.6" stroke-width="0.6"/>
<polygon points="420.3,278.3 426.3,278.3 423.3,283.3" fill="#c00000" fill-opacity="0.55" stroke="#200000" stroke-opacity="0.6" stroke-width="0.6"/>
<polygon points="419.6,278.3 425.6,278.3 422.6,283.3" fill="#c00000" fill-opacity="0.55" stroke="#200000" stroke-opacity="0.6" stroke-width="0.6"/>
<polygon points="421.3,279.4 427.3,279.4 424.3,284.3" fill="#c00000" fill-opacity="0.55" stroke="#200000" stroke-opacity="0.6" stroke-width="0.6"/>
<polygon points="421.4,277.8 427.4,277.8 424.4,282.8" fill="#c00000" fill-opacity="0.55" stroke="#200000" stroke-opacity="0.6" stroke-width="0.6"/>
<polygon points="421.8,276.5 427.8,276.5 424.8,281.4" fill="#c00000" fill-opacity="0.55" stroke="#200000" stroke-opacity="0.6" stroke-width="0.6"/>
<polygon points="421.9,276.8 427.9,276.8 424.9,281.8" fill="#c00000" fill-opacity="0.55" stroke="#200000" stroke-opacity="0.6" stroke-width="0.6"/>
<polygon points="423.2,277.0 429.2,277.0 426.2,282.0" fill="#c00000" fill-opacity="0.55" stroke="#200000" stroke-opacity="0.6" stroke-width="0.6"/>
<polygon points="423.8,278.3 429.8,278.3 426.8,283.2" fill="#c00000" fill-opacity="0.55" stroke="#200000" stroke-opacity="0.6" stroke-width="0.6"/>
<polygon points="423.4,276.5 429.4,276.5 426.4,281.5" fill="#c00000" fill-opacity="0.55" stroke="#200000" stroke-opacity="0.6" stroke-width="0.6"/>
<polygon points="425.4,278.6 431.4,278.6 428.4,283.5" fill="#c00000" fill-opacity="0.55" stroke="#200000" stroke-opacity="0.6" stroke-width="0.6"/>
<polygon points="424.1,276.2 430.1,276.2 427.1,281.1" fill="#c00000" fill-opacity="0.55" stroke="#200000" stroke-opacity="0.6" stroke-width="0.6"/>
<polygon points="424.8,275.6 430.8,275.6 427.8,280.6" fill="#c00000" fill-opacity="0.55" stroke="#200000" stroke-opacity="0.6" stroke-width="0.6"/>
<polygon points="425.9,272.2 431.9,272.2 428.9,277.2" fill="#c00000" fill-opacity="0.55" stroke="#200000" stroke-opacity="0.6" stroke-width="0.6"/>
<polygon points="424.3,273.7 430.3,273.7 427.3,278.7" fill="#c00000" fill-opacity="0.55" stroke="#200000" stroke-opacity="0.6" stroke-width="0.6"/>
<polygon points="425.6,276.0 431.6,276.0 428.6,281.0" fill="#c00000" fill-opacity="0.55" stroke="#200000" stroke-opacity="0.6" stroke-width="0.6"/>
<polygon points="426.9,274.0 432.9,274.0 429.9,278.9" fill="#c00000" fill-opacity="0.55" stroke="#200000" stroke-opacity="0.6" stroke-width="0.6"/>
<polygon points="424.3,277.0 430.3,277.0 427.3,282.0" fill="#c00000" fill-opacity="0.55" stroke="#200000" stroke-opacity="0.6" stroke-width="0.6"/>
<polygon points="425.7,273.2 431.7,273.2 428.7,278.1" fill="#c00000" fill-opacity="0.55" stroke="#200000" stroke-opacity="0.6" stroke-width="0.6"/>
<polygon points="426.5,274.4 432.5,274.4 429.5,279.3" fill="#c00000" fill-opacity="0.55" stroke="#200000" stroke-opacity="0.6" stroke-width="0.6"/>
<polygon points="426.2,270.6 432.2,270.6 429.2,275.6" fill="#c00000" fill-opacity="0.55" stroke="#200000" stroke-opacity="0.6" stroke-width="0.6"/>
<polygon points="426.5,271.9 432.5,271.9 429.5,276.8" fill="#c00000" fill-opacity="0.55" stroke="#200000" stroke-opacity="0.6" stroke-width="0.6"/>
<polygon points="427.7,272.4 433.7,272.4 430.7,277.3" fill="#c00000" fill-opacity="0.55" stroke="#200000" stroke-opacity="0.6" stroke-width="0.6"/>
<polygon points="426.2,272.2 432.2,272.2 429.2,277.2" fill="#c00000" fill-opacity="0.55" stroke="#200000" stroke-opacity="0.6" stroke-width="0.6"/>
<polygon points="424.7,271.1 430.7,271.1 427.7,276.0" fill="#c00000" fill-opacity="0.55" stroke="#200000" stroke-opacity="0.6" stroke-width="0.6"/>
<polygon points="426.7,271.6 432.7,271.6 429.7,276.5" fill="#c00000" fill-opacity="0.55" stroke="#200000" stroke-opacity="0.6" stroke-width="0.6"/>
<polygon points="428.5,273.5 434.5,273.5 431.5,278.5" fill="#c00000" fill-opacity="0.55" stroke="#200000" stroke-opacity="0.6" stroke-width="0.6"/>
<polygon points="425.9,268.6 431.9,268.6 428.9,273.6" fill="#c00000" fill-opacity="0.55" stroke="#200000" stroke-opacity="0.6" stroke-width="0.6"/>
<polygon points="428.5,266.4 434.5,266.4 431.5,271.3" fill="#c00000" fill-opacity="0.55" stroke="#200000" stroke-opacity="0.6" stroke-width="0.6"/>
<polygon points="429.7,271.2 435.7,271.2 432.7,276.1" fill="#c00000" fill-opacity="0.55" stroke="#200000" stroke-opacity="0.6" stroke-width="0.6"/>
<polygon points="427.9,269.2 433.9,269.2 430.9,274.2" fill="#c00000" fill-opacity="0.55" stroke="#200000" stroke-opacity="0.6" stroke-width="0.6"/>
<polygon points="431.4,270.9 437.4,270.9 434.4,275.8" fill="#c00000" fill-opacity="0.55" stroke="#200000" stroke-opacity="0.6" stroke-width="0.6"/>
<polygon points="430.5,268.2 436.5,268.2 433.5,273.1" fill="#c00000" fill-opacity="0.55" stroke="#200000" stroke-opacity="0.6" stroke-width="0.6"/>
<polygon points="430.7,267.0 436.7,267.0 433.7,272.0" fill="#c00000" fill-opacity="0.55" stroke="#200000" stroke-opacity="0.6" stroke-width="0.6"/>
<polygon points="432.5,267.8 438.5,267.8 435.5,272.7" fill="#c00000" fill-opacity="0.55" stroke="#200000" stroke-opacity="0.6" stroke-width="0.6"/>
<polygon points="431.4,269.1 437.4,269.1 434.4,274.1" fill="#c00000" fill-opacity="0.55" stroke="#200000" stroke-opacity="0.6" stroke-width="0.6"/>
<polygon points="430.8,269.0 436.8,269.0 433.8,274.0" fill="#c00000" fill-opacity="0.55" stroke="#200000" stroke-opacity="0.6" stroke-width="0.6"/>
<polygon points="431.2,267.9 437.2,267.9 434.2,272.8" fill="#c00000" fill-opacity="0.55" stroke="#200000" stroke-opacity="0.6" stroke-width="0.6"/>
<polygon points="432.2,266.4 438.2,266.4 435.2,271.4" fill="#c00000" fill-opacity="0.55" stroke="#200000" stroke-opacity="0.6" stroke-width="0.6"/>
<polygon points="432.4,267.5 438.4,267.5 435.4,272.5" fill="#c00000" fill-opacity="0.55" stroke="#200000" stroke-opacity="0.6" stroke-width="0.6"/>
<polygon points="431.9,265.4 437.9,265.4 434.9,270.3" fill="#c00000" fill-opacity="0.55" stroke="#200000" stroke-opacity="0.6" stroke-width="0.6"/>
<polygon points="429.8,262.7 435.8,262.7 432.8,267.7" fill="#c00000" fill-opacity="0.55" stroke="#200000" stroke-opacity="0.6" stroke-width="0.6"/>
<polygon points="434.6,268.5 440.6,268.5 437.6,273.5" fill="#c00000" fill-opacity="0.55" stroke="#200000" stroke-opacity="0.6" stroke-width="0.6"/>
<polygon points="433.2,264.9 439.2,264.9 436.2,269.8" fill="#c00000" fill-opacity="0.55" stroke="#200000" stroke-opacity="0.6" stroke-width="0.6"/>
<polygon points="431.7,263.2 437.7,263.2 434.7,268.2" fill="#c00000" fill-opacity="0.55" stroke="#200000" stroke-opacity="0.6" stroke-width="0.6"/>
<polygon points="434.7,265.4 440.7,265.4 437.7,270.3" fill="#c00000" fill-opacity="0.55" stroke="#200000" stroke-opacity="0.6" stroke-width="0.6"/>
<polygon points="433.5,266.7 439.5,266.7 436.5,271.6" fill="#c00000" fill-opacity="0.55" stroke="#200000" stroke-opacity="0.6" stroke-width="0.6"/>
<polygon points="438.2,265.7 444.2,265.7 441.2,270.6" fill="#c00000" fill-opacity="0.55" stroke="#200000" stroke-opacity="0.6" stroke-width="0.6"/>
<polygon points="435.3,266.4 441.3,266.4 438.3,271.3" fill="#c00000" fill-opacity="0.55" stroke="#200000" stroke-opacity="0.6" stroke-width="0.6"/>
<polygon points="433.7,263.3 439.7,263.3 436.7,268.2" fill="#c00000" fill-opacity="0.55" stroke="#200000" stroke-opacity="0.6" stroke-width="0.6"/>
<polygon points="433.2,262.3 439.2,262.3 436.2,267.3" fill="#c00000" fill-opacity="0.55" stroke="#200000" stroke-opacity="0.6" stroke-width="0.6"/>
<polygon points="430.9,259.0 436.9,259.0 433.9,264.0" fill="#c00000" fill-opacity="0.55" stroke="#200000" stroke-opacity="0.6" stroke-width="0.6"/>
<polygon points="436.5,263.1 442.5,263.1 439.5,268.1" fill="#c00000" fill-opacity="0.55" stroke="#200000" stroke-opacity="0.6" stroke-width="0.6"/>
<polygon points="435.6,263.8 441.6,263.8 438.6,268.8" fill="#c00000" fill-opacity="0.55" stroke="#200000" stroke-opacity="0.6" stroke-width="0.6"/>
<polygon points="436.0,262.2 442.0,262.2 439.0,267.2" fill="#c00000" fill-opacity="0.55" stroke="#200000" stroke-opacity="0.6" stroke-width="0.6"/>
<polygon points="437.0,261.2 443.0,261.2 440.0,266.2" fill="#c00000" fill-opacity="0.55" stroke="#200000" stroke-opacity="0.6" stroke-width="0.6"/>
<polygon points="437.3,259.8 443.3,259.8 440.3,264.8" fill="#c00000" fill-opacity="0.55" stroke="#200000" stroke-opacity="0.6" stroke-width="0.6"/>
<polygon points="439.1,262.3 445.1,262.3 442.1,267.2" fill="#c00000" fill-opacity="0.55" stroke="#200000" stroke-opacity="0.6" stroke-width="0.6"/>
<polygon points="436.4,261.2 442.4,261.2 439.4,266.1" fill="#c00000" fill-opacity="0.55" stroke="#200000" stroke-opacity="0.6" stroke-width="0.6"/>
<polygon points="436.9,258.0 442.9,258.0 439.9,262.9" fill="#c00000" fill-opacity="0.55" stroke="#200000" stroke-opacity="0.6" stroke-width="0.6"/>
<polygon points="440.0,263.1 446.0,263.1 443.0,268.1" fill="#c00000" fill-opacity="0.55" stroke="#200000" stroke-opacity="0.6" stroke-width="0.6"/>
<polygon points="439.0,261.6 445.0,261.6 442.0,266.5" fill="#c00000" fill-opacity="0.55" stroke="#200000" stroke-opacity="0.6" stroke-width="0.6"/>
<polygon points="436.6,257.3 442.6,257.3 439.6,262.3" fill="#c00000" fill-opacity="0.55" stroke="#200000" stroke-opacity="0.6" stroke-width="0.6"/>
<polygon points="439.1,258.7 445.1,258.7 442.1,263.6" fill="#c00000" fill-opacity="0.55" stroke="#200000" stroke-opacity="0.6" stroke-width="0.6"/>
<polygon points="439.6,261.2 445.6,261.2 442.6,266.1" fill="#c00000" fill-opacity="0.55" stroke="#200000" stroke-opacity="0.6" stroke-width="0.6"/>
<polygon points="439.2,259.7 445.2,259.7 442.2,264.7" fill="#c00000" fill-opacity="0.55" stroke="#200000" stroke-opacity="0.6" stroke-width="0.6"/>
<polygon points="438.8,257.2 444.8,257.2 441.8,262.1" fill="#c00000" fill-opacity="0.55" stroke="#200000" stroke-opacity="0.6" stroke-width="0.6"/>
<polygon points="439.5,256.2 445.5,256.2 442.5,261.1" fill="#c00000" fill-opacity="0.55" stroke="#200000" stroke-opacity="0.6" stroke-width="0.6"/>
<polygon points="442.8,258.1 448.8,258.1 445.8,263.0" fill="#c00000" fill-opacity="0.55" stroke="#200000" stroke-opacity="0.6" stroke-width="0.6"/>
<polygon points="442.8,257.0 448.8,257.0 445.8,262.0" fill="#c00000" fill-opacity="0.55" stroke="#200000" stroke-opacity="0.6" stroke-width="0.6"/>
<polygon points="441.1,256.7 447.1,256.7 444.1,261.7" fill="#c00000" fill-opacity="0.55" stroke="#200000" stroke-opacity="0.6" stroke-width="0.6"/>
<polygon points="440.0,257.0 446.0,257.0 443.0,261.9" fill="#c00000" fill-opacity="0.55" stroke="#200000" stroke-opacity="0.6" stroke-width="0.6"/>
<polygon points="441.8,255.9 447.8,255.9 444.8,260.9" fill="#c00000" fill-opacity="0.55" stroke="#200000" stroke-opacity="0.6" stroke-width="0.6"/>
<polygon points="437.8,254.5 443.8,254.5 440.8,259.5" fill="#c00000" fill-opacity="0.55" stroke="#200000" stroke-opacity="0.6" stroke-width="0.6"/>
<polygon points="442.0,257.7 448.0,257.7 445.0,262.6" fill="#c00000" fill-opacity="0.55" stroke="#200000" stroke-opacity="0.6" stroke-width="0.6"/>
<polygon points="442.3,254.1 448.3,254.1 445.3,259.0" fill="#c00000" fill-opacity="0.55" stroke="#200000" stroke-opacity="0.6" stroke-width="0.6"/>
<polygon points="446.8,256.6 452.8,256.6 449.8,261.6" fill="#c00000" fill-opacity="0.55" stroke="#200000" stroke-opacity="0.6" stroke-width="0.6"/>
<polygon points="441.3,254.4 447.3,254.4 444.3,259.3" fill="#c00000" fill-opacity="0.55" stroke="#200000" stroke-opacity="0.6" stroke-width="0.6"/>
<polygon points="442.9,253.3 448.9,253.3 445.9,258.3" fill="#c00000" fill-opacity="0.55" stroke="#200000" stroke-opacity="0.6" stroke-width="0.6"/>
<polygon points="439.9,252.6 445.9,252.6 442.9,257.5" fill="#c00000" fill-opacity="0.55" stroke="#200000" stroke-opacity="0.6" stroke-width="0.6"/>
<polygon points="441.5,250.3 447.5,250.3 444.5,255.3" fill="#c00000" fill-opacity="0.55" stroke="#200000" stroke-opacity="0.6" stroke-width="0.6"/>
<polygon points="444.7,251.7 450.7,251.7 447.7,256.7" fill="#c00000" fill-opacity="0.55" stroke="#200000" stroke-opacity="0.6" stroke-width="0.6"/>
<polygon points="441.1,250.8 447.1,250.8 444.1,255.8" fill="#c00000" fill-opacity="0.55" stroke="#200000" stroke-opacity="0.6" stroke-width="0.6"/>
<polygon points="443.6,250.9 449.6,250.9 446.6,255.9" fill="#c00000" fill-opacity="0.55" stroke="#200000" stroke-opacity="0.6" stroke-width="0.6"/>
<polygon points="444.6,251.5 450.6,251.5 447.6,256.5" fill="#c00000" fill-opacity="0.55" stroke="#200000" stroke-opacity="0.6" stroke-width="0.6"/>
<polygon points="446.6,254.3 452.6,254.3 449.6,259.3" fill="#c00000" fill-opacity="0.55" stroke="#200000" stroke-opacity="0.6" stroke-width="0.6"/>
<polygon points="460.3,245.4 466.3,245.4 463.3,250.4" fill="#b80000" fill-opacity="0.55" stroke="#200000" stroke-opacity="0.6" stroke-width="0.6"/>
<polygon points="453.8,247.5 459.8,247.5 456.8,252.5" fill="#b80000" fill-opacity="0.55" stroke="#200000" stroke-opacity="0.6" stroke-width="0.6"/>
<polygon points="458.0,242.4 464.0,242.4 461.0,247.4" fill="#b80000" fill-opacity="0.55" stroke="#200000" stroke-opacity="0.6" stroke-width="0.6"/>
<polygon points="448.7,238.9 454.7,238.9 451.7,243.8" fill="#b80000" fill-opacity="0.55" stroke="#200000" stroke-opacity="0.6" stroke-width="0.6"/>
<polygon points="461.6,246.2 467.6,246.2 464.6,251.2" fill="#b80000" fill-opacity="0.55" stroke="#200000" stroke-opacity="0.6" stroke-width="0.6"/>
<polygon points="448.1,235.6 454.1,235.6 451.1,240.6" fill="#b80000" fill-opacity="0.55" stroke="#200000" stroke-opacity="0.6" stroke-width="0.6"/>
<polygon points="454.7,234.5 460.7,234.5 457.7,239.5" fill="#b80000" fill-opacity="0.55" stroke="#200000" stroke-opacity="0.6" stroke-width="0.6"/>
<polygon points="460.2,237.7 466.2,237.7 463.2,242.6" fill="#b80000" fill-opacity="0.55" stroke="#200000" stroke-opacity="0.6" stroke-width="0.6"/>
<polygon points="458.2,253.2 464.2,253.2 461.2,258.1" fill="#b80000" fill-opacity="0.55" stroke="#200000" stroke-opacity="0.6" stroke-width="0.6"/>
<polygon points="448.8,247.1 454.8,247.1 451.8,252.0" fill="#b80000" fill-opacity="0.55" stroke="#200000" stroke-opacity="0.6" stroke-width="0.6"/>
<polygon points="456.7,244.2 462.7,244.2 459.7,249.2" fill="#b80000" fill-opacity="0.55" stroke="#200000" stroke-opacity="0.6" stroke-width="0.6"/>
<polygon points="451.2,253.6 457.2,253.6 454.2,258.6" fill="#b80000" fill-opacity="0.55" stroke="#200000" stroke-opacity="0.6" stroke-width="0.6"/>
<polygon points="448.1,246.7 454.1,246.7 451.1,251.6" fill="#b80000" fill-opacity="0.55" stroke="#200000" stroke-opacity="0.6" stroke-width="0.6"/>
<polygon points="443.1,246.7 449.1,246.7 446.1,251.7" fill="#b80000" fill-opacity="0.55" stroke="#200000" stroke-opacity="0.6" stroke-width="0.6"/>
<polygon points="462.4,242.9 468.4,242.9 465.4,247.9" fill="#b80000" fill-opacity="0.55" stroke="#200000" stroke-opacity="0.6" stroke-width="0.6"/>
<polygon points="457.7,241.4 463.7,241.4 460.7,246.3" fill="#b80000" fill-opacity="0.55" stroke="#200000" stroke-opacity="0.6" stroke-width="0.6"/>
<polygon points="450.5,242.9 456.5,242.9 453.5,247.8" fill="#b80000" fill-opacity="0.55" stroke="#200000" stroke-opacity="0.6" stroke-width="0.6"/>
<polygon points="460.6,241.4 466.6,241.4 463.6,246.3" fill="#b80000" fill-opacity="0.55" stroke="#200000" stroke-opacity="0.6" stroke-width="0.6"/>
<polygon points="443.9,246.2 449.9,246.2 446.9,251.2" fill="#b80000" fill-opacity="0.55" stroke="#200000" stroke-opacity="0.6" stroke-width="0.6"/>
<polygon points="454.7,247.5 460.7,247.5 457.7,252.5" fill="#b80000" fill-opacity="0.55" stroke="#200000" stroke-opacity="0.6" stroke-width="0.6"/>
<polygon points="452.4,240.7 458.4,240.7 455.4,245.7" fill="#b80000" fill-opacity="0.55" stroke="#200000" stroke-opacity="0.6" stroke-width="0.6"/>
<polygon points="457.3,239.7 463.3,239.7 460.3,244.6" fill="#b80000" fill-opacity="0.55" stroke="#200000" stroke-opacity="0.6" stroke-width="0.6"/>
<polygon points="448.2,238.1 454.2,238.1 451.2,243.1" fill="#b80000" fill-opacity="0.55" stroke="#200000" stroke-opacity="0.6" stroke-width="0.6"/>
<polygon points="456.5,242.9 462.5,242.9 459.5,247.9" fill="#b80000" fill-opacity="0.55" stroke="#200000" stroke-opacity="0.6" stroke-width="0.6"/>
<polygon points="452.1,239.3 458.1,239.3 455.1,244.2" fill="#b80000" fill-opacity="0.55" stroke="#200000" stroke-opacity="0.6" stroke-width="0.6"/>
<polygon points="448.2,249.3 454.2,249.3 451.2,254.3" fill="#b80000" fill-opacity="0.55" stroke="#200000" stroke-opacity="0.6" stroke-width="0.6"/>
<polygon points="456.8,255.3 462.8,255.3 459.8,260.3" fill="#b80000" fill-opacity="0.55" stroke="#200000" stroke-opacity="0.6" stroke-width="0.6"/>
<polygon points="453.9,253.9 459.9,253.9 456.9,258.8" fill="#b80000" fill-opacity="0.55" stroke="#200000" stroke-opacity="0.6" stroke-width="0.6"/>
<polygon points="446.6,251.5 452.6,251.5 449.6,256.4" fill="#b80000" fill-opacity="0.55" stroke="#200000" stroke-opacity="0.6" stroke-width="0.6"/>
<polygon points="445.2,239.0 451.2,239.0 448.2,243.9" fill="#b80000" fill-opacity="0.55" stroke="#200000" stroke-opacity="0.6" stroke-width="0.6"/>
<polygon points="458.2,241.9 464.2,241.9 461.2,246.8" fill="#b80000" fill-opacity="0.55" stroke="#200000" stroke-opacity="0.6" stroke-width="0.6"/>
<polygon points="450.3,250.3 456.3,250.3 453.3,255.3" fill="#b80000" fill-opacity="0.55" stroke="#200000" stroke-opacity="0.6" stroke-width="0.6"/>
<polygon points="448.0,253.1 454.0,253.1 451.0,258.0" fill="#b80000" fill-opacity="0.55" stroke="#200000" stroke-opacity="0.6" stroke-width="0.6"/>
<polygon points="460.4,245.2 466.4,245.2 463.4,250.2" fill="#b80000" fill-opacity="0.55" stroke="#200000" stroke-opacity="0.6" stroke-width="0.6"/>
<polygon points="462.0,240.7 468.0,240.7 465.0,245.7" fill="#b80000" fill-opacity="0.55" stroke="#200000" stroke-opacity="0.6" stroke-width="0.6"/>
<polygon points="451.3,240.9 457.3,240.9 454.3,245.8" fill="#b80000" fill-opacity="0.55" stroke="#200000" stroke-opacity="0.6" stroke-width="0.6"/>
<polygon points="451.9,246.4 457.9,246.4 454.9,251.4" fill="#b80000" fill-opacity="0.55" stroke="#200000" stroke-opacity="0.6" stroke-width="0.6"/>
<polygon points="460.2,241.4 466.2,241.4 463.2,246.4" fill="#b80000" fill-opacity="0.55" stroke="#200000" stroke-opacity="0.6" stroke-width="0.6"/>
<polygon points="454.1,240.3 460.1,240.3 457.1,245.2" fill="#b80000" fill-opacity="0.55" stroke="#200000" stroke-opacity="0.6" stroke-width="0.6"/>
<polygon points="451.9,235.3 457.9,235.3 454.9,240.3" fill="#b80000" fill-opacity="0.55" stroke="#200000" stroke-opacity="0.6" stroke-width="0.6"/>
<polygon points="453.8,247.8 459.8,247.8 456.8,252.7" fill="#b80000" fill-opacity="0.55" stroke="#200000" stroke-opacity="0.6" stroke-width="0.6"/>
<polygon points="454.8,253.3 460.8,253.3 457.8,258.3" fill="#b80000" fill-opacity="0.55" stroke="#200000" stroke-opacity="0.6" stroke-width="0.6"/>
<polygon points="453.4,240.3 459.4,240.3 456.4,245.2" fill="#b80000" fill-opacity="0.55" stroke="#200000" stroke-opacity="0.6" stroke-width="0.6"/>
<polygon points="462.0,243.1 468.0,243.1 465.0,248.0" fill="#b80000" fill-opacity="0.55" stroke="#200000" stroke-opacity="0.6" stroke-width="0.6"/>
<polygon points="446.9,245.4 452.9,245.4 449.9,250.3" fill="#b80000" fill-opacity="0.55" stroke="#200000" stroke-opacity="0.6" stroke-width="0.6"/>
<polygon points="457.0,240.1 463.0,240.1 460.0,245.0" fill="#b80000" fill-opacity="0.55" stroke="#200000" stroke-opacity="0.6" stroke-width="0.6"/>
<polygon points="447.7,236.1 453.7,236.1 450.7,241.0" fill="#b80000" fill-opacity="0.55" stroke="#200000" stroke-opacity="0.6" stroke-width="0.6"/>
<polygon points="454.1,242.5 460.1,242.5 457.1,247.4" fill="#b80000" fill-opacity="0.55" stroke="#200000" stroke-opacity="0.6" stroke-width="0.6"/>
<polygon points="458.9,237.7 464.9,237.7 461.9,242.7" fill="#b80000" fill-opacity="0.55" stroke="#200000" stroke-opacity="0.6" stroke-width="0.6"/>
<polygon points="455.2,237.5 461.2,237.5 458.2,242.5" fill="#b80000" fill-opacity="0.55" stroke="#200000" stroke-opacity="0.6" stroke-width="0.6"/>
<polygon points="447.0,236.7 453.0,236.7 450.0,241.6" fill="#b80000" fill-opacity="0.55" stroke="#200000" stroke-opacity="0.6" stroke-width="0.6"/>
<polygon points="455.9,250.3 461.9,250.3 458.9,255.2" fill="#b80000" fill-opacity="0.55" stroke="#200000" stroke-opacity="0.6" stroke-width="0.6"/>
<polygon points="451.7,252.4 457.7,252.4 454.7,257.3" fill="#b80000" fill-opacity="0.55" stroke="#200000" stroke-opacity="0.6" stroke-width="0.6"/>
<polygon points="459.0,253.2 465.0,253.2 462.0,258.2" fill="#b80000" fill-opacity="0.55" stroke="#200000" stroke-opacity="0.6" stroke-width="0.6"/>
<polygon points="455.9,244.1 461.9,244.1 458.9,249.0" fill="#b80000" fill-opacity="0.55" stroke="#200000" stroke-opacity="0.6" stroke-width="0.6"/>
<polygon points="451.3,251.7 457.3,251.7 454.3,256.7" fill="#b80000" fill-opacity="0.55" stroke="#200000" stroke-opacity="0.6" stroke-width="0.6"/>
<polygon points="448.9,239.6 454.9,239.6 451.9,244.5" fill="#b80000" fill-opacity="0.55" stroke="#200000" stroke-opacity="0.6" stroke-width="0.6"/>
<polygon points="456.1,252.5 462.1,252.5 459.1,257.5" fill="#b80000" fill-opacity="0.55" stroke="#200000" stroke-opacity="0.6" stroke-width="0.6"/>
<polygon points="454.9,240.7 460.9,240.7 457.9,245.6" fill="#b80000" fill-opacity="0.55" stroke="#200000" stroke-opacity="0.6" stroke-width="0.6"/>
<polygon points="448.6,249.1 454.6,249.1 451.6,254.1" fill="#b80000" fill-opacity="0.55" stroke="#200000" stroke-opacity="0.6" stroke-width="0.6"/>
<polygon points="461.3,250.6 467.3,250.6 464.3,255.6" fill="#b80000" fill-opacity="0.55" stroke="#200000" stroke-opacity="0.6" stroke-width="0.6"/>
<polygon points="443.9,247.1 449.9,247.1 446.9,252.0" fill="#b80000" fill-opacity="0.55" stroke="#200000" stroke-opacity="0.6" stroke-width="0.6"/>
<polygon points="449.7,239.2 455.7,239.2 452.7,244.1" fill="#b80000" fill-opacity="0.55" stroke="#200000" stroke-opacity="0.6" stroke-width="0.6"/>
<polygon points="444.1,246.9 450.1,246.9 447.1,251.9" fill="#b80000" fill-opacity="0.55" stroke="#200000" stroke-opacity="0.6" stroke-width="0.6"/>
<polygon points="448.4,241.6 454.4,241.6 451.4,246.5" fill="#b80000" fill-opacity="0.55" stroke="#200000" stroke-opacity="0.6" stroke-width="0.6"/>
<polygon points="453.0,253.9 459.0,253.9 456.0,258.9" fill="#b80000" fill-opacity="0.55" stroke="#200000" stroke-opacity="0.6" stroke-width="0.6"/>
<polygon points="448.5,246.9 454.5,246.9 451.5,251.8" fill="#b80000" fill-opacity="0.55" stroke="#200000" stroke-opacity="0.6" stroke-width="0.6"/>
<polygon points="455.9,250.8 461.9,250.8 458.9,255.7" fill="#b80000" fill-opacity="0.55" stroke="#200000" stroke-opacity="0.6" stroke-width="0.6"/>
<polygon points="460.0,239.2 466.0,239.2 463.0,244.1" fill="#b80000" fill-opacity="0.55" stroke="#200000" stroke-opacity="0.6" stroke-width="0.6"/>
<polygon points="452.2,250.4 458.2,250.4 455.2,255.3" fill="#b80000" fill-opacity="0.55" stroke="#200000" stroke-opacity="0.6" stroke-width="0.6"/>
<polygon points="461.0,241.8 467.0,241.8 464.0,246.8" fill="#b80000" fill-opacity="0.55" stroke="#200000" stroke-opacity="0.6" stroke-width="0.6"/>
<polygon points="456.6,249.6 462.6,249.6 459.6,254.5" fill="#b80000" fill-opacity="0.55" stroke="#200000" stroke-opacity="0.6" stroke-width="0.6"/>
<polygon points="459.7,237.3 465.7,237.3 462.7,242.2" fill="#b80000" fill-opacity="0.55" stroke="#200000" stroke-opacity="0.6" stroke-width="0.6"/>
<polygon points="449.4,243.7 455.4,243.7 452.4,248.7" fill="#b80000" fill-opacity="0.55" stroke="#200000" stroke-opacity="0.6" stroke-width="0.6"/>
<polygon points="446.7,242.9 452.7,242.9 449.7,247.8" fill="#b80000" fill-opacity="0.55" stroke="#200000" stroke-opacity="0.6" stroke-width="0.6"/>
<polygon points="455.5,248.2 461.5,248.2 458.5,253.2" fill="#b80000" fill-opacity="0.55" stroke="#200000" stroke-opacity="0.6" stroke-width="0.6"/>
<polygon points="452.0,252.8 458.0,252.8 455.0,257.8" fill="#b80000" fill-opacity="0.55" stroke="#200000" stroke-opacity="0.6" stroke-width="0.6"/>
<polygon points="444.8,240.2 450.8,240.2 447.8,245.1" fill="#b80000" fill-opacity="0.55" stroke="#200000" stroke-opacity="0.6" stroke-width="0.6"/>
<polygon points="459.0,244.1 465.0,244.1 462.0,249.1" fill="#b80000" fill-opacity="0.55" stroke="#200000" stroke-opacity="0.6" stroke-width="0.6"/>
<polygon points="458.6,253.3 464.6,253.3 461.6,258.3" fill="#b80000" fill-opacity="0.55" stroke="#200000" stroke-opacity="0.6" stroke-width="0.6"/>
<polygon points="461.8,248.8 467.8,248.8 464.8,253.8" fill="#b80000" fill-opacity="0.55" stroke="#200000" stroke-opacity="0.6" stroke-width="0.6"/>
<polygon points="452.8,251.8 458.8,251.8 455.8,256.8" fill="#b80000" fill-opacity="0.55" stroke="#200000" stroke-opacity="0.6" stroke-width="0.6"/>
<polygon points="445.8,252.6 451.8,252.6 448.8,257.6" fill="#b80000" fill-opacity="0.55" stroke="#200000" stroke-opacity="0.6" stroke-width="0.6"/>
<polygon points="449.1,243.9 455.1,243.9 452.1,248.8" fill="#b80000" fill-opacity="0.55" stroke="#200000" stroke-opacity="0.6" stroke-width="0.6"/>
<polygon points="449.8,252.1 455.8,252.1 452.8,257.1" fill="#b80000" fill-opacity="0.55" stroke="#200000" stroke-opacity="0.6" stroke-width="0.6"/>
<polygon points="451.0,254.1 457.0,254.1 454.0,259.0" fill="#b80000" fill-opacity="0.55" stroke="#200000" stroke-opacity="0.6" stroke-width="0.6"/>
<polygon points="457.3,239.2 463.3,239.2 460.3,244.2" fill="#b80000" fill-opacity="0.55" stroke="#200000" stroke-opacity="0.6" stroke-width="0.6"/>
<polygon points="452.9,242.0 458.9,242.0 455.9,247.0" fill="#b80000" fill-opacity="0.55" stroke="#200000" stroke-opacity="0.6" stroke-width="0.6"/>
<polygon points="456.2,249.9 462.2,249.9 459.2,254.8" fill="#b80000" fill-opacity="0.55" stroke="#200000" stroke-opacity="0.6" stroke-width="0.6"/>
<polygon points="453.0,235.9 459.0,235.9 456.0,240.8" fill="#b80000" fill-opacity="0.55" stroke="#200000" stroke-opacity="0.6" stroke-width="0.6"/>
<polygon points="460.2,238.1 466.2,238.1 463.2,243.1" fill="#b80000" fill-opacity="0.55" stroke="#200000" stroke-opacity="0.6" stroke-width="0.6"/>
<polygon points="455.7,252.3 461.7,252.3 458.7,257.3" fill="#b80000" fill-opacity="0.55" stroke="#200000" stroke-opacity="0.6" stroke-width="0.6"/>
<polygon points="452.2,235.3 458.2,235.3 455.2,240.3" fill="#b80000" fill-opacity="0.55" stroke="#200000" stroke-opacity="0.6" stroke-width="0.6"/>
<polygon points="454.0,236.4 460.0,236.4 457.0,241.3" fill="#b80000" fill-opacity="0.55" stroke="#200000" stroke-opacity="0.6" stroke-width="0.6"/>
<polygon points="446.4,238.8 452.4,238.8 449.4,243.7" fill="#b80000" fill-opacity="0.55" stroke="#200000" stroke-opacity="0.6" stroke-width="0.6"/>
<polygon points="446.4,246.9 452.4,246.9 449.4,251.9" fill="#b80000" fill-opacity="0.55" stroke="#200000" stroke-opacity="0.6" stroke-width="0.6"/>
<polygon points="458.0,243.9 464.0,243.9 461.0,248.9" fill="#b80000" fill-opacity="0.55" stroke="#200000" stroke-opacity="0.6" stroke-width="0.6"/>
<polygon points="449.6,241.3 455.6,241.3 452.6,246.2" fill="#b80000" fill-opacity="0.55" stroke="#200000" stroke-opacity="0.6" stroke-width="0.6"/>
<polygon points="453.8,248.9 459.8,248.9 456.8,253.9" fill="#b80000" fill-opacity="0.55" stroke="#200000" stroke-opacity="0.6" stroke-width="0.6"/>
<polygon points="448.5,243.6 454.5,243.6 451.5,248.5" fill="#b80000" fill-opacity="0.55" stroke="#200000" stroke-opacity="0.6" stroke-width="0.6"/>
<polygon points="450.6,241.7 456.6,241.7 453.6,246.6" fill="#b80000" fill-opacity="0.55" stroke="#200000" stroke-opacity="0.6" stroke-width="0.6"/>
<polygon points="443.6,243.5 449.6,243.5 446.6,248.4" fill="#b80000" fill-opacity="0.55" stroke="#200000" stroke-opacity="0.6" stroke-width="0.6"/>
<polygon points="447.5,243.4 453.5,243.4 450.5,248.4" fill="#b80000" fill-opacity="0.55" stroke="#200000" stroke-opacity="0.6" stroke-width="0.6"/>
<polygon points="457.1,251.8 463.1,251.8 460.1,256.7" fill="#b80000" fill-opacity="0.55" stroke="#200000" stroke-opacity="0.6" stroke-width="0.6"/>
<polygon points="460.4,248.0 466.4,248.0 463.4,252.9" fill="#b80000" fill-opacity="0.55" stroke="#200000" stroke-opacity="0.6" stroke-width="0.6"/>
<polygon points="450.6,242.5 456.6,242.5 453.6,247.5" fill="#b80000" fill-opacity="0.55" stroke="#200000" stroke-opacity="0.6" stroke-width="0.6"/>
<polygon points="450.1,241.6 456.1,241.6 453.1,246.5" fill="#b80000" fill-opacity="0.55" stroke="#200000" stroke-opacity="0.6" stroke-width="0.6"/>
<polygon points="446.9,240.4 452.9,240.4 449.9,245.3" fill="#b80000" fill-opacity="0.55" stroke="#200000" stroke-opacity="0.6" stroke-width="0.6"/>
<polygon points="452.4,244.2 458.4,244.2 455.4,249.2" fill="#b80000" fill-opacity="0.55" stroke="#200000" stroke-opacity="0.6" stroke-width="0.6"/>
<polygon points="443.5,244.5 449.5,244.5 446.5,249.5" fill="#b80000" fill-opacity="0.55" stroke="#200000" stroke-opacity="0.6" stroke-width="0.6"/>
<polygon points="455.9,253.6 461.9,253.6 458.9,258.5" fill="#b80000" fill-opacity="0.55" stroke="#200000" stroke-opacity="0.6" stroke-width="0.6"/>
<polygon points="451.0,247.5 457.0,247.5 454.0,252.5" fill="#b80000" fill-opacity="0.55" stroke="#200000" stroke-opacity="0.6" stroke-width="0.6"/>
<polygon points="458.7,246.0 464.7,246.0 461.7,250.9" fill="#b80000" fill-opacity="0.55" stroke="#200000" stroke-opacity="0.6" stroke-width="0.6"/>
<polygon points="453.8,237.5 459.8,237.5 456.8,242.4" fill="#b80000" fill-opacity="0.55" stroke="#200000" stroke-opacity="0.6" stroke-width="0.6"/>
<polygon points="456.6,250.2 462.6,250.2 459.6,255.1" fill="#b80000" fill-opacity="0.55" stroke="#200000" stroke-opacity="0.6" stroke-width="0.6"/>
<polygon points="449.1,248.7 455.1,248.7 452.1,253.7" fill="#b80000" fill-opacity="0.55" stroke="#200000" stroke-opacity="0.6" stroke-width="0.6"/>
<polygon points="447.2,236.6 453.2,236.6 450.2,241.5" fill="#b80000" fill-opacity="0.55" stroke="#200000" stroke-opacity="0.6" stroke-width="0.6"/>
<polygon points="449.6,246.2 455.6,246.2 452.6,251.2" fill="#b80000" fill-opacity="0.55" stroke="#200000" stroke-opacity="0.6" stroke-width="0.6"/>
<polygon points="450.8,239.7 456.8,239.7 453.8,244.7" fill="#b80000" fill-opacity="0.55" stroke="#200000" stroke-opacity="0.6" stroke-width="0.6"/>
<polygon points="448.6,235.8 454.6,235.8 451.6,240.7" fill="#b80000" fill-opacity="0.55" stroke="#200000" stroke-opacity="0.6" stroke-width="0.6"/>
<polygon points="457.3,254.5 463.3,254.5 460.3,259.4" fill="#b80000" fill-opacity="0.55" stroke="#200000" stroke-opacity="0.6" stroke-width="0.6"/>
<polygon points="457.4,249.3 463.4,249.3 460.4,254.2" fill="#b80000" fill-opacity="0.55" stroke="#200000" stroke-opacity="0.6" stroke-width="0.6"/>
<polygon points="445.5,244.6 451.5,244.6 448.5,249.5" fill="#b80000" fill-opacity="0.55" stroke="#200000" stroke-opacity="0.6" stroke-width="0.6"/>
<polygon points="450.9,246.9 456.9,246.9 453.9,251.9" fill="#b80000" fill-opacity="0.55" stroke="#200000" stroke-opacity="0.6" stroke-width="0.6"/>
<polygon points="446.2,248.0 452.2,248.0 449.2,253.0" fill="#b80000" fill-opacity="0.55" stroke="#200000" stroke-opacity="0.6" stroke-width="0.6"/>
<polygon points="457.1,240.2 463.1,240.2 460.1,245.1" fill="#b80000" fill-opacity="0.55" stroke="#200000" stroke-opacity="0.6" stroke-width="0.6"/>
<polygon points="455.5,241.8 461.5,241.8 458.5,246.7" fill="#b80000" fill-opacity="0.55" stroke="#200000" stroke-opacity="0.6" stroke-width="0.6"/>
<polygon points="456.5,244.5 462.5,244.5 459.5,249.4" fill="#b80000" fill-opacity="0.55" stroke="#200000" stroke-opacity="0.6" stroke-width="0.6"/>
<polygon points="462.2,244.4 468.2,244.4 465.2,249.4" fill="#b80000" fill-opacity="0.55" stroke="#200000" stroke-opacity="0.6" stroke-width="0.6"/>
<polygon points="456.8,236.3 462.8,236.3 459.8,241.2" fill="#b80000" fill-opacity="0.55" stroke="#200000" stroke-opacity="0.6" stroke-width="0.6"/>
<polygon points="458.3,245.1 464.3,245.1 461.3,250.0" fill="#b80000" fill-opacity="0.55" stroke="#200000" stroke-opacity="0.6" stroke-width="0.6"/>
<polygon points="449.9,243.2 455.9,243.2 452.9,248.1" fill="#b80000" fill-opacity="0.55" stroke="#200000" stroke-opacity="0.6" stroke-width="0.6"/>
<polygon points="459.9,246.1 465.9,246.1 462.9,251.0" fill="#b80000" fill-opacity="0.55" stroke="#200000" stroke-opacity="0.6" stroke-width="0.6"/>
<polygon points="451.3,244.6 457.3,244.6 454.3,249.5" fill="#b80000" fill-opacity="0.55" stroke="#200000" stroke-opacity="0.6" stroke-width="0.6"/>
<polygon points="454.6,244.2 460.6,244.2 457.6,249.2" fill="#b80000" fill-opacity="0.55" stroke="#200000" stroke-opacity="0.6" stroke-width="0.6"/>
<polygon points="457.2,243.2 463.2,243.2 460.2,248.1" fill="#b80000" fill-opacity="0.55" stroke="#200000" stroke-opacity="0.6" stroke-width="0.6"/>
<polygon points="448.7,236.8 454.7,236.8 451.7,241.8" fill="#b80000" fill-opacity="0.55" stroke="#200000" stroke-opacity="0.6" stroke-width="0.6"/>
<polygon points="452.1,238.2 458.1,238.2 455.1,243.1" fill="#b80000" fill-opacity="0.55" stroke="#200000" stroke-opacity="0.6" stroke-width="0.6"/>
<polygon points="446.9,238.0 452.9,238.0 449.9,243.0" fill="#b80000" fill-opacity="0.55" stroke="#200000" stroke-opacity="0.6" stroke-width="0.6"/>
<polygon points="450.1,254.2 456.1,254.2 453.1,259.2" fill="#b80000" fill-opacity="0.55" stroke="#200000" stroke-opacity="0.6" stroke-width="0.6"/>
<polygon points="453.2,240.3 459.2,240.3 456.2,245.2" fill="#b80000" fill-opacity="0.55" stroke="#200000" stroke-opacity="0.6" stroke-width="0.6"/>
<polygon points="452.5,244.3 458.5,244.3 455.5,249.2" fill="#b80000" fill-opacity="0.55" stroke="#200000" stroke-opacity="0.6" stroke-width="0.6"/>
<polygon points="453.1,256.0 459.1,256.0 456.1,260.9" fill="#b80000" fill-opacity="0.55" stroke="#200000" stroke-opacity="0.6" stroke-width="0.6"/>
<polygon points="455.7,239.6 461.7,239.6 458.7,244.5" fill="#b80000" fill-opacity="0.55" stroke="#200000" stroke-opacity="0.6" stroke-width="0.6"/>
<polygon points="446.3,237.4 452.3,237.4 449.3,242.3" fill="#b80000" fill-opacity="0.55" stroke="#200000" stroke-opacity="0.6" stroke-width="0.6"/>
<polygon points="452.8,237.4 458.8,237.4 455.8,242.3" fill="#b80000" fill-opacity="0.55" stroke="#200000" stroke-opacity="0.6" stroke-width="0.6"/>
<polygon points="449.2,236.2 455.2,236.2 452.2,241.1" fill="#b80000" fill-opacity="0.55" stroke="#200000" stroke-opacity="0.6" stroke-width="0.6"/>
<polygon points="450.4,240.4 456.4,240.4 453.4,245.4" fill="#b80000" fill-opacity="0.55" stroke="#200000" stroke-opacity="0.6" stroke-width="0.6"/>
<polygon points="446.8,244.4 452.8,244.4 449.8,249.4" fill="#b80000" fill-opacity="0.55" stroke="#200000" stroke-opacity="0.6" stroke-width="0.6"/>
<polygon points="444.3,248.6 450.3,248.6 447.3,253.6" fill="#b80000" fill-opacity="0.55" stroke="#200000" stroke-opacity="0.6" stroke-width="0.6"/>
<polygon points="455.0,232.2 461.0,232.2 458.0,237.2" fill="#b80000" fill-opacity="0.55" stroke="#200000" stroke-opacity="0.6" stroke-width="0.6"/>
<polygon points="458.0,234.5 464.0,234.5 461.0,239.5" fill="#b80000" fill-opacity="0.55" stroke="#200000" stroke-opacity="0.6" stroke-width="0.6"/>
<polygon points="454.9,236.0 460.9,236.0 457.9,240.9" fill="#b80000" fill-opacity="0.55" stroke="#200000" stroke-opacity="0.6" stroke-width="0.6"/>
<polygon points="456.8,229.0 462.8,229.0 459.8,233.9" fill="#b80000" fill-opacity="0.55" stroke="#200000" stroke-opacity="0.6" stroke-width="0.6"/>
<polygon points="452.9,228.6 458.9,228.6 455.9,233.5" fill="#b80000" fill-opacity="0.55" stroke="#200000" stroke-opacity="0.6" stroke-width="0.6"/>
<polygon points="459.1,236.6 465.1,236.6 462.1,241.5" fill="#b80000" fill-opacity="0.55" stroke="#200000" stroke-opacity="0.6" stroke-width="0.6"/>
<polygon points="452.6,233.3 458.6,233.3 455.6,238.2" fill="#b80000" fill-opacity="0.55" stroke="#200000" stroke-opacity="0.6" stroke-width="0.6"/>
<polygon points="457.8,232.9 463.8,232.9 460.8,237.8" fill="#b80000" fill-opacity="0.55" stroke="#200000" stroke-opacity="0.6" stroke-width="0.6"/>
<polygon points="455.3,231.4 461.3,231.4 458.3,236.4" fill="#b80000" fill-opacity="0.55" stroke="#200000" stroke-opacity="0.6" stroke-width="0.6"/>
<polygon points="455.5,230.7 461.5,230.7 458.5,235.7" fill="#b80000" fill-opacity="0.55" stroke="#200000" stroke-opacity="0.6" stroke-width="0.6"/>
<polygon points="453.8,237.4 459.8,237.4 456.8,242.4" fill="#b80000" fill-opacity="0.55" stroke="#200000" stroke-opacity="0.6" stroke-width="0.6"/>
<polygon points="451.7,233.3 457.7,233.3 454.7,238.2" fill="#b80000" fill-opacity="0.55" stroke="#200000" stroke-opacity="0.6" stroke-width="0.6"/>
<polygon points="452.8,230.6 458.8,230.6 455.8,235.5" fill="#b80000" fill-opacity="0.55" stroke="#200000" stroke-opacity="0.6" stroke-width="0.6"/>
<polygon points="457.1,226.6 463.1,226.6 460.1,231.5" fill="#b80000" fill-opacity="0.55" stroke="#200000" stroke-opacity="0.6" stroke-width="0.6"/>
<polygon points="455.2,233.5 461.2,233.5 458.2,238.5" fill="#b80000" fill-opacity="0.55" stroke="#200000" stroke-opacity="0.6" stroke-width="0.6"/>
<polygon points="456.7,227.4 462.7,227.4 459.7,232.4" fill="#b80000" fill-opacity="0.55" stroke="#200000" stroke-opacity="0.6" stroke-width="0.6"/>
<polygon points="455.2,230.1 461.2,230.1 458.2,235.1" fill="#b80000" fill-opacity="0.55" stroke="#200000" stroke-opacity="0.6" stroke-width="0.6"/>
<polygon points="459.0,236.6 465.0,236.6 462.0,241.5" fill="#b80000" fill-opacity="0.55" stroke="#200000" stroke-opacity="0.6" stroke-width="0.6"/>
<polygon points="456.9,235.6 462.9,235.6 459.9,240.6" fill="#b80000" fill-opacity="0.55" stroke="#200000" stroke-opacity="0.6" stroke-width="0.6"/>
<polygon points="455.1,237.9 461.1,237.9 458.1,242.9" fill="#b80000" fill-opacity="0.55" stroke="#200000" stroke-opacity="0.6" stroke-width="0.6"/>
<polygon points="458.2,236.9 464.2,236.9 461.2,241.8" fill="#b80000" fill-opacity="0.55" stroke="#200000" stroke-opacity="0.6" stroke-width="0.6"/>
<polygon points="452.6,234.5 458.6,234.5 455.6,239.5" fill="#b80000" fill-opacity="0.55" stroke="#200000" stroke-opacity="0.6" stroke-width="0.6"/>
<polygon points="457.7,234.5 463.7,234.5 460.7,239.5" fill="#b80000" fill-opacity="0.55" stroke="#200000" stroke-opacity="0.6" stroke-width="0.6"/>
<polygon points="459.9,228.9 465.9,228.9 462.9,233.9" fill="#b80000" fill-opacity="0.55" stroke="#200000" stroke-opacity="0.6" stroke-width="0.6"/>
<polygon points="452.2,232.9 458.2,232.9 455.2,237.9" fill="#b80000" fill-opacity="0.55" stroke="#200000" stroke-opacity="0.6" stroke-width="0.6"/>
<polygon points="460.1,232.0 466.1,232.0 463.1,236.9" fill="#b80000" fill-opacity="0.55" stroke="#200000" stroke-opacity="0.6" stroke-width="0.6"/>
<polygon points="459.1,233.6 465.1,233.6 462.1,238.5" fill="#b80000" fill-opacity="0.55" stroke="#200000" stroke-opacity="0.6" stroke-width="0.6"/>
<polygon points="460.1,232.8 466.1,232.8 463.1,237.8" fill="#b80000" fill-opacity="0.55" stroke="#200000" stroke-opacity="0.6" stroke-width="0.6"/>
<polygon points="453.7,227.6 459.7,227.6 456.7,232.5" fill="#b80000" fill-opacity="0.55" stroke="#200000" stroke-opacity="0.6" stroke-width="0.6"/>
<polygon points="458.8,234.0 464.8,234.0 461.8,239.0" fill="#b80000" fill-opacity="0.55" stroke="#200000" stroke-opacity="0.6" stroke-width="0.6"/>
<polygon points="454.0,225.2 460.0,225.2 457.0,230.2" fill="#e04040" fill-opacity="0.4" stroke="#500000" stroke-opacity="0.5" stroke-width="0.6"/>
<polygon points="459.0,224.7 465.0,224.7 462.0,229.7" fill="#e04040" fill-opacity="0.4" stroke="#500000" stroke-opacity="0.5" stroke-width="0.6"/>
<polygon points="466.0,238.2 472.0,238.2 469.0,243.2" fill="#e04040" fill-opacity="0.4" stroke="#500000" stroke-opacity="0.5" stroke-width="0.6"/>
<polygon points="465.0,255.2 471.0,255.2 468.0,260.1" fill="#e04040" fill-opacity="0.4" stroke="#500000" stroke-opacity="0.5" stroke-width="0.6"/>
<polygon points="444.0,235.2 450.0,235.2 447.0,240.2" fill="#e04040" fill-opacity="0.4" stroke="#500000" stroke-opacity="0.5" stroke-width="0.6"/>
<polygon points="462.0,257.2 468.0,257.2 465.0,262.1" fill="#e04040" fill-opacity="0.4" stroke="#500000" stroke-opacity="0.5" stroke-width="0.6"/>
<polygon points="437.0,250.2 443.0,250.2 440.0,255.2" fill="#e04040" fill-opacity="0.4" stroke="#500000" stroke-opacity="0.5" stroke-width="0.6"/>
<polygon points="433.0,260.2 439.0,260.2 436.0,265.1" fill="#e04040" fill-opacity="0.4" stroke="#500000" stroke-opacity="0.5" stroke-width="0.6"/>
<polygon points="428.0,264.2 434.0,264.2 431.0,269.1" fill="#e04040" fill-opacity="0.4" stroke="#500000" stroke-opacity="0.5" stroke-width="0.6"/>
</g>
<rect x="343.4" y="217.0" width="135.60000000000002" height="101.60000000000002" fill="none" stroke="#000" stroke-width="1.2"/>
<path d="M343.40,318.6v-3.5M343.40,217.0v3.5M394.25,318.6v-3.5M394.25,217.0v3.5M445.10,318.6v-3.5M445.10,217.0v3.5M343.4,316.30h3.5M479.0,316.30h-3.5M343.4,273.75h3.5M479.0,273.75h-3.5M343.4,231.20h3.5M479.0,231.20h-3.5" stroke="#000" stroke-width="1" fill="none"/>
<rect x="72.0" y="12.5" width="434.0" height="333.8" fill="none" stroke="#000" stroke-width="1.5"/>
<path d="M72.00,346.3v-4.5M72.00,12.5v4.5M115.55,346.3v-2.3M115.55,12.5v2.3M141.02,346.3v-2.3M141.02,12.5v2.3M159.10,346.3v-2.3M159.10,12.5v2.3M173.12,346.3v-2.3M173.12,12.5v2.3M184.57,346.3v-2.3M184.57,12.5v2.3M194.26,346.3v-2.3M194.26,12.5v2.3M202.65,346.3v-2.3M202.65,12.5v2.3M210.05,346.3v-2.3M210.05,12.5v2.3M216.67,346.3v-4.5M216.67,12.5v4.5M260.22,346.3v-2.3M260.22,12.5v2.3M285.69,346.3v-2.3M285.69,12.5v2.3M303.76,346.3v-2.3M303.76,12.5v2.3M317.78,346.3v-2.3M317.78,12.5v2.3M329.24,346.3v-2.3M329.24,12.5v2.3M338.92,346.3v-2.3M338.92,12.5v2.3M347.31,346.3v-2.3M347.31,12.5v2.3M354.71,346.3v-2.3M354.71,12.5v2.3M361.33,346.3v-4.5M361.33,12.5v4.5M404.88,346.3v-2.3M404.88,12.5v2.3M430.36,346.3v-2.3M430.36,12.5v2.3M448.43,346.3v-2.3M448.43,12.5v2.3M462.45,346.3v-2.3M462.45,12.5v2.3M473.91,346.3v-2.3M473.91,12.5v2.3M483.59,346.3v-2.3M483.59,12.5v2.3M491.98,346.3v-2.3M491.98,12.5v2.3M499.38,346.3v-2.3M499.38,12.5v2.3M72.0,346.30h4.5M506.0,346.30h-4.5M72.0,333.74h2.3M506.0,333.74h-2.3M72.0,326.39h2.3M506.0,326.39h-2.3M72.0,321.18h2.3M506.0,321.18h-2.3M72.0,317.14h2.3M506.0,317.14h-2.3M72.0,313.83h2.3M506.0,313.83h-2.3M72.0,311.04h2.3M506.0,311.04h-2.3M72.0,308.62h2.3M506.0,308.62h-2.3M72.0,306.48h2.3M506.0,306.48h-2.3M72.0,304.57h4.5M506.0,304.57h-4.5M72.0,292.01h2.3M506.0,292.01h-2.3M72.0,284.67h2.3M506.0,284.67h-2.3M72.0,279.45h2.3M506.0,279.45h-2.3M72.0,275.41h2.3M506.0,275.41h-2.3M72.0,272.11h2.3M506.0,272.11h-2.3M72.0,269.31h2.3M506.0,269.31h-2.3M72.0,266.89h2.3M506.0,266.89h-2.3M72.0,264.76h2.3M506.0,264.76h-2.3M72.0,262.85h4.5M506.0,262.85h-4.5M72.0,250.29h2.3M506.0,250.29h-2.3M72.0,242.94h2.3M506.0,242.94h-2.3M72.0,237.73h2.3M506.0,237.73h-2.3M72.0,233.69h2.3M506.0,233.69h-2.3M72.0,230.38h2.3M506.0,230.38h-2.3M72.0,227.59h2.3M506.0,227.59h-2.3M72.0,225.17h2.3M506.0,225.17h-2.3M72.0,223.03h2.3M506.0,223.03h-2.3M72.0,221.12h4.5M506.0,221.12h-4.5M72.0,208.56h2.3M506.0,208.56h-2.3M72.0,201.22h2.3M506.0,201.22h-2.3M72.0,196.00h2.3M506.0,196.00h-2.3M72.0,191.96h2.3M506.0,191.96h-2.3M72.0,188.66h2.3M506.0,188.66h-2.3M72.0,185.86h2.3M506.0,185.86h-2.3M72.0,183.44h2.3M506.0,183.44h-2.3M72.0,181.31h2.3M506.0,181.31h-2.3M72.0,179.40h4.5M506.0,179.40h-4.5M72.0,166.84h2.3M506.0,166.84h-2.3M72.0,159.49h2.3M506.0,159.49h-2.3M72.0,154.28h2.3M506.0,154.28h-2.3M72.0,150.24h2.3M506.0,150.24h-2.3M72.0,146.93h2.3M506.0,146.93h-2.3M72.0,144.14h2.3M506.0,144.14h-2.3M72.0,141.72h2.3M506.0,141.72h-2.3M72.0,139.58h2.3M506.0,139.58h-2.3M72.0,137.68h4.5M506.0,137.68h-4.5M72.0,125.11h2.3M506.0,125.11h-2.3M72.0,117.77h2.3M506.0,117.77h-2.3M72.0,112.55h2.3M506.0,112.55h-2.3M72.0,108.51h2.3M506.0,108.51h-2.3M72.0,105.21h2.3M506.0,105.21h-2.3M72.0,102.41h2.3M506.0,102.41h-2.3M72.0,99.99h2.3M506.0,99.99h-2.3M72.0,97.86h2.3M506.0,97.86h-2.3M72.0,95.95h4.5M506.0,95.95h-4.5M72.0,83.39h2.3M506.0,83.39h-2.3M72.0,76.04h2.3M506.0,76.04h-2.3M72.0,70.83h2.3M506.0,70.83h-2.3M72.0,66.79h2.3M506.0,66.79h-2.3M72.0,63.48h2.3M506.0,63.48h-2.3M72.0,60.69h2.3M506.0,60.69h-2.3M72.0,58.27h2.3M506.0,58.27h-2.3M72.0,56.13h2.3M506.0,56.13h-2.3M72.0,54.23h4.5M506.0,54.23h-4.5M72.0,41.66h2.3M506.0,41.66h-2.3M72.0,34.32h2.3M506.0,34.32h-2.3M72.0,29.10h2.3M506.0,29.10h-2.3M72.0,25.06h2.3M506.0,25.06h-2.3M72.0,21.76h2.3M506.0,21.76h-2.3M72.0,18.96h2.3M506.0,18.96h-2.3M72.0,16.54h2.3M506.0,16.54h-2.3M72.0,14.41h2.3M506.0,14.41h-2.3" stroke="#000" stroke-width="1.15" fill="none"/>
<text transform="translate(27.00,352.40) scale(0.9837,1)" font-family="'Liberation Serif','DejaVu Serif',serif" font-size="21.5" font-weight="normal" fill="#000" stroke="#000" stroke-width="0.3">10</text>
<text transform="translate(48.38,344.90) scale(1.3617,1)" font-family="'Liberation Serif','DejaVu Serif',serif" font-size="15" font-weight="normal" fill="#000" stroke="#000" stroke-width="0.3">−</text>
<text transform="translate(60.37,343.80) scale(1.0569,1)" font-family="'Liberation Serif','DejaVu Serif',serif" font-size="15" font-weight="normal" fill="#000" stroke="#000" stroke-width="0.3">2</text>
<text transform="translate(27.00,310.68) scale(0.9837,1)" font-family="'Liberation Serif','DejaVu Serif',serif" font-size="21.5" font-weight="normal" fill="#000" stroke="#000" stroke-width="0.3">10</text>
<text transform="translate(48.38,303.18) scale(1.3617,1)" font-family="'Liberation Serif','DejaVu Serif',serif" font-size="15" font-weight="normal" fill="#000" stroke="#000" stroke-width="0.3">−</text>
<text transform="translate(59.63,302.07) scale(1.0857,1)" font-family="'Liberation Serif','DejaVu Serif',serif" font-size="15" font-weight="normal" fill="#000" stroke="#000" stroke-width="0.3">1</text>
<text transform="translate(39.32,268.95) scale(0.9730,1)" font-family="'Liberation Serif','DejaVu Serif',serif" font-size="21.5" font-weight="normal" fill="#000" stroke="#000" stroke-width="0.3">10</text>
<text transform="translate(60.56,260.65) scale(0.9048,1)" font-family="'Liberation Serif','DejaVu Serif',serif" font-size="15" font-weight="normal" fill="#000" stroke="#000" stroke-width="0.3">0</text>
<text transform="translate(39.32,227.22) scale(0.9730,1)" font-family="'Liberation Serif','DejaVu Serif',serif" font-size="21.5" font-weight="normal" fill="#000" stroke="#000" stroke-width="0.3">10</text>
<text transform="translate(59.63,218.93) scale(1.0857,1)" font-family="'Liberation Serif','DejaVu Serif',serif" font-size="15" font-weight="normal" fill="#000" stroke="#000" stroke-width="0.3">1</text>
<text transform="translate(39.32,185.50) scale(0.9730,1)" font-family="'Liberation Serif','DejaVu Serif',serif" font-size="21.5" font-weight="normal" fill="#000" stroke="#000" stroke-width="0.3">10</text>
<text transform="translate(60.54,177.20) scale(0.9268,1)" font-family="'Liberation Serif','DejaVu Serif',serif" font-size="15" font-weight="normal" fill="#000" stroke="#000" stroke-width="0.3">2</text>
<text transform="translate(39.32,143.78) scale(0.9730,1)" font-family="'Liberation Serif','DejaVu Serif',serif" font-size="21.5" font-weight="normal" fill="#000" stroke="#000" stroke-width="0.3">10</text>
<text transform="translate(60.40,135.48) scale(0.9268,1)" font-family="'Liberation Serif','DejaVu Serif',serif" font-size="15" font-weight="normal" fill="#000" stroke="#000" stroke-width="0.3">3</text>
<text transform="translate(39.32,102.05) scale(0.9730,1)" font-family="'Liberation Serif','DejaVu Serif',serif" font-size="21.5" font-weight="normal" fill="#000" stroke="#000" stroke-width="0.3">10</text>
<text transform="translate(60.86,93.75) scale(0.8085,1)" font-family="'Liberation Serif','DejaVu Serif',serif" font-size="15" font-weight="normal" fill="#000" stroke="#000" stroke-width="0.3">4</text>
<text transform="translate(39.32,60.33) scale(0.9730,1)" font-family="'Liberation Serif','DejaVu Serif',serif" font-size="21.5" font-weight="normal" fill="#000" stroke="#000" stroke-width="0.3">10</text>
<text transform="translate(60.25,52.02) scale(0.9500,1)" font-family="'Liberation Serif','DejaVu Serif',serif" font-size="15" font-weight="normal" fill="#000" stroke="#000" stroke-width="0.3">5</text>
<text transform="translate(39.32,18.60) scale(0.9730,1)" font-family="'Liberation Serif','DejaVu Serif',serif" font-size="21.5" font-weight="normal" fill="#000" stroke="#000" stroke-width="0.3">10</text>
<text transform="translate(60.57,10.30) scale(0.8837,1)" font-family="'Liberation Serif','DejaVu Serif',serif" font-size="15" font-weight="normal" fill="#000" stroke="#000" stroke-width="0.3">6</text>
<text transform="translate(57.41,366.00) scale(0.9783,1)" font-family="'Liberation Serif','DejaVu Serif',serif" font-size="21.5" font-weight="normal" fill="#000" stroke="#000" stroke-width="0.3">10</text>
<text transform="translate(77.86,357.80) scale(1.1429,1)" font-family="'Liberation Serif','DejaVu Serif',serif" font-size="15" font-weight="normal" fill="#000" stroke="#000" stroke-width="0.3">1</text>
<text transform="translate(202.07,366.00) scale(0.9783,1)" font-family="'Liberation Serif','DejaVu Serif',serif" font-size="21.5" font-weight="normal" fill="#000" stroke="#000" stroke-width="0.3">10</text>
<text transform="translate(223.48,357.80) scale(0.9756,1)" font-family="'Liberation Serif','DejaVu Serif',serif" font-size="15" font-weight="normal" fill="#000" stroke="#000" stroke-width="0.3">2</text>
<text transform="translate(346.74,366.00) scale(0.9783,1)" font-family="'Liberation Serif','DejaVu Serif',serif" font-size="21.5" font-weight="normal" fill="#000" stroke="#000" stroke-width="0.3">10</text>
<text transform="translate(368.00,357.80) scale(0.9756,1)" font-family="'Liberation Serif','DejaVu Serif',serif" font-size="15" font-weight="normal" fill="#000" stroke="#000" stroke-width="0.3">3</text>
<text transform="translate(491.41,366.00) scale(0.9783,1)" font-family="'Liberation Serif','DejaVu Serif',serif" font-size="21.5" font-weight="normal" fill="#000" stroke="#000" stroke-width="0.3">10</text>
<text transform="translate(513.14,357.80) scale(0.8511,1)" font-family="'Liberation Serif','DejaVu Serif',serif" font-size="15" font-weight="normal" fill="#000" stroke="#000" stroke-width="0.3">4</text>
<text transform="translate(198.18,392.0) scale(1.0671,1)" font-family="'Liberation Serif','DejaVu Serif',serif" font-size="21.5" stroke="#000" stroke-width="0.3">IR laser energy (<tspan font-style="italic">μ</tspan>J)</text>
<text transform="translate(16.8,263.20) rotate(-90) scale(1.0449,1)" font-family="'Liberation Serif','DejaVu Serif',serif" font-size="21.5" stroke="#000" stroke-width="0.3">bunch charge (pC)</text>
<text transform="translate(85.85,64.31) scale(0.8152,1)" font-family="'Liberation Serif','DejaVu Serif',serif" font-size="30.67" font-weight="normal" fill="#000" stroke="#000" stroke-width="0.9">(</text>
<text transform="translate(95.63,62.90) scale(1.3714,1)" font-family="'Liberation Serif','DejaVu Serif',serif" font-size="24.79" font-weight="normal" fill="#000" stroke="#000" stroke-width="0.9">a</text>
<text transform="translate(112.55,64.31) scale(0.7651,1)" font-family="'Liberation Serif','DejaVu Serif',serif" font-size="30.67" font-weight="normal" fill="#000" stroke="#000" stroke-width="0.9">)</text>
<text transform="translate(356.47,254.71) scale(0.7661,1)" font-family="'Liberation Serif','DejaVu Serif',serif" font-size="27.11" font-weight="normal" fill="#000" stroke="#000" stroke-width="0.8">(</text>
<text transform="translate(366.25,253.79) scale(1.3611,1)" font-family="'Liberation Serif','DejaVu Serif',serif" font-size="25.71" font-weight="normal" fill="#000" stroke="#000" stroke-width="0.9">b</text>
<text transform="translate(385.81,254.71) scale(0.7235,1)" font-family="'Liberation Serif','DejaVu Serif',serif" font-size="27.11" font-weight="normal" fill="#000" stroke="#000" stroke-width="0.8">)</text>
<text transform="translate(308.36,236.40) scale(0.9413,1)" font-family="'Liberation Serif','DejaVu Serif',serif" font-size="22" font-weight="normal" fill="#000" stroke="#000" stroke-width="0.3">300</text>
<text transform="translate(308.52,280.60) scale(0.9489,1)" font-family="'Liberation Serif','DejaVu Serif',serif" font-size="22" font-weight="normal" fill="#000" stroke="#000" stroke-width="0.3">150</text>
<text transform="translate(328.94,323.90) scale(0.9740,1)" font-family="'Liberation Serif','DejaVu Serif',serif" font-size="22" font-weight="normal" fill="#000" stroke="#000" stroke-width="0.3">0</text>
<text transform="translate(337.55,337.80) scale(0.9632,1)" font-family="'Liberation Serif','DejaVu Serif',serif" font-size="22" font-weight="normal" fill="#000" stroke="#000" stroke-width="0.3">0</text>
<text transform="translate(378.17,337.80) scale(0.9411,1)" font-family="'Liberation Serif','DejaVu Serif',serif" font-size="22" font-weight="normal" fill="#000" stroke="#000" stroke-width="0.3">600</text>
<text transform="translate(424.25,337.80) scale(0.9334,1)" font-family="'Liberation Serif','DejaVu Serif',serif" font-size="22" font-weight="normal" fill="#000" stroke="#000" stroke-width="0.3">1200</text>
<g font-family="'Liberation Serif','DejaVu Serif',serif" font-size="21.5" font-weight="bold" fill="#a00aa8">
<text transform="translate(119.9,158.2) rotate(-15.8) scale(1.1686,1)">ultraviolet</text>
<text transform="translate(237.42,123.41) rotate(-15.8) scale(1.202,1)">pulse</text>
</g>
</svg></body></html>
